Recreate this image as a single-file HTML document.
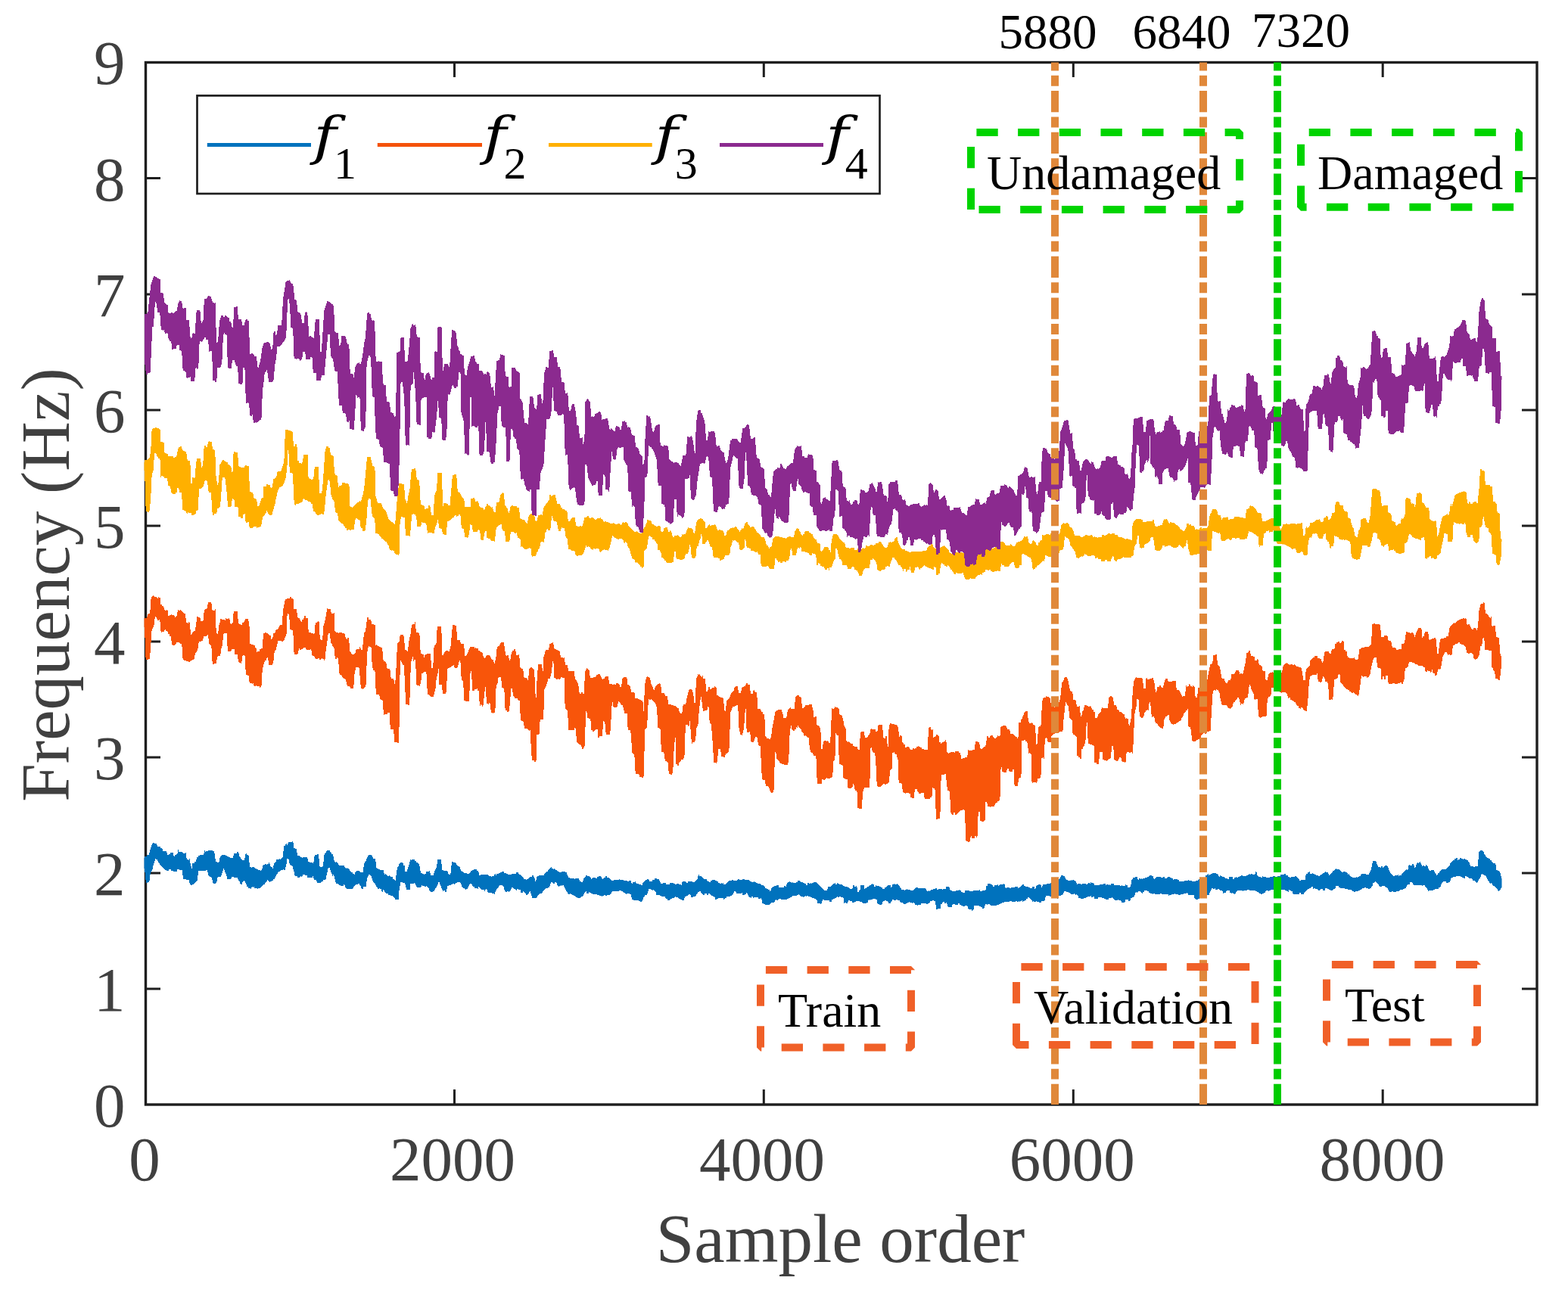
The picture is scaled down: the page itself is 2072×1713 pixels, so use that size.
<!DOCTYPE html>
<html><head><meta charset="utf-8"><title>Frequency vs sample order</title>
<style>
html,body{margin:0;padding:0;background:#fff;}
body{width:2072px;height:1713px;overflow:hidden;}
svg{display:block;}
.tk{font-family:"Liberation Serif","Times New Roman",serif;font-size:83px;fill:#404040;}
.lb{font-family:"Liberation Serif","Times New Roman",serif;font-size:91px;fill:#404040;}
.an{font-family:"Liberation Serif","Times New Roman",serif;font-size:64px;fill:#000;}
.lg{font-family:"Liberation Serif","Times New Roman",serif;fill:#000;}
</style></head>
<body>
<svg width="2072" height="1713" viewBox="0 0 2072 1713">
<rect width="2072" height="1713" fill="#fff"/>
<!-- DATA -->
<!-- axes box -->
<g stroke="#1e1e1e" fill="none">
<rect x="192.5" y="82.5" width="1838.5" height="1377.5" stroke-width="3.4"/>
<path stroke-width="3" d="
M192.5 1307H212 M192.5 1154H212 M192.5 1001H212 M192.5 848H212 M192.5 695H212 M192.5 542H212 M192.5 389H212 M192.5 235.5H212
M2031 1307H2011 M2031 1154H2011 M2031 1001H2011 M2031 848H2011 M2031 695H2011 M2031 542H2011 M2031 389H2011 M2031 235.5H2011
M600.5 1460V1440 M1009.3 1460V1440 M1418.3 1460V1440 M1827.2 1460V1440
M600.5 82.5V102 M1009.3 82.5V102 M1418.3 82.5V102 M1827.2 82.5V102"/>
</g>
<g id="curves">
<polygon fill="#0072BD" points="190.5,1134 191,1134 191,1132 194,1132 194,1130 197,1130 197,1127 198,1127 198,1123 199,1123 199,1120 200,1120 200,1117 201,1117 201,1115 202,1115 202,1114 204,1114 204,1115 207,1115 207,1117 208,1117 208,1119 212,1119 212,1121 214,1121 214,1122 215,1122 215,1125 220,1125 220,1127 221,1127 221,1130 223,1130 223,1129 225,1129 225,1127 229,1127 229,1131 230,1131 230,1132 231,1132 231,1130 233,1130 233,1129 234,1129 234,1128 235,1128 235,1123 236,1123 236,1126 241,1126 241,1127 242,1127 242,1128 245,1128 245,1127 246,1127 246,1134 247,1134 247,1136 249,1136 249,1137 250,1137 250,1135 251,1135 251,1141 252,1141 252,1145 253,1145 253,1148 254,1148 254,1141 257,1141 257,1139 259,1139 259,1136 260,1136 260,1133 262,1133 262,1131 264,1131 264,1130 269,1130 269,1128 270,1128 270,1124 271,1124 271,1126 272,1126 272,1125 275,1125 275,1124 281,1124 281,1125 283,1125 283,1128 284,1128 284,1135 285,1135 285,1139 287,1139 287,1140 289,1140 289,1139 290,1139 290,1134 291,1134 291,1132 292,1132 292,1131 293,1131 293,1130 298,1130 298,1131 300,1131 300,1132 302,1132 302,1133 304,1133 304,1134 308,1134 308,1131 309,1131 309,1128 313,1128 313,1126 315,1126 315,1128 316,1128 316,1132 317,1132 317,1133 318,1133 318,1135 319,1135 319,1136 320,1136 320,1137 323,1137 323,1134 324,1134 324,1129 325,1129 325,1128 326,1128 326,1130 328,1130 328,1131 329,1131 329,1140 330,1140 330,1146 332,1146 332,1147 333,1147 333,1146 336,1146 336,1147 337,1147 337,1148 339,1148 339,1149 341,1149 341,1150 344,1150 344,1151 345,1151 345,1150 346,1150 346,1148 347,1148 347,1144 348,1144 348,1143 350,1143 350,1142 352,1142 352,1143 353,1143 353,1142 355,1142 355,1140 356,1140 356,1142 357,1142 357,1145 358,1145 358,1146 360,1146 360,1148 361,1148 361,1144 362,1144 362,1141 363,1141 363,1140 364,1140 364,1139 365,1139 365,1136 369,1136 369,1135 370,1135 370,1136 371,1136 371,1135 372,1135 372,1134 373,1134 373,1133 374,1133 374,1125 375,1125 375,1118 377,1118 377,1116 378,1116 378,1115 379,1115 379,1117 380,1117 380,1115 381,1115 381,1113 386,1113 386,1112 387,1112 387,1114 388,1114 388,1121 390,1121 390,1122 392,1122 392,1127 393,1127 393,1131 396,1131 396,1132 397,1132 397,1133 399,1133 399,1134 400,1134 400,1133 406,1133 406,1135 407,1135 407,1139 409,1139 409,1140 413,1140 413,1141 414,1141 414,1139 415,1139 415,1132 416,1132 416,1130 419,1130 419,1129 421,1129 421,1135 422,1135 422,1145 423,1145 423,1146 426,1146 426,1145 427,1145 427,1139 428,1139 428,1130 429,1130 429,1128 430,1128 430,1127 431,1127 431,1125 432,1125 432,1124 436,1124 436,1126 437,1126 437,1127 438,1127 438,1129 440,1129 440,1132 441,1132 441,1137 442,1137 442,1139 443,1139 443,1140 444,1140 444,1139 445,1139 445,1140 446,1140 446,1141 447,1141 447,1143 448,1143 448,1144 455,1144 455,1146 456,1146 456,1147 457,1147 457,1148 458,1148 458,1147 459,1147 459,1148 461,1148 461,1149 462,1149 462,1151 463,1151 463,1152 464,1152 464,1153 466,1153 466,1155 468,1155 468,1156 469,1156 469,1153 470,1153 470,1152 471,1152 471,1151 475,1151 475,1152 476,1152 476,1153 480,1153 480,1146 481,1146 481,1141 482,1141 482,1139 483,1139 483,1138 484,1138 484,1135 485,1135 485,1133 486,1133 486,1131 487,1131 487,1130 491,1130 491,1131 492,1131 492,1133 493,1133 493,1135 496,1135 496,1139 497,1139 497,1147 498,1147 498,1148 500,1148 500,1149 502,1149 502,1150 507,1150 507,1154 508,1154 508,1156 509,1156 509,1155 510,1155 510,1156 511,1156 511,1157 512,1157 512,1158 514,1158 514,1157 515,1157 515,1158 516,1158 516,1159 519,1159 519,1162 521,1162 521,1163 522,1163 522,1164 523,1164 523,1157 524,1157 524,1150 525,1150 525,1146 526,1146 526,1145 527,1145 527,1142 528,1142 528,1141 529,1141 529,1140 532,1140 532,1141 533,1141 533,1144 535,1144 535,1152 538,1152 538,1149 539,1149 539,1146 540,1146 540,1143 541,1143 541,1139 542,1139 542,1136 543,1136 543,1137 544,1137 544,1136 548,1136 548,1138 550,1138 550,1140 552,1140 552,1141 553,1141 553,1142 554,1142 554,1145 555,1145 555,1151 556,1151 556,1154 558,1154 558,1155 560,1155 560,1156 561,1156 561,1155 563,1155 563,1152 567,1152 567,1151 568,1151 568,1154 569,1154 569,1157 573,1157 573,1154 574,1154 574,1151 575,1151 575,1149 576,1149 576,1147 577,1147 577,1142 578,1142 578,1136 583,1136 583,1142 584,1142 584,1150 586,1150 586,1151 591,1151 591,1152 592,1152 592,1155 593,1155 593,1156 595,1156 595,1154 596,1154 596,1144 597,1144 597,1139 599,1139 599,1140 602,1140 602,1141 603,1141 603,1143 604,1143 604,1144 605,1144 605,1145 607,1145 607,1146 608,1146 608,1149 609,1149 609,1151 610,1151 610,1152 612,1152 612,1153 613,1153 613,1154 617,1154 617,1155 620,1155 620,1154 621,1154 621,1153 622,1153 622,1151 624,1151 624,1150 626,1150 626,1149 630,1149 630,1151 632,1151 632,1153 633,1153 633,1157 635,1157 635,1156 645,1156 645,1157 646,1157 646,1158 649,1158 649,1159 650,1159 650,1158 653,1158 653,1156 654,1156 654,1155 655,1155 655,1157 656,1157 656,1155 659,1155 659,1154 661,1154 661,1153 663,1153 663,1152 666,1152 666,1154 669,1154 669,1155 671,1155 671,1156 676,1156 676,1155 682,1155 682,1153 685,1153 685,1155 686,1155 686,1156 688,1156 688,1157 689,1157 689,1158 690,1158 690,1159 691,1159 691,1160 692,1160 692,1162 695,1162 695,1163 696,1163 696,1162 698,1162 698,1161 699,1161 699,1160 700,1160 700,1159 703,1159 703,1157 705,1157 705,1159 706,1159 706,1161 707,1161 707,1165 708,1165 708,1163 709,1163 709,1159 710,1159 710,1158 712,1158 712,1157 719,1157 719,1155 720,1155 720,1154 721,1154 721,1153 722,1153 722,1152 724,1152 724,1150 725,1150 725,1149 726,1149 726,1148 727,1148 727,1147 728,1147 728,1146 729,1146 729,1148 731,1148 731,1149 732,1149 732,1148 733,1148 733,1149 734,1149 734,1150 736,1150 736,1151 737,1151 737,1152 739,1152 739,1153 742,1153 742,1152 747,1152 747,1153 749,1153 749,1156 750,1156 750,1158 751,1158 751,1160 753,1160 753,1161 759,1161 759,1162 760,1162 760,1161 765,1161 765,1163 766,1163 766,1165 768,1165 768,1166 770,1166 770,1164 771,1164 771,1161 772,1161 772,1160 773,1160 773,1159 774,1159 774,1157 776,1157 776,1158 779,1158 779,1159 780,1159 780,1160 781,1160 781,1162 782,1162 782,1161 783,1161 783,1160 787,1160 787,1161 789,1161 789,1159 791,1159 791,1158 794,1158 794,1159 795,1159 795,1161 796,1161 796,1162 797,1162 797,1161 798,1161 798,1160 800,1160 800,1158 802,1158 802,1160 805,1160 805,1161 806,1161 806,1162 807,1162 807,1163 808,1163 808,1164 811,1164 811,1163 818,1163 818,1162 819,1162 819,1163 824,1163 824,1164 829,1164 829,1165 831,1165 831,1164 834,1164 834,1167 835,1167 835,1168 836,1168 836,1166 839,1166 839,1165 840,1165 840,1167 841,1167 841,1168 844,1168 844,1169 847,1169 847,1170 849,1170 849,1167 850,1167 850,1166 851,1166 851,1165 852,1165 852,1164 853,1164 853,1163 855,1163 855,1162 857,1162 857,1163 858,1163 858,1165 862,1165 862,1163 865,1163 865,1161 868,1161 868,1162 871,1162 871,1164 872,1164 872,1166 873,1166 873,1168 876,1168 876,1167 880,1167 880,1169 885,1169 885,1167 890,1167 890,1168 892,1168 892,1169 894,1169 894,1168 897,1168 897,1169 900,1169 900,1170 901,1170 901,1166 902,1166 902,1165 906,1165 906,1166 907,1166 907,1167 909,1167 909,1165 915,1165 915,1166 918,1166 918,1165 919,1165 919,1164 920,1164 920,1163 921,1163 921,1162 922,1162 922,1158 923,1158 923,1156 924,1156 924,1158 927,1158 927,1159 928,1159 928,1160 929,1160 929,1161 930,1161 930,1162 934,1162 934,1164 935,1164 935,1165 937,1165 937,1166 939,1166 939,1164 941,1164 941,1163 945,1163 945,1164 947,1164 947,1165 949,1165 949,1167 951,1167 951,1168 953,1168 953,1167 954,1167 954,1168 955,1168 955,1167 956,1167 956,1169 959,1169 959,1168 960,1168 960,1167 961,1167 961,1166 962,1166 962,1165 963,1165 963,1164 967,1164 967,1163 969,1163 969,1164 974,1164 974,1163 975,1163 975,1162 977,1162 977,1163 981,1163 981,1162 984,1162 984,1163 990,1163 990,1164 991,1164 991,1165 993,1165 993,1166 996,1166 996,1165 997,1165 997,1166 999,1166 999,1167 1001,1167 1001,1168 1005,1168 1005,1169 1006,1169 1006,1170 1009,1170 1009,1171 1010,1171 1010,1172 1011,1172 1011,1174 1013,1174 1013,1175 1015,1175 1015,1176 1017,1176 1017,1178 1018,1178 1018,1177 1019,1177 1019,1174 1020,1174 1020,1173 1021,1173 1021,1172 1023,1172 1023,1171 1026,1171 1026,1170 1029,1170 1029,1173 1036,1173 1036,1171 1038,1171 1038,1172 1039,1172 1039,1169 1040,1169 1040,1167 1041,1167 1041,1166 1043,1166 1043,1165 1044,1165 1044,1166 1046,1166 1046,1167 1047,1167 1047,1166 1048,1166 1048,1167 1052,1167 1052,1166 1054,1166 1054,1164 1057,1164 1057,1165 1058,1165 1058,1166 1061,1166 1061,1167 1063,1167 1063,1168 1065,1168 1065,1170 1067,1170 1067,1167 1069,1167 1069,1168 1071,1168 1071,1167 1072,1167 1072,1168 1073,1168 1073,1167 1075,1167 1075,1166 1079,1166 1079,1167 1080,1167 1080,1168 1081,1168 1081,1169 1082,1169 1082,1170 1083,1170 1083,1171 1084,1171 1084,1172 1085,1172 1085,1173 1086,1173 1086,1174 1087,1174 1087,1175 1088,1175 1088,1176 1089,1176 1089,1177 1093,1177 1093,1175 1094,1175 1094,1172 1098,1172 1098,1171 1099,1171 1099,1170 1100,1170 1100,1169 1101,1169 1101,1168 1103,1168 1103,1167 1104,1167 1104,1169 1106,1169 1106,1167 1107,1167 1107,1168 1109,1168 1109,1169 1113,1169 1113,1170 1114,1170 1114,1171 1116,1171 1116,1172 1120,1172 1120,1173 1122,1173 1122,1174 1123,1174 1123,1175 1126,1175 1126,1174 1127,1174 1127,1170 1129,1170 1129,1172 1131,1172 1131,1171 1132,1171 1132,1173 1133,1173 1133,1179 1135,1179 1135,1177 1136,1177 1136,1176 1137,1176 1137,1170 1142,1170 1142,1175 1143,1175 1143,1174 1145,1174 1145,1173 1146,1173 1146,1172 1148,1172 1148,1171 1149,1171 1149,1170 1151,1170 1151,1169 1152,1169 1152,1168 1153,1168 1153,1169 1155,1169 1155,1172 1157,1172 1157,1170 1158,1170 1158,1171 1162,1171 1162,1172 1164,1172 1164,1173 1166,1173 1166,1175 1169,1175 1169,1173 1171,1173 1171,1172 1172,1172 1172,1171 1173,1171 1173,1170 1177,1170 1177,1173 1178,1173 1178,1172 1179,1172 1179,1169 1181,1169 1181,1168 1182,1168 1182,1169 1185,1169 1185,1168 1186,1168 1186,1169 1187,1169 1187,1170 1188,1170 1188,1171 1189,1171 1189,1173 1190,1173 1190,1174 1191,1174 1191,1176 1195,1176 1195,1177 1196,1177 1196,1176 1198,1176 1198,1175 1199,1175 1199,1176 1203,1176 1203,1177 1207,1177 1207,1176 1208,1176 1208,1175 1209,1175 1209,1174 1210,1174 1210,1173 1213,1173 1213,1174 1223,1174 1223,1175 1224,1175 1224,1177 1225,1177 1225,1178 1227,1178 1227,1177 1228,1177 1228,1178 1229,1178 1229,1177 1230,1177 1230,1176 1233,1176 1233,1175 1236,1175 1236,1174 1238,1174 1238,1176 1240,1176 1240,1175 1245,1175 1245,1176 1246,1176 1246,1175 1250,1175 1250,1172 1254,1172 1254,1173 1255,1173 1255,1176 1256,1176 1256,1177 1258,1177 1258,1178 1263,1178 1263,1177 1267,1177 1267,1176 1268,1176 1268,1177 1270,1177 1270,1179 1272,1179 1272,1180 1275,1180 1275,1177 1281,1177 1281,1178 1286,1178 1286,1177 1294,1177 1294,1176 1295,1176 1295,1178 1298,1178 1298,1177 1302,1177 1302,1176 1303,1176 1303,1171 1305,1171 1305,1168 1309,1168 1309,1169 1311,1169 1311,1170 1312,1170 1312,1172 1314,1172 1314,1170 1318,1170 1318,1169 1319,1169 1319,1171 1320,1171 1320,1170 1321,1170 1321,1169 1326,1169 1326,1168 1327,1168 1327,1169 1328,1169 1328,1173 1329,1173 1329,1174 1330,1174 1330,1173 1334,1173 1334,1174 1336,1174 1336,1173 1341,1173 1341,1172 1345,1172 1345,1174 1346,1174 1346,1173 1348,1173 1348,1172 1349,1172 1349,1171 1350,1171 1350,1170 1351,1170 1351,1169 1353,1169 1353,1171 1355,1171 1355,1172 1359,1172 1359,1173 1361,1173 1361,1174 1364,1174 1364,1172 1367,1172 1367,1175 1368,1175 1368,1174 1369,1174 1369,1171 1370,1171 1370,1170 1372,1170 1372,1169 1375,1169 1375,1170 1376,1170 1376,1173 1377,1173 1377,1171 1378,1171 1378,1169 1383,1169 1383,1168 1388,1168 1388,1167 1392,1167 1392,1166 1395,1166 1395,1165 1397,1165 1397,1163 1399,1163 1399,1162 1400,1162 1400,1161 1401,1161 1401,1159 1402,1159 1402,1157 1405,1157 1405,1158 1407,1158 1407,1160 1408,1160 1408,1162 1409,1162 1409,1163 1411,1163 1411,1164 1415,1164 1415,1163 1416,1163 1416,1164 1417,1164 1417,1163 1419,1163 1419,1164 1421,1164 1421,1165 1422,1165 1422,1167 1423,1167 1423,1169 1424,1169 1424,1168 1428,1168 1428,1169 1430,1169 1430,1168 1435,1168 1435,1169 1437,1169 1437,1168 1438,1168 1438,1167 1440,1167 1440,1168 1441,1168 1441,1166 1442,1166 1442,1167 1445,1167 1445,1168 1446,1168 1446,1170 1453,1170 1453,1169 1458,1169 1458,1168 1461,1168 1461,1170 1462,1170 1462,1169 1465,1169 1465,1170 1466,1170 1466,1169 1467,1169 1467,1170 1468,1170 1468,1168 1472,1168 1472,1170 1480,1170 1480,1171 1482,1171 1482,1170 1483,1170 1483,1171 1487,1171 1487,1169 1488,1169 1488,1170 1490,1170 1490,1173 1493,1173 1493,1172 1494,1172 1494,1169 1495,1169 1495,1163 1496,1163 1496,1162 1497,1162 1497,1160 1500,1160 1500,1159 1503,1159 1503,1162 1504,1162 1504,1163 1505,1163 1505,1161 1507,1161 1507,1162 1508,1162 1508,1161 1509,1161 1509,1162 1510,1162 1510,1161 1513,1161 1513,1160 1516,1160 1516,1159 1518,1159 1518,1158 1519,1158 1519,1157 1522,1157 1522,1158 1524,1158 1524,1161 1525,1161 1525,1162 1526,1162 1526,1161 1527,1161 1527,1160 1528,1160 1528,1159 1534,1159 1534,1160 1537,1160 1537,1159 1539,1159 1539,1161 1542,1161 1542,1160 1543,1160 1543,1159 1546,1159 1546,1160 1548,1160 1548,1161 1550,1161 1550,1163 1551,1163 1551,1162 1556,1162 1556,1163 1558,1163 1558,1165 1565,1165 1565,1164 1570,1164 1570,1163 1571,1163 1571,1164 1575,1164 1575,1165 1580,1165 1580,1164 1583,1164 1583,1163 1584,1163 1584,1162 1586,1162 1586,1163 1588,1163 1588,1162 1589,1162 1589,1161 1591,1161 1591,1160 1593,1160 1593,1157 1595,1157 1595,1156 1596,1156 1596,1155 1597,1155 1597,1157 1598,1157 1598,1156 1600,1156 1600,1155 1602,1155 1602,1154 1607,1154 1607,1155 1609,1155 1609,1156 1610,1156 1610,1158 1611,1158 1611,1159 1612,1159 1612,1157 1613,1157 1613,1158 1615,1158 1615,1159 1618,1159 1618,1160 1619,1160 1619,1161 1622,1161 1622,1162 1624,1162 1624,1159 1629,1159 1629,1162 1631,1162 1631,1160 1633,1160 1633,1159 1634,1159 1634,1160 1636,1160 1636,1159 1638,1159 1638,1158 1640,1158 1640,1157 1642,1157 1642,1158 1647,1158 1647,1157 1649,1157 1649,1156 1651,1156 1651,1155 1652,1155 1652,1156 1653,1156 1653,1155 1655,1155 1655,1156 1658,1156 1658,1155 1659,1155 1659,1152 1660,1152 1660,1153 1661,1153 1661,1157 1662,1157 1662,1158 1663,1158 1663,1159 1666,1159 1666,1160 1668,1160 1668,1158 1669,1158 1669,1159 1673,1159 1673,1160 1678,1160 1678,1159 1682,1159 1682,1158 1685,1158 1685,1159 1688,1159 1688,1158 1692,1158 1692,1156 1697,1156 1697,1155 1699,1155 1699,1157 1702,1157 1702,1159 1704,1159 1704,1160 1706,1160 1706,1159 1711,1159 1711,1158 1713,1158 1713,1159 1714,1159 1714,1160 1715,1160 1715,1161 1716,1161 1716,1162 1717,1162 1717,1164 1719,1164 1719,1163 1725,1163 1725,1157 1726,1157 1726,1155 1728,1155 1728,1153 1730,1153 1730,1152 1731,1152 1731,1155 1734,1155 1734,1154 1735,1154 1735,1155 1737,1155 1737,1156 1739,1156 1739,1157 1742,1157 1742,1158 1744,1158 1744,1157 1745,1157 1745,1156 1747,1156 1747,1155 1748,1155 1748,1154 1750,1154 1750,1153 1751,1153 1751,1152 1752,1152 1752,1153 1755,1153 1755,1155 1756,1155 1756,1157 1757,1157 1757,1156 1758,1156 1758,1155 1759,1155 1759,1154 1760,1154 1760,1153 1761,1153 1761,1151 1763,1151 1763,1150 1764,1150 1764,1149 1765,1149 1765,1148 1766,1148 1766,1149 1770,1149 1770,1150 1771,1150 1771,1151 1772,1151 1772,1152 1773,1152 1773,1153 1775,1153 1775,1152 1778,1152 1778,1153 1780,1153 1780,1154 1781,1154 1781,1156 1782,1156 1782,1155 1783,1155 1783,1157 1784,1157 1784,1158 1785,1158 1785,1159 1787,1159 1787,1160 1792,1160 1792,1159 1793,1159 1793,1160 1794,1160 1794,1159 1796,1159 1796,1158 1798,1158 1798,1156 1799,1156 1799,1155 1805,1155 1805,1156 1809,1156 1809,1154 1810,1154 1810,1152 1811,1152 1811,1150 1812,1150 1812,1146 1813,1146 1813,1141 1814,1141 1814,1138 1818,1138 1818,1139 1819,1139 1819,1142 1820,1142 1820,1144 1821,1144 1821,1146 1824,1146 1824,1147 1825,1147 1825,1145 1827,1145 1827,1147 1828,1147 1828,1146 1829,1146 1829,1145 1830,1145 1830,1144 1833,1144 1833,1145 1834,1145 1834,1147 1835,1147 1835,1150 1836,1150 1836,1152 1837,1152 1837,1154 1838,1154 1838,1155 1839,1155 1839,1156 1840,1156 1840,1157 1841,1157 1841,1158 1843,1158 1843,1157 1847,1157 1847,1156 1848,1156 1848,1158 1849,1158 1849,1157 1852,1157 1852,1155 1853,1155 1853,1154 1854,1154 1854,1153 1855,1153 1855,1152 1856,1152 1856,1151 1857,1151 1857,1150 1858,1150 1858,1149 1859,1149 1859,1150 1860,1150 1860,1149 1861,1149 1861,1144 1862,1144 1862,1143 1863,1143 1863,1144 1866,1144 1866,1142 1868,1142 1868,1144 1869,1144 1869,1147 1870,1147 1870,1146 1871,1146 1871,1143 1872,1143 1872,1141 1873,1141 1873,1140 1874,1140 1874,1141 1875,1141 1875,1140 1876,1140 1876,1139 1877,1139 1877,1141 1878,1141 1878,1143 1879,1143 1879,1145 1880,1145 1880,1144 1882,1144 1882,1145 1884,1145 1884,1143 1885,1143 1885,1144 1886,1144 1886,1145 1887,1145 1887,1148 1888,1148 1888,1150 1889,1150 1889,1151 1891,1151 1891,1150 1895,1150 1895,1152 1896,1152 1896,1154 1897,1154 1897,1155 1898,1155 1898,1157 1899,1157 1899,1156 1900,1156 1900,1154 1902,1154 1902,1152 1903,1152 1903,1151 1904,1151 1904,1150 1905,1150 1905,1149 1911,1149 1911,1148 1912,1148 1912,1147 1913,1147 1913,1146 1914,1146 1914,1145 1915,1145 1915,1144 1916,1144 1916,1141 1917,1141 1917,1140 1918,1140 1918,1139 1919,1139 1919,1138 1920,1138 1920,1137 1922,1137 1922,1135 1924,1135 1924,1134 1926,1134 1926,1137 1927,1137 1927,1136 1929,1136 1929,1134 1931,1134 1931,1135 1933,1135 1933,1136 1934,1136 1934,1135 1936,1135 1936,1136 1938,1136 1938,1137 1940,1137 1940,1139 1941,1139 1941,1140 1942,1140 1942,1143 1943,1143 1943,1145 1947,1145 1947,1146 1949,1146 1949,1145 1953,1145 1953,1136 1954,1136 1954,1126 1955,1126 1955,1125 1956,1125 1956,1124 1959,1124 1959,1125 1960,1125 1960,1126 1961,1126 1961,1129 1962,1129 1962,1130 1963,1130 1963,1132 1964,1132 1964,1133 1965,1133 1965,1134 1967,1134 1967,1135 1969,1135 1969,1137 1971,1137 1971,1139 1972,1139 1972,1140 1973,1140 1973,1141 1976,1141 1976,1143 1977,1143 1977,1150 1979,1150 1979,1151 1981,1151 1981,1152 1982,1152 1982,1154 1983,1154 1983,1158 1984,1158 1984,1161 1984.5,1161 1984.5,1173 1984,1173 1984,1174 1983,1174 1983,1176 1982,1176 1982,1177 1981,1177 1981,1178 1980,1178 1980,1177 1979,1177 1979,1175 1978,1175 1978,1174 1977,1174 1977,1173 1976,1173 1976,1172 1975,1172 1975,1171 1973,1171 1973,1170 1972,1170 1972,1168 1971,1168 1971,1167 1970,1167 1970,1168 1969,1168 1969,1167 1968,1167 1968,1165 1967,1165 1967,1164 1966,1164 1966,1162 1965,1162 1965,1160 1964,1160 1964,1158 1963,1158 1963,1157 1961,1157 1961,1156 1959,1156 1959,1155 1958,1155 1958,1156 1957,1156 1957,1159 1956,1159 1956,1161 1955,1161 1955,1162 1954,1162 1954,1164 1953,1164 1953,1166 1952,1166 1952,1167 1951,1167 1951,1166 1950,1166 1950,1165 1949,1165 1949,1164 1946,1164 1946,1162 1945,1162 1945,1161 1941,1161 1941,1160 1940,1160 1940,1159 1938,1159 1938,1158 1936,1158 1936,1161 1934,1161 1934,1160 1932,1160 1932,1159 1930,1159 1930,1158 1924,1158 1924,1159 1920,1159 1920,1160 1918,1160 1918,1161 1917,1161 1917,1164 1916,1164 1916,1166 1914,1166 1914,1167 1911,1167 1911,1165 1907,1165 1907,1166 1906,1166 1906,1167 1905,1167 1905,1169 1904,1169 1904,1172 1903,1172 1903,1173 1901,1173 1901,1175 1896,1175 1896,1176 1894,1176 1894,1177 1888,1177 1888,1178 1887,1178 1887,1176 1886,1176 1886,1174 1885,1174 1885,1173 1884,1173 1884,1172 1883,1172 1883,1170 1880,1170 1880,1171 1879,1171 1879,1170 1868,1170 1868,1169 1867,1169 1867,1167 1866,1167 1866,1166 1863,1166 1863,1169 1860,1169 1860,1170 1859,1170 1859,1172 1858,1172 1858,1174 1856,1174 1856,1175 1854,1175 1854,1176 1850,1176 1850,1177 1849,1177 1849,1178 1845,1178 1845,1179 1841,1179 1841,1178 1839,1178 1839,1179 1836,1179 1836,1178 1835,1178 1835,1176 1834,1176 1834,1174 1833,1174 1833,1173 1831,1173 1831,1172 1830,1172 1830,1171 1826,1171 1826,1172 1823,1172 1823,1171 1822,1171 1822,1169 1821,1169 1821,1168 1820,1168 1820,1167 1819,1167 1819,1166 1818,1166 1818,1165 1817,1165 1817,1166 1816,1166 1816,1167 1814,1167 1814,1171 1813,1171 1813,1172 1812,1172 1812,1174 1810,1174 1810,1175 1808,1175 1808,1174 1805,1174 1805,1173 1803,1173 1803,1174 1800,1174 1800,1175 1799,1175 1799,1176 1797,1176 1797,1177 1795,1177 1795,1178 1791,1178 1791,1179 1789,1179 1789,1178 1787,1178 1787,1177 1786,1177 1786,1176 1781,1176 1781,1175 1777,1175 1777,1174 1771,1174 1771,1173 1769,1173 1769,1171 1765,1171 1765,1174 1764,1174 1764,1175 1762,1175 1762,1176 1761,1176 1761,1177 1758,1177 1758,1176 1756,1176 1756,1175 1754,1175 1754,1174 1751,1174 1751,1177 1748,1177 1748,1175 1745,1175 1745,1176 1744,1176 1744,1177 1742,1177 1742,1176 1741,1176 1741,1175 1738,1175 1738,1174 1736,1174 1736,1175 1735,1175 1735,1172 1733,1172 1733,1173 1732,1173 1732,1174 1730,1174 1730,1175 1728,1175 1728,1176 1727,1176 1727,1177 1726,1177 1726,1178 1725,1178 1725,1179 1724,1179 1724,1180 1723,1180 1723,1182 1719,1182 1719,1180 1717,1180 1717,1182 1709,1182 1709,1181 1708,1181 1708,1178 1706,1178 1706,1177 1704,1177 1704,1176 1703,1176 1703,1179 1702,1179 1702,1178 1700,1178 1700,1177 1698,1177 1698,1176 1693,1176 1693,1177 1687,1177 1687,1176 1685,1176 1685,1177 1684,1177 1684,1176 1679,1176 1679,1177 1677,1177 1677,1178 1676,1178 1676,1177 1673,1177 1673,1178 1672,1178 1672,1180 1670,1180 1670,1181 1668,1181 1668,1182 1666,1182 1666,1181 1664,1181 1664,1180 1663,1180 1663,1179 1661,1179 1661,1178 1659,1178 1659,1177 1651,1177 1651,1176 1648,1176 1648,1177 1643,1177 1643,1178 1642,1178 1642,1177 1635,1177 1635,1178 1634,1178 1634,1179 1633,1179 1633,1181 1632,1181 1632,1182 1631,1182 1631,1181 1629,1181 1629,1180 1628,1180 1628,1181 1627,1181 1627,1180 1625,1180 1625,1177 1621,1177 1621,1178 1620,1178 1620,1180 1617,1180 1617,1181 1616,1181 1616,1178 1615,1178 1615,1177 1612,1177 1612,1176 1611,1176 1611,1175 1609,1175 1609,1176 1606,1176 1606,1174 1605,1174 1605,1175 1603,1175 1603,1174 1601,1174 1601,1176 1600,1176 1600,1178 1599,1178 1599,1180 1598,1180 1598,1183 1592,1183 1592,1184 1590,1184 1590,1187 1585,1187 1585,1188 1583,1188 1583,1189 1580,1189 1580,1188 1579,1188 1579,1187 1578,1187 1578,1183 1570,1183 1570,1181 1569,1181 1569,1180 1568,1180 1568,1181 1564,1181 1564,1182 1560,1182 1560,1183 1557,1183 1557,1182 1553,1182 1553,1181 1552,1181 1552,1182 1548,1182 1548,1183 1545,1183 1545,1184 1544,1184 1544,1182 1535,1182 1535,1181 1533,1181 1533,1182 1526,1182 1526,1181 1524,1181 1524,1182 1523,1182 1523,1181 1520,1181 1520,1180 1518,1180 1518,1178 1516,1178 1516,1177 1512,1177 1512,1179 1510,1179 1510,1181 1509,1181 1509,1180 1508,1180 1508,1179 1507,1179 1507,1178 1504,1178 1504,1179 1503,1179 1503,1180 1502,1180 1502,1179 1501,1179 1501,1180 1500,1180 1500,1183 1499,1183 1499,1185 1498,1185 1498,1186 1496,1186 1496,1187 1494,1187 1494,1190 1493,1190 1493,1191 1491,1191 1491,1189 1487,1189 1487,1192 1486,1192 1486,1193 1482,1193 1482,1191 1481,1191 1481,1190 1478,1190 1478,1189 1477,1189 1477,1190 1473,1190 1473,1189 1472,1189 1472,1188 1471,1188 1471,1187 1470,1187 1470,1186 1469,1186 1469,1187 1465,1187 1465,1189 1461,1189 1461,1188 1459,1188 1459,1187 1456,1187 1456,1186 1451,1186 1451,1188 1446,1188 1446,1185 1444,1185 1444,1186 1442,1186 1442,1184 1441,1184 1441,1185 1437,1185 1437,1186 1435,1186 1435,1187 1432,1187 1432,1188 1428,1188 1428,1187 1425,1187 1425,1184 1424,1184 1424,1183 1423,1183 1423,1182 1422,1182 1422,1183 1421,1183 1421,1182 1420,1182 1420,1181 1419,1181 1419,1182 1415,1182 1415,1181 1414,1181 1414,1180 1412,1180 1412,1179 1409,1179 1409,1178 1406,1178 1406,1180 1405,1180 1405,1182 1404,1182 1404,1183 1402,1183 1402,1184 1399,1184 1399,1187 1398,1187 1398,1188 1397,1188 1397,1185 1395,1185 1395,1184 1391,1184 1391,1187 1389,1187 1389,1185 1387,1185 1387,1184 1382,1184 1382,1186 1381,1186 1381,1190 1380,1190 1380,1191 1376,1191 1376,1193 1373,1193 1373,1192 1370,1192 1370,1191 1369,1191 1369,1192 1366,1192 1366,1191 1365,1191 1365,1192 1364,1192 1364,1190 1363,1190 1363,1189 1362,1189 1362,1188 1361,1188 1361,1187 1360,1187 1360,1186 1358,1186 1358,1188 1356,1188 1356,1190 1354,1190 1354,1191 1352,1191 1352,1192 1351,1192 1351,1190 1350,1190 1350,1191 1348,1191 1348,1192 1347,1192 1347,1191 1346,1191 1346,1192 1344,1192 1344,1191 1342,1191 1342,1192 1337,1192 1337,1191 1334,1191 1334,1192 1327,1192 1327,1193 1324,1193 1324,1194 1322,1194 1322,1195 1320,1195 1320,1196 1317,1196 1317,1197 1309,1197 1309,1196 1308,1196 1308,1195 1305,1195 1305,1196 1304,1196 1304,1195 1302,1195 1302,1197 1301,1197 1301,1200 1300,1200 1300,1201 1298,1201 1298,1199 1296,1199 1296,1198 1294,1198 1294,1197 1287,1197 1287,1202 1286,1202 1286,1203 1285,1203 1285,1204 1284,1204 1284,1202 1280,1202 1280,1201 1279,1201 1279,1198 1278,1198 1278,1197 1275,1197 1275,1198 1272,1198 1272,1197 1270,1197 1270,1196 1268,1196 1268,1194 1266,1194 1266,1196 1262,1196 1262,1195 1259,1195 1259,1196 1258,1196 1258,1199 1253,1199 1253,1198 1252,1198 1252,1195 1251,1195 1251,1193 1250,1193 1250,1194 1248,1194 1248,1192 1246,1192 1246,1193 1245,1193 1245,1195 1243,1195 1243,1201 1239,1201 1239,1202 1237,1202 1237,1196 1236,1196 1236,1191 1234,1191 1234,1190 1232,1190 1232,1191 1229,1191 1229,1193 1228,1193 1228,1194 1226,1194 1226,1195 1224,1195 1224,1194 1217,1194 1217,1196 1213,1196 1213,1197 1212,1197 1212,1196 1209,1196 1209,1194 1208,1194 1208,1193 1206,1193 1206,1194 1205,1194 1205,1193 1202,1193 1202,1192 1201,1192 1201,1193 1199,1193 1199,1194 1197,1194 1197,1195 1194,1195 1194,1194 1193,1194 1193,1193 1190,1193 1190,1192 1189,1192 1189,1190 1186,1190 1186,1189 1184,1189 1184,1190 1181,1190 1181,1189 1179,1189 1179,1191 1178,1191 1178,1192 1177,1192 1177,1194 1174,1194 1174,1192 1173,1192 1173,1191 1171,1191 1171,1190 1169,1190 1169,1191 1167,1191 1167,1192 1166,1192 1166,1195 1165,1195 1165,1196 1162,1196 1162,1195 1160,1195 1160,1194 1159,1194 1159,1189 1157,1189 1157,1188 1153,1188 1153,1189 1150,1189 1150,1190 1149,1190 1149,1189 1148,1189 1148,1190 1147,1190 1147,1193 1145,1193 1145,1194 1140,1194 1140,1193 1139,1193 1139,1192 1136,1192 1136,1191 1131,1191 1131,1192 1129,1192 1129,1193 1126,1193 1126,1191 1123,1191 1123,1190 1121,1190 1121,1192 1120,1192 1120,1194 1118,1194 1118,1193 1116,1193 1116,1194 1115,1194 1115,1187 1114,1187 1114,1186 1111,1186 1111,1185 1109,1185 1109,1186 1107,1186 1107,1185 1106,1185 1106,1186 1105,1186 1105,1187 1103,1187 1103,1188 1101,1188 1101,1189 1099,1189 1099,1192 1096,1192 1096,1190 1089,1190 1089,1189 1087,1189 1087,1191 1086,1191 1086,1194 1085,1194 1085,1195 1084,1195 1084,1194 1080,1194 1080,1190 1079,1190 1079,1189 1078,1189 1078,1188 1076,1188 1076,1187 1073,1187 1073,1186 1071,1186 1071,1185 1068,1185 1068,1184 1066,1184 1066,1185 1065,1185 1065,1184 1064,1184 1064,1185 1062,1185 1062,1186 1061,1186 1061,1185 1058,1185 1058,1184 1057,1184 1057,1183 1056,1183 1056,1182 1055,1182 1055,1183 1053,1183 1053,1184 1047,1184 1047,1185 1046,1185 1046,1186 1044,1186 1044,1187 1042,1187 1042,1188 1040,1188 1040,1189 1032,1189 1032,1188 1029,1188 1029,1189 1028,1189 1028,1190 1026,1190 1026,1189 1025,1189 1025,1190 1024,1190 1024,1192 1023,1192 1023,1193 1019,1193 1019,1194 1018,1194 1018,1195 1017,1195 1017,1196 1011,1196 1011,1195 1009,1195 1009,1194 1007,1194 1007,1189 1006,1189 1006,1187 1005,1187 1005,1188 1002,1188 1002,1186 996,1186 996,1187 995,1187 995,1185 993,1185 993,1187 992,1187 992,1186 990,1186 990,1185 989,1185 989,1183 988,1183 988,1181 987,1181 987,1180 986,1180 986,1182 984,1182 984,1183 981,1183 981,1180 980,1180 980,1181 973,1181 973,1179 972,1179 972,1178 970,1178 970,1180 969,1180 969,1182 968,1182 968,1183 967,1183 967,1184 965,1184 965,1185 960,1185 960,1187 958,1187 958,1188 957,1188 957,1189 956,1189 956,1187 949,1187 949,1188 947,1188 947,1189 945,1189 945,1186 944,1186 944,1185 942,1185 942,1184 940,1184 940,1183 939,1183 939,1182 938,1182 938,1181 936,1181 936,1183 934,1183 934,1181 931,1181 931,1183 929,1183 929,1182 928,1182 928,1181 927,1181 927,1180 926,1180 926,1178 924,1178 924,1179 922,1179 922,1181 921,1181 921,1182 920,1182 920,1184 919,1184 919,1185 916,1185 916,1186 913,1186 913,1183 912,1183 912,1182 910,1182 910,1183 909,1183 909,1184 907,1184 907,1185 905,1185 905,1187 904,1187 904,1190 901,1190 901,1189 899,1189 899,1188 897,1188 897,1187 896,1187 896,1186 893,1186 893,1185 892,1185 892,1186 891,1186 891,1187 888,1187 888,1188 886,1188 886,1189 885,1189 885,1190 882,1190 882,1188 880,1188 880,1187 879,1187 879,1185 874,1185 874,1184 872,1184 872,1183 867,1183 867,1179 866,1179 866,1178 865,1178 865,1177 864,1177 864,1176 863,1176 863,1177 862,1177 862,1176 860,1176 860,1175 857,1175 857,1178 856,1178 856,1181 855,1181 855,1183 852,1183 852,1185 851,1185 851,1186 850,1186 850,1189 849,1189 849,1191 848,1191 848,1192 846,1192 846,1191 844,1191 844,1190 837,1190 837,1189 835,1189 835,1186 834,1186 834,1182 832,1182 832,1181 828,1181 828,1182 827,1182 827,1181 826,1181 826,1180 824,1180 824,1179 823,1179 823,1178 821,1178 821,1177 818,1177 818,1178 809,1178 809,1179 808,1179 808,1181 807,1181 807,1182 806,1182 806,1183 802,1183 802,1184 800,1184 800,1183 798,1183 798,1184 796,1184 796,1185 795,1185 795,1184 792,1184 792,1183 789,1183 789,1182 783,1182 783,1181 781,1181 781,1180 779,1180 779,1179 778,1179 778,1181 775,1181 775,1178 774,1178 774,1179 773,1179 773,1180 772,1180 772,1182 771,1182 771,1184 770,1184 770,1185 768,1185 768,1186 767,1186 767,1187 763,1187 763,1186 761,1186 761,1185 760,1185 760,1184 758,1184 758,1183 756,1183 756,1182 754,1182 754,1181 753,1181 753,1182 751,1182 751,1181 750,1181 750,1179 749,1179 749,1178 748,1178 748,1176 747,1176 747,1174 746,1174 746,1172 745,1172 745,1170 743,1170 743,1171 742,1171 742,1170 741,1170 741,1171 739,1171 739,1172 738,1172 738,1171 737,1171 737,1170 736,1170 736,1167 735,1167 735,1166 733,1166 733,1168 731,1168 731,1167 730,1167 730,1166 728,1166 728,1168 727,1168 727,1171 726,1171 726,1173 724,1173 724,1174 721,1174 721,1175 720,1175 720,1176 719,1176 719,1177 718,1177 718,1178 717,1178 717,1180 716,1180 716,1181 713,1181 713,1182 712,1182 712,1183 711,1183 711,1184 710,1184 710,1186 709,1186 709,1187 703,1187 703,1184 702,1184 702,1181 701,1181 701,1178 700,1178 700,1179 699,1179 699,1181 698,1181 698,1182 697,1182 697,1183 695,1183 695,1181 694,1181 694,1180 693,1180 693,1179 692,1179 692,1178 691,1178 691,1180 688,1180 688,1176 685,1176 685,1175 683,1175 683,1177 682,1177 682,1176 681,1176 681,1175 679,1175 679,1174 678,1174 678,1173 676,1173 676,1175 675,1175 675,1177 674,1177 674,1178 673,1178 673,1179 672,1179 672,1178 670,1178 670,1179 668,1179 668,1178 667,1178 667,1176 666,1176 666,1172 665,1172 665,1171 664,1171 664,1170 660,1170 660,1171 659,1171 659,1173 658,1173 658,1174 657,1174 657,1175 656,1175 656,1177 655,1177 655,1179 654,1179 654,1182 653,1182 653,1181 650,1181 650,1180 645,1180 645,1179 644,1179 644,1176 643,1176 643,1175 642,1175 642,1176 641,1176 641,1178 640,1178 640,1176 636,1176 636,1175 635,1175 635,1174 634,1174 634,1173 633,1173 633,1172 632,1172 632,1175 631,1175 631,1174 627,1174 627,1172 625,1172 625,1171 624,1171 624,1169 623,1169 623,1168 621,1168 621,1169 620,1169 620,1171 619,1171 619,1173 618,1173 618,1175 616,1175 616,1176 615,1176 615,1175 614,1175 614,1174 612,1174 612,1173 611,1173 611,1172 610,1172 610,1169 609,1169 609,1167 608,1167 608,1166 604,1166 604,1167 602,1167 602,1168 601,1168 601,1169 600,1169 600,1168 598,1168 598,1169 596,1169 596,1170 593,1170 593,1171 591,1171 591,1175 590,1175 590,1179 588,1179 588,1177 586,1177 586,1178 585,1178 585,1176 584,1176 584,1174 583,1174 583,1171 582,1171 582,1169 581,1169 581,1166 579,1166 579,1169 578,1169 578,1171 577,1171 577,1173 576,1173 576,1174 575,1174 575,1176 574,1176 574,1178 572,1178 572,1179 569,1179 569,1178 568,1178 568,1177 567,1177 567,1174 566,1174 566,1173 565,1173 565,1172 564,1172 564,1171 563,1171 563,1172 561,1172 561,1171 558,1171 558,1170 557,1170 557,1172 556,1172 556,1173 551,1173 551,1172 550,1172 550,1170 549,1170 549,1168 548,1168 548,1167 547,1167 547,1168 542,1168 542,1176 537,1176 537,1173 536,1173 536,1169 535,1169 535,1167 532,1167 532,1166 529,1166 529,1171 528,1171 528,1177 527,1177 527,1189 522,1189 522,1187 521,1187 521,1186 520,1186 520,1185 519,1185 519,1184 516,1184 516,1183 513,1183 513,1181 510,1181 510,1180 509,1180 509,1179 508,1179 508,1177 507,1177 507,1176 506,1176 506,1179 505,1179 505,1178 504,1178 504,1175 502,1175 502,1174 501,1174 501,1175 499,1175 499,1173 498,1173 498,1172 497,1172 497,1170 496,1170 496,1168 495,1168 495,1167 494,1167 494,1166 493,1166 493,1164 492,1164 492,1161 491,1161 491,1158 490,1158 490,1157 489,1157 489,1156 487,1156 487,1158 486,1158 486,1160 485,1160 485,1165 484,1165 484,1172 480,1172 480,1175 478,1175 478,1174 477,1174 477,1171 476,1171 476,1170 475,1170 475,1168 473,1168 473,1169 470,1169 470,1170 469,1170 469,1171 468,1171 468,1172 467,1172 467,1174 466,1174 466,1175 458,1175 458,1174 457,1174 457,1173 456,1173 456,1170 455,1170 455,1169 454,1169 454,1171 450,1171 450,1170 448,1170 448,1169 447,1169 447,1168 444,1168 444,1166 443,1166 443,1162 442,1162 442,1158 441,1158 441,1156 440,1156 440,1158 439,1158 439,1155 438,1155 438,1153 437,1153 437,1150 436,1150 436,1147 434,1147 434,1148 433,1148 433,1153 432,1153 432,1157 431,1157 431,1162 430,1162 430,1163 427,1163 427,1165 425,1165 425,1166 424,1166 424,1167 419,1167 419,1165 418,1165 418,1163 415,1163 415,1161 414,1161 414,1158 413,1158 413,1160 406,1160 406,1157 403,1157 403,1156 400,1156 400,1158 399,1158 399,1159 398,1159 398,1158 397,1158 397,1159 396,1159 396,1160 393,1160 393,1158 390,1158 390,1157 389,1157 389,1152 388,1152 388,1149 387,1149 387,1145 386,1145 386,1144 384,1144 384,1143 383,1143 383,1141 382,1141 382,1136 381,1136 381,1135 379,1135 379,1142 378,1142 378,1146 377,1146 377,1150 375,1150 375,1149 374,1149 374,1150 371,1150 371,1151 370,1151 370,1152 368,1152 368,1153 367,1153 367,1155 366,1155 366,1156 365,1156 365,1158 364,1158 364,1160 363,1160 363,1162 361,1162 361,1164 359,1164 359,1165 357,1165 357,1166 356,1166 356,1165 355,1165 355,1164 354,1164 354,1163 353,1163 353,1165 352,1165 352,1166 351,1166 351,1167 350,1167 350,1169 348,1169 348,1170 347,1170 347,1171 346,1171 346,1172 345,1172 345,1173 344,1173 344,1174 341,1174 341,1175 340,1175 340,1174 336,1174 336,1172 335,1172 335,1173 334,1173 334,1172 333,1172 333,1173 332,1173 332,1175 331,1175 331,1174 328,1174 328,1172 326,1172 326,1169 325,1169 325,1167 324,1167 324,1165 323,1165 323,1164 322,1164 322,1165 321,1165 321,1166 320,1166 320,1169 318,1169 318,1168 317,1168 317,1165 316,1165 316,1164 315,1164 315,1162 314,1162 314,1160 309,1160 309,1159 306,1159 306,1161 305,1161 305,1162 300,1162 300,1158 299,1158 299,1155 298,1155 298,1153 297,1153 297,1150 296,1150 296,1148 295,1148 295,1151 294,1151 294,1154 293,1154 293,1157 292,1157 292,1159 288,1159 288,1160 287,1160 287,1165 286,1165 286,1167 285,1167 285,1168 282,1168 282,1167 281,1167 281,1163 280,1163 280,1160 279,1160 279,1159 277,1159 277,1158 276,1158 276,1157 275,1157 275,1153 274,1153 274,1150 272,1150 272,1151 262,1151 262,1157 261,1157 261,1164 260,1164 260,1165 259,1165 259,1166 258,1166 258,1167 257,1167 257,1168 256,1168 256,1169 254,1169 254,1170 252,1170 252,1169 251,1169 251,1167 250,1167 250,1163 246,1163 246,1162 242,1162 242,1157 241,1157 241,1150 237,1150 237,1149 234,1149 234,1152 229,1152 229,1151 226,1151 226,1149 223,1149 223,1151 220,1151 220,1150 218,1150 218,1149 217,1149 217,1148 216,1148 216,1147 215,1147 215,1146 214,1146 214,1145 213,1145 213,1144 212,1144 212,1143 211,1143 211,1141 210,1141 210,1140 209,1140 209,1138 208,1138 208,1136 206,1136 206,1135 205,1135 205,1138 204,1138 204,1141 203,1141 203,1144 202,1144 202,1149 201,1149 201,1151 200,1151 200,1153 199,1153 199,1156 198,1156 198,1164 197,1164 197,1166 195,1166 195,1167 193,1167 193,1163 192,1163 192,1153 191,1153 191,1148 190.5,1148"/>
<polygon fill="#F8550A" points="190.5,817 194,817 194,815 195,815 195,812 196,812 196,811 198,811 198,806 199,806 199,792 200,792 200,789 201,789 201,788 202,788 202,787 203,787 203,788 204,788 204,789 207,789 207,790 208,790 208,791 209,791 209,789 210,789 210,790 212,790 212,799 214,799 214,801 216,801 216,803 217,803 217,806 218,806 218,807 220,807 220,806 221,806 221,807 222,807 222,814 224,814 224,813 226,813 226,812 227,812 227,813 230,813 230,814 231,814 231,816 232,816 232,815 233,815 233,814 234,814 234,809 235,809 235,806 236,806 236,807 238,807 238,806 239,806 239,807 240,807 240,808 241,808 241,809 242,809 242,810 243,810 243,811 245,811 245,817 246,817 246,823 248,823 248,824 249,824 249,822 250,822 250,823 251,823 251,832 252,832 252,839 253,839 253,838 254,838 254,836 255,836 255,835 256,835 256,834 258,834 258,829 259,829 259,822 260,822 260,815 262,815 262,816 264,816 264,817 265,817 265,821 268,821 268,820 269,820 269,810 270,810 270,806 271,806 271,805 273,805 273,804 274,804 274,799 275,799 275,796 279,796 279,798 280,798 280,806 281,806 281,807 284,807 284,805 285,805 285,830 286,830 286,837 287,837 287,838 288,838 288,834 289,834 289,826 290,826 290,823 291,823 291,818 293,818 293,819 297,819 297,820 298,820 298,817 299,817 299,818 302,818 302,817 303,817 303,819 304,819 304,824 305,824 305,825 306,825 306,824 307,824 307,823 308,823 308,811 309,811 309,808 314,808 314,818 315,818 315,824 316,824 316,825 318,825 318,826 320,826 320,823 322,823 322,822 323,822 323,820 324,820 324,818 328,818 328,821 329,821 329,828 330,828 330,851 332,851 332,852 335,852 335,853 337,853 337,856 338,856 338,857 339,857 339,862 340,862 340,861 343,861 343,858 345,858 345,857 347,857 347,845 348,845 348,837 350,837 350,836 352,836 352,837 354,837 354,838 355,838 355,839 356,839 356,840 358,840 358,845 359,845 359,844 360,844 360,842 361,842 361,837 363,837 363,836 364,836 364,833 365,833 365,832 367,832 367,831 368,831 368,829 369,829 369,827 370,827 370,826 373,826 373,814 374,814 374,804 375,804 375,799 376,799 376,794 377,794 377,792 379,792 379,791 383,791 383,789 385,789 385,791 387,791 387,792 388,792 388,805 392,805 392,810 393,810 393,816 394,816 394,817 396,817 396,819 397,819 397,821 398,821 398,822 399,822 399,819 401,819 401,817 402,817 402,814 404,814 404,817 407,817 407,832 408,832 408,836 411,836 411,837 414,837 414,838 415,838 415,837 416,837 416,826 417,826 417,823 419,823 419,822 420,822 420,821 421,821 421,822 422,822 422,839 423,839 423,845 424,845 424,846 426,846 426,840 427,840 427,827 428,827 428,824 429,824 429,820 430,820 430,815 431,815 431,809 432,809 432,804 433,804 433,805 437,805 437,809 438,809 438,811 441,811 441,810 442,810 442,834 443,834 443,835 444,835 444,836 447,836 447,837 448,837 448,836 452,836 452,837 455,837 455,838 456,838 456,842 457,842 457,844 458,844 458,845 459,845 459,843 461,843 461,850 462,850 462,861 463,861 463,862 464,862 464,864 465,864 465,865 468,865 468,864 469,864 469,863 470,863 470,859 471,859 471,858 475,858 475,855 476,855 476,857 477,857 477,859 479,859 479,852 480,852 480,842 481,842 481,836 482,836 482,835 483,835 483,830 484,830 484,822 485,822 485,816 487,816 487,819 490,819 490,821 491,821 491,825 494,825 494,826 496,826 496,853 497,853 497,852 498,852 498,853 499,853 499,854 501,854 501,855 503,855 503,856 505,856 505,861 506,861 506,872 507,872 507,874 509,874 509,875 510,875 510,877 511,877 511,883 512,883 512,884 515,884 515,886 516,886 516,895 517,895 517,897 520,897 520,899 521,899 521,904 522,904 522,899 523,899 523,883 524,883 524,862 525,862 525,850 526,850 526,849 527,849 527,848 528,848 528,841 529,841 529,839 533,839 533,841 534,841 534,850 535,850 535,859 537,859 537,860 538,860 538,861 539,861 539,855 540,855 540,847 541,847 541,842 542,842 542,838 543,838 543,830 544,830 544,826 545,826 545,825 548,825 548,822 549,822 549,831 550,831 550,836 553,836 553,837 554,837 554,840 555,840 555,859 556,859 556,864 558,864 558,865 560,865 560,869 561,869 561,866 562,866 562,865 564,865 564,864 569,864 569,873 570,873 570,883 572,883 572,876 573,876 573,856 574,856 574,853 575,853 575,852 576,852 576,850 577,850 577,833 578,833 578,828 583,828 583,837 584,837 584,866 586,866 586,864 587,864 587,862 588,862 588,861 589,861 589,860 592,860 592,861 594,861 594,858 595,858 595,854 596,854 596,843 597,843 597,832 598,832 598,826 601,826 601,827 603,827 603,835 604,835 604,846 608,846 608,849 609,849 609,851 613,851 613,857 614,857 614,867 616,867 616,866 617,866 617,864 618,864 618,862 619,862 619,859 620,859 620,857 621,857 621,855 627,855 627,857 628,857 628,856 629,856 629,857 632,857 632,860 634,860 634,861 635,861 635,862 637,862 637,863 638,863 638,867 639,867 639,869 640,869 640,870 641,870 641,869 642,869 642,867 643,867 643,866 647,866 647,867 648,867 648,869 649,869 649,871 650,871 650,872 652,872 652,875 653,875 653,877 654,877 654,873 655,873 655,868 656,868 656,858 657,858 657,855 658,855 658,854 660,854 660,852 661,852 661,850 662,850 662,849 666,849 666,854 667,854 667,861 668,861 668,866 669,866 669,867 670,867 670,866 672,866 672,870 673,870 673,873 674,873 674,871 675,871 675,865 676,865 676,862 677,862 677,860 679,860 679,858 681,858 681,861 682,861 682,866 685,866 685,865 686,865 686,870 687,870 687,882 688,882 688,883 689,883 689,884 691,884 691,887 692,887 692,895 693,895 693,896 696,896 696,897 697,897 697,899 698,899 698,893 699,893 699,884 700,884 700,883 701,883 701,882 703,882 703,883 704,883 704,884 705,884 705,885 706,885 706,895 707,895 707,917 708,917 708,922 709,922 709,900 710,900 710,886 711,886 711,878 716,878 716,883 717,883 717,887 718,887 718,868 719,868 719,865 720,865 720,861 721,861 721,859 725,859 725,856 726,856 726,851 728,851 728,850 730,850 730,849 731,849 731,852 732,852 732,857 733,857 733,858 735,858 735,859 737,859 737,860 739,860 739,861 740,861 740,866 741,866 741,869 744,869 744,870 745,870 745,869 746,869 746,875 747,875 747,879 750,879 750,883 751,883 751,887 759,887 759,894 760,894 760,898 761,898 761,899 762,899 762,901 763,901 763,903 764,903 764,907 765,907 765,915 766,915 766,917 768,917 768,915 770,915 770,917 772,917 772,900 773,900 773,887 774,887 774,885 775,885 775,883 776,883 776,884 777,884 777,885 778,885 778,886 779,886 779,893 780,893 780,896 784,896 784,895 787,895 787,894 788,894 788,892 790,892 790,891 793,891 793,893 794,893 794,895 795,895 795,897 796,897 796,898 797,898 797,897 799,897 799,895 800,895 800,894 804,894 804,899 805,899 805,904 809,904 809,905 811,905 811,904 812,904 812,905 814,905 814,903 817,903 817,904 818,904 818,905 819,905 819,908 821,908 821,904 822,904 822,897 823,897 823,896 824,896 824,895 828,895 828,897 829,897 829,905 831,905 831,906 832,906 832,907 833,907 833,911 834,911 834,915 838,915 838,916 839,916 839,923 843,923 843,924 845,924 845,925 847,925 847,926 849,926 849,928 850,928 850,940 851,940 851,919 852,919 852,903 853,903 853,898 854,898 854,895 855,895 855,894 856,894 856,895 858,895 858,896 859,896 859,899 860,899 860,904 861,904 861,906 862,906 862,908 863,908 863,911 864,911 864,912 865,912 865,909 866,909 866,907 867,907 867,906 868,906 868,905 869,905 869,904 871,904 871,903 872,903 872,904 873,904 873,908 874,908 874,916 878,916 878,918 879,918 879,920 882,920 882,925 883,925 883,931 887,931 887,932 890,932 890,933 893,933 893,934 894,934 894,935 895,935 895,936 897,936 897,940 898,940 898,942 899,942 899,943 901,943 901,941 902,941 902,933 903,933 903,931 906,931 906,929 907,929 907,923 908,923 908,919 909,919 909,915 910,915 910,912 911,912 911,911 914,911 914,912 915,912 915,915 916,915 916,920 917,920 917,929 919,929 919,909 920,909 920,896 921,896 921,894 922,894 922,891 923,891 923,892 924,892 924,891 925,891 925,893 926,893 926,894 927,894 927,895 928,895 928,893 929,893 929,897 932,897 932,904 933,904 933,914 935,914 935,912 936,912 936,908 938,908 938,911 940,911 940,910 941,910 941,909 944,909 944,907 945,907 945,908 946,908 946,909 947,909 947,919 949,919 949,920 950,920 950,921 952,921 952,922 955,922 955,923 956,923 956,930 957,930 957,939 958,939 958,940 959,940 959,933 960,933 960,926 961,926 961,925 962,925 962,924 963,924 963,923 964,923 964,921 965,921 965,918 966,918 966,916 967,916 967,915 968,915 968,914 969,914 969,913 970,913 970,909 971,909 971,908 972,908 972,907 975,907 975,912 976,912 976,916 979,916 979,913 980,913 980,909 981,909 981,908 983,908 983,907 985,907 985,905 986,905 986,903 988,903 988,905 991,905 991,913 992,913 992,917 995,917 995,913 996,913 996,912 997,912 997,914 998,914 998,915 1000,915 1000,922 1001,922 1001,937 1005,937 1005,939 1006,939 1006,941 1008,941 1008,944 1010,944 1010,951 1011,951 1011,973 1012,973 1012,974 1013,974 1013,976 1016,976 1016,977 1018,977 1018,975 1019,975 1019,970 1020,970 1020,962 1021,962 1021,957 1022,957 1022,952 1023,952 1023,946 1024,946 1024,941 1025,941 1025,940 1026,940 1026,939 1028,939 1028,938 1033,938 1033,941 1034,941 1034,944 1035,944 1035,949 1039,949 1039,947 1040,947 1040,941 1041,941 1041,938 1042,938 1042,937 1043,937 1043,936 1044,936 1044,935 1045,935 1045,937 1050,937 1050,928 1051,928 1051,921 1052,921 1052,920 1053,920 1053,919 1056,919 1056,921 1058,921 1058,922 1059,922 1059,930 1060,930 1060,936 1062,936 1062,935 1063,935 1063,934 1064,934 1064,932 1069,932 1069,931 1073,931 1073,935 1074,935 1074,939 1075,939 1075,948 1077,948 1077,947 1079,947 1079,958 1080,958 1080,959 1082,959 1082,960 1083,960 1083,962 1084,962 1084,968 1085,968 1085,990 1087,990 1087,984 1088,984 1088,980 1089,980 1089,979 1092,979 1092,980 1093,980 1093,979 1094,979 1094,980 1095,980 1095,982 1097,982 1097,974 1098,974 1098,952 1099,952 1099,936 1100,936 1100,937 1102,937 1102,936 1103,936 1103,934 1104,934 1104,935 1107,935 1107,936 1108,936 1108,937 1109,937 1109,944 1110,944 1110,945 1112,945 1112,946 1113,946 1113,949 1114,949 1114,953 1115,953 1115,959 1116,959 1116,961 1117,961 1117,963 1118,963 1118,979 1119,979 1119,980 1120,980 1120,981 1121,981 1121,980 1122,980 1122,981 1123,981 1123,982 1124,982 1124,983 1127,983 1127,986 1129,986 1129,987 1133,987 1133,990 1134,990 1134,991 1136,991 1136,976 1137,976 1137,968 1138,968 1138,967 1142,967 1142,972 1143,972 1143,975 1146,975 1146,974 1147,974 1147,972 1148,972 1148,971 1149,971 1149,969 1150,969 1150,964 1151,964 1151,963 1152,963 1152,964 1157,964 1157,967 1159,967 1159,966 1160,966 1160,959 1161,959 1161,958 1166,958 1166,965 1167,965 1167,975 1168,975 1168,976 1170,976 1170,973 1172,973 1172,983 1173,983 1173,987 1174,987 1174,964 1175,964 1175,958 1176,958 1176,956 1178,956 1178,957 1182,957 1182,958 1185,958 1185,959 1186,959 1186,961 1187,961 1187,967 1188,967 1188,974 1189,974 1189,972 1191,972 1191,973 1192,973 1192,981 1193,981 1193,982 1194,982 1194,984 1196,984 1196,988 1198,988 1198,987 1201,987 1201,988 1202,988 1202,990 1203,990 1203,991 1206,991 1206,989 1208,989 1208,990 1209,990 1209,989 1211,989 1211,987 1213,987 1213,986 1214,986 1214,987 1216,987 1216,988 1218,988 1218,990 1221,990 1221,991 1226,991 1226,974 1227,974 1227,962 1228,962 1228,961 1230,961 1230,964 1231,964 1231,965 1232,965 1232,964 1233,964 1233,975 1234,975 1234,974 1236,974 1236,973 1237,973 1237,971 1239,971 1239,972 1240,972 1240,973 1241,973 1241,981 1243,981 1243,983 1244,983 1244,982 1245,982 1245,981 1247,981 1247,980 1249,980 1249,978 1250,978 1250,981 1251,981 1251,994 1252,994 1252,995 1253,995 1253,996 1254,996 1254,995 1256,995 1256,994 1261,994 1261,995 1262,995 1262,993 1267,993 1267,995 1269,995 1269,998 1270,998 1270,1003 1272,1003 1272,1002 1275,1002 1275,1001 1278,1001 1278,998 1279,998 1279,991 1280,991 1280,992 1285,992 1285,991 1288,991 1288,984 1289,984 1289,980 1292,980 1292,981 1294,981 1294,984 1295,984 1295,989 1296,989 1296,990 1298,990 1298,989 1299,989 1299,988 1300,988 1300,987 1302,987 1302,985 1303,985 1303,979 1304,979 1304,973 1306,973 1306,975 1308,975 1308,973 1309,973 1309,972 1312,972 1312,974 1313,974 1313,975 1314,975 1314,976 1316,976 1316,975 1317,975 1317,974 1318,974 1318,972 1319,972 1319,973 1321,973 1321,972 1322,972 1322,961 1323,961 1323,960 1325,960 1325,959 1329,959 1329,960 1330,960 1330,962 1331,962 1331,964 1334,964 1334,966 1335,966 1335,970 1339,970 1339,971 1340,971 1340,972 1341,972 1341,973 1342,973 1342,974 1344,974 1344,976 1345,976 1345,974 1346,974 1346,955 1349,955 1349,951 1350,951 1350,950 1351,950 1351,947 1352,947 1352,945 1353,945 1353,942 1354,942 1354,941 1355,941 1355,940 1358,940 1358,949 1359,949 1359,954 1360,954 1360,956 1363,956 1363,955 1364,955 1364,956 1365,956 1365,958 1367,958 1367,959 1368,959 1368,969 1369,969 1369,984 1370,984 1370,983 1371,983 1371,970 1372,970 1372,961 1373,961 1373,960 1375,960 1375,958 1376,958 1376,939 1377,939 1377,926 1378,926 1378,923 1379,923 1379,922 1382,922 1382,920 1383,920 1383,921 1386,921 1386,922 1387,922 1387,923 1388,923 1388,929 1389,929 1389,931 1391,931 1391,933 1393,933 1393,935 1394,935 1394,933 1395,933 1395,932 1396,932 1396,931 1397,931 1397,932 1398,932 1398,931 1399,931 1399,928 1400,928 1400,925 1401,925 1401,919 1402,919 1402,909 1403,909 1403,902 1404,902 1404,901 1405,901 1405,899 1406,899 1406,896 1407,896 1407,895 1410,895 1410,897 1411,897 1411,900 1412,900 1412,905 1413,905 1413,910 1414,910 1414,913 1415,913 1415,914 1417,914 1417,917 1418,917 1418,925 1421,925 1421,926 1422,926 1422,931 1423,931 1423,934 1426,934 1426,933 1427,933 1427,942 1428,942 1428,947 1429,947 1429,945 1430,945 1430,940 1431,940 1431,939 1432,939 1432,935 1433,935 1433,932 1436,932 1436,933 1438,933 1438,934 1440,934 1440,933 1441,933 1441,934 1442,934 1442,936 1443,936 1443,938 1445,938 1445,941 1447,941 1447,949 1450,949 1450,947 1451,947 1451,944 1452,944 1452,943 1453,943 1453,942 1454,942 1454,941 1455,941 1455,937 1456,937 1456,935 1457,935 1457,936 1464,936 1464,930 1465,930 1465,922 1466,922 1466,921 1467,921 1467,920 1469,920 1469,921 1470,921 1470,922 1471,922 1471,927 1472,927 1472,932 1475,932 1475,934 1476,934 1476,938 1478,938 1478,939 1479,939 1479,941 1482,941 1482,942 1483,942 1483,943 1484,943 1484,944 1486,944 1486,948 1487,948 1487,950 1488,950 1488,949 1489,949 1489,950 1491,950 1491,957 1492,957 1492,959 1493,959 1493,955 1494,955 1494,950 1495,950 1495,937 1496,937 1496,919 1497,919 1497,907 1498,907 1498,900 1499,900 1499,898 1500,898 1500,896 1501,896 1501,895 1502,895 1502,896 1509,896 1509,897 1510,897 1510,903 1511,903 1511,910 1514,910 1514,897 1515,897 1515,896 1516,896 1516,898 1519,898 1519,897 1522,897 1522,896 1524,896 1524,899 1525,899 1525,903 1526,903 1526,911 1527,911 1527,915 1528,915 1528,913 1529,913 1529,908 1532,908 1532,906 1534,906 1534,908 1535,908 1535,909 1537,909 1537,906 1538,906 1538,902 1539,902 1539,899 1540,899 1540,897 1543,897 1543,900 1544,900 1544,901 1549,901 1549,900 1554,900 1554,909 1555,909 1555,912 1558,912 1558,913 1559,913 1559,915 1560,915 1560,917 1561,917 1561,919 1562,919 1562,921 1563,921 1563,920 1566,920 1566,914 1567,914 1567,906 1568,906 1568,908 1569,908 1569,907 1571,907 1571,904 1572,904 1572,905 1573,905 1573,907 1575,907 1575,908 1576,908 1576,906 1577,906 1577,907 1578,907 1578,908 1579,908 1579,920 1580,920 1580,922 1582,922 1582,917 1583,917 1583,909 1585,909 1585,908 1587,908 1587,907 1589,907 1589,908 1590,908 1590,907 1591,907 1591,905 1594,905 1594,903 1595,903 1595,898 1596,898 1596,892 1597,892 1597,887 1598,887 1598,882 1599,882 1599,878 1601,878 1601,877 1602,877 1602,874 1603,874 1603,866 1606,866 1606,865 1608,865 1608,873 1609,873 1609,879 1610,879 1610,880 1611,880 1611,881 1612,881 1612,885 1613,885 1613,891 1614,891 1614,896 1615,896 1615,897 1618,897 1618,900 1619,900 1619,902 1620,902 1620,903 1622,903 1622,901 1623,901 1623,899 1626,899 1626,897 1627,897 1627,891 1631,891 1631,890 1632,890 1632,888 1633,888 1633,886 1637,886 1637,888 1638,888 1638,891 1639,891 1639,890 1641,890 1641,891 1642,891 1642,890 1643,890 1643,886 1644,886 1644,881 1645,881 1645,877 1646,877 1646,870 1647,870 1647,863 1649,863 1649,862 1650,862 1650,860 1652,860 1652,864 1653,864 1653,867 1656,867 1656,868 1658,868 1658,873 1661,873 1661,871 1662,871 1662,872 1663,872 1663,877 1664,877 1664,879 1666,879 1666,880 1667,880 1667,881 1668,881 1668,886 1669,886 1669,887 1672,887 1672,898 1673,898 1673,899 1675,899 1675,895 1676,895 1676,891 1677,891 1677,890 1678,890 1678,889 1681,889 1681,888 1682,888 1682,889 1683,889 1683,888 1685,888 1685,887 1689,887 1689,889 1694,889 1694,886 1695,886 1695,881 1696,881 1696,879 1697,879 1697,878 1698,878 1698,877 1700,877 1700,876 1701,876 1701,877 1702,877 1702,878 1704,878 1704,879 1705,879 1705,878 1708,878 1708,879 1710,879 1710,878 1711,878 1711,879 1712,879 1712,880 1713,880 1713,881 1716,881 1716,882 1719,882 1719,883 1720,883 1720,887 1721,887 1721,893 1722,893 1722,899 1725,899 1725,888 1726,888 1726,884 1727,884 1727,883 1728,883 1728,882 1729,882 1729,881 1730,881 1730,880 1731,880 1731,873 1732,873 1732,872 1733,872 1733,871 1734,871 1734,870 1735,870 1735,869 1737,869 1737,867 1741,867 1741,870 1744,870 1744,871 1746,871 1746,874 1747,874 1747,876 1748,876 1748,874 1749,874 1749,867 1750,867 1750,862 1751,862 1751,861 1756,861 1756,863 1757,863 1757,864 1759,864 1759,860 1760,860 1760,858 1763,858 1763,857 1764,857 1764,851 1766,851 1766,849 1768,849 1768,848 1770,848 1770,850 1772,850 1772,849 1773,849 1773,847 1775,847 1775,848 1776,848 1776,859 1778,859 1778,861 1780,861 1780,867 1781,867 1781,869 1783,869 1783,870 1789,870 1789,869 1790,869 1790,871 1791,871 1791,872 1794,872 1794,871 1795,871 1795,865 1796,865 1796,858 1798,858 1798,857 1799,857 1799,856 1803,856 1803,855 1809,855 1809,854 1810,854 1810,853 1811,853 1811,852 1812,852 1812,841 1813,841 1813,825 1815,825 1815,824 1817,824 1817,825 1823,825 1823,826 1824,826 1824,833 1825,833 1825,842 1829,842 1829,840 1833,840 1833,841 1834,841 1834,846 1835,846 1835,847 1838,847 1838,849 1839,849 1839,854 1840,854 1840,856 1844,856 1844,857 1845,857 1845,859 1848,859 1848,858 1852,858 1852,851 1855,851 1855,850 1856,850 1856,846 1857,846 1857,839 1858,839 1858,835 1860,835 1860,836 1863,836 1863,837 1865,837 1865,836 1867,836 1867,837 1868,837 1868,839 1869,839 1869,842 1870,842 1870,839 1871,839 1871,836 1872,836 1872,834 1873,834 1873,832 1874,832 1874,830 1878,830 1878,832 1879,832 1879,843 1880,843 1880,841 1882,841 1882,837 1883,837 1883,835 1887,835 1887,838 1888,838 1888,845 1889,845 1889,846 1890,846 1890,845 1892,845 1892,844 1895,844 1895,843 1897,843 1897,845 1898,845 1898,855 1899,855 1899,864 1901,864 1901,857 1902,857 1902,849 1903,849 1903,845 1904,845 1904,844 1908,844 1908,843 1911,843 1911,841 1914,841 1914,836 1915,836 1915,830 1916,830 1916,828 1917,828 1917,827 1918,827 1918,826 1919,826 1919,825 1920,825 1920,824 1921,824 1921,823 1922,823 1922,824 1923,824 1923,823 1924,823 1924,822 1925,822 1925,821 1926,821 1926,820 1928,820 1928,819 1930,819 1930,818 1933,818 1933,817 1935,817 1935,818 1936,818 1936,817 1937,817 1937,818 1938,818 1938,825 1939,825 1939,826 1940,826 1940,825 1942,825 1942,827 1943,827 1943,829 1944,829 1944,831 1945,831 1945,832 1947,832 1947,830 1950,830 1950,831 1951,831 1951,833 1952,833 1952,830 1953,830 1953,821 1954,821 1954,807 1955,807 1955,803 1956,803 1956,799 1957,799 1957,798 1960,798 1960,796 1961,796 1961,797 1962,797 1962,806 1963,806 1963,811 1965,811 1965,812 1966,812 1966,813 1967,813 1967,815 1968,815 1968,816 1969,816 1969,817 1970,817 1970,815 1971,815 1971,827 1972,827 1972,828 1973,828 1973,827 1976,827 1976,835 1977,835 1977,842 1979,842 1979,843 1981,843 1981,852 1982,852 1982,864 1983,864 1983,867 1984,867 1984,884 1983,884 1983,893 1982,893 1982,899 1980,899 1980,898 1979,898 1979,897 1976,897 1976,891 1975,891 1975,887 1974,887 1974,886 1973,886 1973,883 1972,883 1972,882 1971,882 1971,860 1967,860 1967,859 1962,859 1962,847 1961,847 1961,843 1960,843 1960,844 1959,844 1959,851 1958,851 1958,854 1956,854 1956,860 1955,860 1955,866 1954,866 1954,868 1953,868 1953,870 1952,870 1952,871 1950,871 1950,872 1949,872 1949,871 1948,871 1948,870 1947,870 1947,865 1946,865 1946,864 1945,864 1945,863 1942,863 1942,864 1940,864 1940,863 1938,863 1938,859 1937,859 1937,855 1936,855 1936,854 1935,854 1935,853 1934,853 1934,852 1931,852 1931,851 1929,851 1929,849 1927,849 1927,850 1926,850 1926,851 1923,851 1923,852 1922,852 1922,853 1920,853 1920,857 1919,857 1919,865 1918,865 1918,866 1916,866 1916,865 1914,865 1914,866 1913,866 1913,864 1912,864 1912,862 1909,862 1909,864 1908,864 1908,866 1907,866 1907,868 1906,868 1906,874 1905,874 1905,880 1904,880 1904,884 1903,884 1903,885 1902,885 1902,884 1901,884 1901,885 1900,885 1900,888 1899,888 1899,892 1898,892 1898,893 1896,893 1896,890 1894,890 1894,889 1893,889 1893,885 1892,885 1892,888 1891,888 1891,889 1890,889 1890,887 1887,887 1887,886 1886,886 1886,888 1884,888 1884,887 1883,887 1883,882 1881,882 1881,881 1880,881 1880,880 1874,880 1874,879 1873,879 1873,878 1870,878 1870,877 1869,877 1869,876 1866,876 1866,875 1862,875 1862,877 1861,877 1861,881 1860,881 1860,882 1859,882 1859,883 1857,883 1857,887 1856,887 1856,898 1855,898 1855,901 1854,901 1854,904 1852,904 1852,902 1850,902 1850,903 1847,903 1847,904 1843,904 1843,903 1840,903 1840,904 1835,904 1835,902 1834,902 1834,893 1831,893 1831,898 1829,898 1829,894 1827,894 1827,898 1825,898 1825,884 1824,884 1824,883 1821,883 1821,882 1820,882 1820,876 1819,876 1819,869 1816,869 1816,870 1815,870 1815,872 1814,872 1814,876 1813,876 1813,880 1812,880 1812,885 1811,885 1811,891 1810,891 1810,893 1809,893 1809,895 1807,895 1807,896 1806,896 1806,894 1802,894 1802,895 1801,895 1801,894 1800,894 1800,893 1799,893 1799,897 1798,897 1798,905 1797,905 1797,912 1796,912 1796,918 1795,918 1795,920 1794,920 1794,919 1793,919 1793,918 1791,918 1791,917 1790,917 1790,916 1789,916 1789,915 1788,915 1788,916 1786,916 1786,915 1785,915 1785,914 1783,914 1783,912 1781,912 1781,911 1779,911 1779,910 1778,910 1778,909 1777,909 1777,908 1776,908 1776,907 1775,907 1775,905 1774,905 1774,904 1773,904 1773,903 1772,903 1772,902 1771,902 1771,892 1770,892 1770,891 1769,891 1769,892 1768,892 1768,896 1767,896 1767,897 1765,897 1765,898 1763,898 1763,908 1762,908 1762,921 1761,921 1761,925 1760,925 1760,924 1759,924 1759,925 1756,925 1756,911 1755,911 1755,903 1754,903 1754,901 1751,901 1751,897 1750,897 1750,895 1749,895 1749,894 1748,894 1748,897 1747,897 1747,901 1746,901 1746,902 1744,902 1744,901 1742,901 1742,898 1741,898 1741,890 1740,890 1740,892 1734,892 1734,893 1732,893 1732,894 1731,894 1731,898 1730,898 1730,907 1729,907 1729,923 1728,923 1728,933 1727,933 1727,940 1725,940 1725,939 1723,939 1723,938 1722,938 1722,936 1721,936 1721,935 1719,935 1719,937 1718,937 1718,936 1716,936 1716,933 1714,933 1714,932 1713,932 1713,930 1712,930 1712,928 1710,928 1710,927 1709,927 1709,926 1707,926 1707,925 1705,925 1705,922 1703,922 1703,923 1702,923 1702,920 1701,920 1701,917 1700,917 1700,916 1699,916 1699,915 1694,915 1694,916 1693,916 1693,915 1691,915 1691,913 1690,913 1690,912 1687,912 1687,911 1685,911 1685,910 1684,910 1684,909 1680,909 1680,918 1679,918 1679,920 1678,920 1678,921 1676,921 1676,923 1675,923 1675,929 1674,929 1674,946 1673,946 1673,947 1668,947 1668,948 1666,948 1666,949 1665,949 1665,948 1664,948 1664,947 1663,947 1663,938 1662,938 1662,924 1659,924 1659,925 1658,925 1658,924 1657,924 1657,917 1656,917 1656,915 1655,915 1655,913 1654,913 1654,911 1653,911 1653,907 1652,907 1652,905 1651,905 1651,908 1650,908 1650,917 1649,917 1649,922 1647,922 1647,923 1645,923 1645,925 1644,925 1644,929 1643,929 1643,931 1642,931 1642,930 1640,930 1640,932 1639,932 1639,928 1638,928 1638,924 1637,924 1637,922 1635,922 1635,924 1634,924 1634,925 1633,925 1633,926 1632,926 1632,928 1630,928 1630,930 1629,930 1629,934 1628,934 1628,935 1627,935 1627,936 1626,936 1626,937 1625,937 1625,936 1623,936 1623,935 1622,935 1622,933 1621,933 1621,932 1615,932 1615,931 1614,931 1614,927 1613,927 1613,923 1612,923 1612,916 1611,916 1611,914 1610,914 1610,912 1608,912 1608,911 1607,911 1607,913 1606,913 1606,912 1604,912 1604,913 1603,913 1603,917 1602,917 1602,932 1601,932 1601,949 1600,949 1600,966 1598,966 1598,967 1595,967 1595,969 1594,969 1594,970 1592,970 1592,968 1591,968 1591,969 1590,969 1590,970 1589,970 1589,971 1588,971 1588,972 1587,972 1587,975 1586,975 1586,976 1585,976 1585,977 1583,977 1583,978 1581,978 1581,979 1580,979 1580,980 1576,980 1576,979 1575,979 1575,972 1574,972 1574,964 1573,964 1573,961 1571,961 1571,960 1570,960 1570,937 1569,937 1569,939 1567,939 1567,941 1566,941 1566,942 1565,942 1565,943 1564,943 1564,946 1563,946 1563,948 1562,948 1562,949 1561,949 1561,952 1560,952 1560,953 1558,953 1558,954 1557,954 1557,955 1555,955 1555,956 1554,956 1554,957 1551,957 1551,958 1550,958 1550,957 1548,957 1548,956 1547,956 1547,954 1546,954 1546,952 1545,952 1545,945 1543,945 1543,946 1542,946 1542,947 1540,947 1540,949 1539,949 1539,951 1538,951 1538,960 1537,960 1537,963 1535,963 1535,962 1533,962 1533,961 1532,961 1532,960 1531,960 1531,959 1530,959 1530,957 1529,957 1529,956 1527,956 1527,954 1526,954 1526,949 1525,949 1525,947 1523,947 1523,948 1522,948 1522,944 1521,944 1521,933 1520,933 1520,928 1519,928 1519,930 1518,930 1518,939 1517,939 1517,938 1516,938 1516,939 1514,939 1514,941 1513,941 1513,942 1512,942 1512,946 1511,946 1511,948 1510,948 1510,949 1508,949 1508,948 1507,948 1507,947 1506,947 1506,941 1505,941 1505,925 1504,925 1504,924 1502,924 1502,934 1501,934 1501,938 1500,938 1500,943 1499,943 1499,962 1498,962 1498,984 1497,984 1497,996 1496,996 1496,994 1494,994 1494,995 1492,995 1492,994 1489,994 1489,996 1488,996 1488,1007 1487,1007 1487,1008 1486,1008 1486,1007 1483,1007 1483,1006 1482,1006 1482,1002 1481,1002 1481,1001 1479,1001 1479,1003 1478,1003 1478,1005 1477,1005 1477,1006 1475,1006 1475,1005 1473,1005 1473,1004 1472,1004 1472,991 1471,991 1471,986 1469,986 1469,994 1468,994 1468,1002 1467,1002 1467,1003 1465,1003 1465,1004 1464,1004 1464,1005 1463,1005 1463,1006 1462,1006 1462,1005 1459,1005 1459,1004 1457,1004 1457,994 1453,994 1453,1003 1452,1003 1452,1010 1449,1010 1449,1008 1446,1008 1446,986 1445,986 1445,985 1443,985 1443,984 1440,984 1440,983 1438,983 1438,976 1437,976 1437,955 1436,955 1436,960 1435,960 1435,978 1434,978 1434,983 1433,983 1433,986 1432,986 1432,987 1431,987 1431,990 1429,990 1429,1003 1427,1003 1427,1001 1425,1001 1425,999 1423,999 1423,974 1422,974 1422,973 1421,973 1421,972 1420,972 1420,971 1418,971 1418,969 1417,969 1417,952 1416,952 1416,951 1415,951 1415,950 1414,950 1414,949 1413,949 1413,940 1412,940 1412,933 1411,933 1411,932 1410,932 1410,930 1409,930 1409,928 1408,928 1408,933 1407,933 1407,942 1406,942 1406,951 1405,951 1405,965 1404,965 1404,967 1400,967 1400,968 1399,968 1399,969 1394,969 1394,970 1392,970 1392,971 1391,971 1391,972 1390,972 1390,973 1389,973 1389,981 1385,981 1385,980 1384,980 1384,976 1383,976 1383,975 1382,975 1382,976 1381,976 1381,984 1380,984 1380,1003 1379,1003 1379,1001 1378,1001 1378,1002 1376,1002 1376,1024 1375,1024 1375,1028 1374,1028 1374,1029 1371,1029 1371,1033 1370,1033 1370,1035 1369,1035 1369,1034 1365,1034 1365,1035 1364,1035 1364,1033 1363,1033 1363,997 1362,997 1362,996 1361,996 1361,995 1360,995 1360,996 1359,996 1359,989 1358,989 1358,982 1357,982 1357,980 1355,980 1355,978 1353,978 1353,979 1350,979 1350,1023 1349,1023 1349,1028 1347,1028 1347,1029 1346,1029 1346,1034 1345,1034 1345,1039 1341,1039 1341,1037 1340,1037 1340,1017 1338,1017 1338,1020 1334,1020 1334,1019 1333,1019 1333,1016 1331,1016 1331,1018 1330,1018 1330,1021 1326,1021 1326,1020 1324,1020 1324,1014 1323,1014 1323,1017 1322,1017 1322,1053 1321,1053 1321,1058 1320,1058 1320,1059 1318,1059 1318,1061 1316,1061 1316,1062 1315,1062 1315,1064 1314,1064 1314,1066 1309,1066 1309,1067 1308,1067 1308,1066 1305,1066 1305,1062 1304,1062 1304,1060 1302,1060 1302,1084 1301,1084 1301,1085 1300,1085 1300,1086 1297,1086 1297,1085 1295,1085 1295,1073 1293,1073 1293,1079 1292,1079 1292,1105 1291,1105 1291,1107 1290,1107 1290,1105 1288,1105 1288,1108 1284,1108 1284,1105 1283,1105 1283,1107 1282,1107 1282,1112 1281,1112 1281,1113 1279,1113 1279,1112 1277,1112 1277,1111 1276,1111 1276,1088 1275,1088 1275,1071 1274,1071 1274,1070 1272,1070 1272,1071 1269,1071 1269,1072 1268,1072 1268,1073 1267,1073 1267,1074 1266,1074 1266,1075 1265,1075 1265,1076 1264,1076 1264,1077 1262,1077 1262,1074 1260,1074 1260,1077 1258,1077 1258,1076 1257,1076 1257,1074 1256,1074 1256,1057 1255,1057 1255,1046 1254,1046 1254,1045 1252,1045 1252,1040 1251,1040 1251,1031 1250,1031 1250,1023 1248,1023 1248,1024 1244,1024 1244,1032 1243,1032 1243,1073 1242,1073 1242,1082 1239,1082 1239,1083 1237,1083 1237,1069 1236,1069 1236,1044 1235,1044 1235,1042 1233,1042 1233,1041 1232,1041 1232,1052 1231,1052 1231,1054 1229,1054 1229,1056 1222,1056 1222,1054 1221,1054 1221,1048 1217,1048 1217,1049 1214,1049 1214,1047 1213,1047 1213,1046 1212,1046 1212,1043 1209,1043 1209,1047 1208,1047 1208,1055 1205,1055 1205,1054 1203,1054 1203,1049 1201,1049 1201,1048 1197,1048 1197,1049 1196,1049 1196,1048 1194,1048 1194,1047 1193,1047 1193,1043 1192,1043 1192,1036 1191,1036 1191,1035 1188,1035 1188,1031 1187,1031 1187,1004 1186,1004 1186,1001 1185,1001 1185,997 1183,997 1183,996 1182,996 1182,994 1181,994 1181,995 1179,995 1179,1016 1178,1016 1178,1017 1177,1017 1177,1018 1176,1018 1176,1026 1175,1026 1175,1034 1174,1034 1174,1035 1173,1035 1173,1036 1171,1036 1171,1037 1169,1037 1169,1036 1167,1036 1167,1037 1166,1037 1166,1038 1165,1038 1165,1039 1164,1039 1164,1040 1160,1040 1160,1039 1159,1039 1159,1033 1158,1033 1158,1012 1157,1012 1157,999 1156,999 1156,995 1154,995 1154,994 1153,994 1153,992 1152,992 1152,988 1151,988 1151,989 1150,989 1150,1029 1149,1029 1149,1041 1142,1041 1142,1043 1141,1043 1141,1046 1140,1046 1140,1057 1139,1057 1139,1069 1135,1069 1135,1068 1133,1068 1133,1047 1132,1047 1132,1045 1130,1045 1130,1043 1129,1043 1129,1038 1128,1038 1128,1036 1127,1036 1127,1040 1126,1040 1126,1041 1125,1041 1125,1042 1121,1042 1121,1041 1120,1041 1120,1030 1117,1030 1117,1029 1115,1029 1115,1028 1114,1028 1114,1012 1113,1012 1113,1011 1111,1011 1111,1010 1109,1010 1109,998 1108,998 1108,972 1106,972 1106,971 1105,971 1105,969 1104,969 1104,999 1103,999 1103,1005 1102,1005 1102,1006 1101,1006 1101,1021 1100,1021 1100,1027 1099,1027 1099,1028 1097,1028 1097,1029 1093,1029 1093,1028 1092,1028 1092,1029 1091,1029 1091,1030 1090,1030 1090,1031 1088,1031 1088,1030 1086,1030 1086,1036 1080,1036 1080,1028 1079,1028 1079,1003 1078,1003 1078,999 1075,999 1075,997 1074,997 1074,995 1072,995 1072,994 1071,994 1071,991 1070,991 1070,985 1069,985 1069,975 1067,975 1067,974 1066,974 1066,973 1065,973 1065,972 1064,972 1064,973 1063,973 1063,972 1062,972 1062,969 1061,969 1061,968 1060,968 1060,967 1059,967 1059,964 1058,964 1058,963 1057,963 1057,962 1056,962 1056,961 1055,961 1055,959 1054,959 1054,962 1053,962 1053,961 1052,961 1052,964 1050,964 1050,966 1048,966 1048,965 1047,965 1047,964 1046,964 1046,959 1045,959 1045,963 1044,963 1044,972 1043,972 1043,997 1042,997 1042,1008 1041,1008 1041,1011 1036,1011 1036,1010 1033,1010 1033,1009 1031,1009 1031,1008 1030,1008 1030,1006 1029,1006 1029,1005 1028,1005 1028,1004 1027,1004 1027,1003 1026,1003 1026,996 1025,996 1025,994 1024,994 1024,1014 1023,1014 1023,1044 1022,1044 1022,1047 1021,1047 1021,1048 1019,1048 1019,1047 1018,1047 1018,1045 1017,1045 1017,1042 1016,1042 1016,1040 1015,1040 1015,1039 1012,1039 1012,1036 1011,1036 1011,1031 1008,1031 1008,1030 1007,1030 1007,1022 1006,1022 1006,1002 1005,1002 1005,986 1003,986 1003,985 1002,985 1002,981 1001,981 1001,975 1000,975 1000,974 998,974 998,976 997,976 997,979 996,979 996,981 993,981 993,980 992,980 992,971 991,971 991,967 990,967 990,968 987,968 987,963 986,963 986,937 985,937 985,942 984,942 984,956 983,956 983,965 982,965 982,969 981,969 981,972 980,972 980,971 978,971 978,967 977,967 977,962 976,962 976,940 975,940 975,932 973,932 973,933 971,933 971,934 968,934 968,936 967,936 967,939 966,939 966,941 965,941 965,964 964,964 964,989 963,989 963,994 962,994 962,995 961,995 961,996 959,996 959,998 958,998 958,1001 956,1001 956,1000 953,1000 953,994 952,994 952,990 949,990 949,999 948,999 948,1007 947,1007 947,1009 946,1009 946,1008 943,1008 943,995 942,995 942,979 941,979 941,966 940,966 940,957 939,957 939,956 938,956 938,952 937,952 937,935 936,935 936,934 935,934 935,938 934,938 934,939 931,939 931,940 929,940 929,936 928,936 928,928 927,928 927,921 926,921 926,925 925,925 925,933 924,933 924,943 923,943 923,957 922,957 922,960 921,960 921,962 920,962 920,973 919,973 919,979 918,979 918,981 915,981 915,983 914,983 914,977 913,977 913,964 912,964 912,953 911,953 911,959 910,959 910,960 909,960 909,958 906,958 906,969 905,969 905,998 904,998 904,1002 903,1002 903,1004 900,1004 900,1006 899,1006 899,1007 898,1007 898,1008 897,1008 897,1012 895,1012 895,1010 893,1010 893,975 892,975 892,981 891,981 891,993 890,993 890,1014 889,1014 889,1022 888,1022 888,1024 886,1024 886,1023 884,1023 884,1019 883,1019 883,1008 882,1008 882,1007 881,1007 881,1006 879,1006 879,1003 878,1003 878,996 877,996 877,994 874,994 874,984 873,984 873,964 872,964 872,963 871,963 871,962 869,962 869,945 868,945 868,934 867,934 867,931 866,931 866,929 865,929 865,928 864,928 864,927 863,927 863,926 862,926 862,925 861,925 861,924 860,924 860,925 858,925 858,924 857,924 857,932 856,932 856,952 855,952 855,962 854,962 854,963 853,963 853,964 852,964 852,993 851,993 851,1026 850,1026 850,1028 848,1028 848,1027 845,1027 845,1024 844,1024 844,1023 840,1023 840,1019 839,1019 839,1001 838,1001 838,997 837,997 837,996 836,996 836,995 835,995 835,982 834,982 834,969 833,969 833,965 830,965 830,961 829,961 829,943 825,943 825,939 824,939 824,935 823,935 823,932 821,932 821,931 820,931 820,929 819,929 819,928 818,928 818,927 817,927 817,930 816,930 816,934 815,934 815,935 811,935 811,934 810,934 810,928 809,928 809,933 808,933 808,951 807,951 807,966 806,966 806,971 801,971 801,968 800,968 800,957 799,957 799,954 798,954 798,953 797,953 797,964 796,964 796,973 792,973 792,975 790,975 790,964 787,964 787,965 786,965 786,966 785,966 785,967 783,967 783,965 781,965 781,953 780,953 780,950 778,950 778,949 776,949 776,942 775,942 775,940 774,940 774,961 773,961 773,986 772,986 772,988 771,988 771,990 769,990 769,987 768,987 768,985 767,985 767,984 765,984 765,983 764,983 764,982 763,982 763,981 762,981 762,973 761,973 761,963 760,963 760,962 759,962 759,965 751,965 751,949 750,949 750,939 749,939 749,938 748,938 748,937 747,937 747,930 746,930 746,896 743,896 743,895 741,895 741,897 740,897 740,898 738,898 738,897 737,897 737,898 735,898 735,897 734,897 734,896 732,896 732,877 731,877 731,874 730,874 730,882 729,882 729,890 728,890 728,894 727,894 727,897 724,897 724,901 723,901 723,904 722,904 722,907 721,907 721,909 720,909 720,911 719,911 719,938 718,938 718,951 714,951 714,954 713,954 713,970 712,970 712,971 709,971 709,1005 708,1005 708,1007 706,1007 706,1005 703,1005 703,999 702,999 702,983 701,983 701,965 700,965 700,966 699,966 699,965 698,965 698,964 697,964 697,963 693,963 693,959 692,959 692,954 691,954 691,953 689,953 689,952 688,952 688,943 687,943 687,926 685,926 685,925 684,925 684,923 680,923 680,921 679,921 679,920 678,920 678,915 677,915 677,910 675,910 675,921 674,921 674,933 673,933 673,940 672,940 672,941 670,941 670,939 668,939 668,936 667,936 667,915 666,915 666,910 665,910 665,909 663,909 663,900 662,900 662,895 659,895 659,896 658,896 658,903 657,903 657,905 656,905 656,910 655,910 655,936 654,936 654,942 652,942 652,943 651,943 651,942 649,942 649,938 648,938 648,930 647,930 647,929 646,929 646,931 645,931 645,930 643,930 643,921 642,921 642,908 641,908 641,914 640,914 640,923 639,923 639,932 638,932 638,934 637,934 637,932 636,932 636,931 635,931 635,933 634,933 634,927 633,927 633,913 631,913 631,910 630,910 630,911 627,911 627,913 624,913 624,898 623,898 623,887 622,887 622,890 621,890 621,913 620,913 620,927 615,927 615,926 613,926 613,909 612,909 612,900 611,900 611,899 610,899 610,894 609,894 609,876 608,876 608,873 607,873 607,875 606,875 606,879 605,879 605,882 604,882 604,883 601,883 601,882 600,882 600,879 599,879 599,880 597,880 597,881 596,881 596,882 594,882 594,883 592,883 592,884 591,884 591,900 590,900 590,915 589,915 589,917 585,917 585,912 584,912 584,905 580,905 580,884 579,884 579,890 578,890 578,894 577,894 577,899 576,899 576,910 575,910 575,914 574,914 574,918 573,918 573,921 569,921 569,920 568,920 568,919 567,919 567,918 565,918 565,910 564,910 564,891 563,891 563,888 560,888 560,889 559,889 559,890 557,890 557,899 556,899 556,904 555,904 555,907 554,907 554,906 551,906 551,905 550,905 550,884 549,884 549,872 547,872 547,874 546,874 546,868 545,868 545,871 544,871 544,874 543,874 543,889 542,889 542,922 541,922 541,932 539,932 539,931 536,931 536,915 535,915 535,893 534,893 534,879 532,879 532,877 531,877 531,875 530,875 530,873 529,873 529,892 528,892 528,961 527,961 527,982 525,982 525,981 521,981 521,970 520,970 520,964 516,964 516,958 515,958 515,942 512,942 512,944 508,944 508,945 507,945 507,938 506,938 506,926 505,926 505,925 503,925 503,924 502,924 502,920 501,920 501,918 497,918 497,910 496,910 496,888 495,888 495,886 493,886 493,883 492,883 492,875 491,875 491,856 490,856 490,855 488,855 488,854 487,854 487,856 486,856 486,861 485,861 485,880 484,880 484,905 483,905 483,908 482,908 482,909 481,909 481,910 480,910 480,911 479,911 479,910 477,910 477,905 476,905 476,893 475,893 475,883 474,883 474,882 470,882 470,886 469,886 469,891 468,891 468,905 467,905 467,910 463,910 463,908 462,908 462,907 459,907 459,905 458,905 458,901 457,901 457,898 456,898 456,897 454,897 454,896 453,896 453,895 452,895 452,893 451,893 451,892 449,892 449,890 448,890 448,878 447,878 447,870 446,870 446,869 445,869 445,871 443,871 443,867 442,867 442,857 441,857 441,855 440,855 440,854 439,854 439,851 438,851 438,850 437,850 437,844 436,844 436,837 434,837 434,839 433,839 433,847 432,847 432,854 431,854 431,861 430,861 430,871 429,871 429,873 428,873 428,871 426,871 426,870 425,870 425,871 424,871 424,872 422,872 422,870 420,870 420,871 417,871 417,870 416,870 416,868 415,868 415,867 413,867 413,866 412,866 412,860 411,860 411,858 410,858 410,859 405,859 405,858 404,858 404,856 401,856 401,857 400,857 400,858 398,858 398,859 396,859 396,857 395,857 395,860 394,860 394,864 393,864 393,865 389,865 389,862 388,862 388,840 387,840 387,833 385,833 385,832 383,832 383,819 382,819 382,812 381,812 381,811 380,811 380,814 379,814 379,838 378,838 378,841 377,841 377,843 376,843 376,846 375,846 375,847 374,847 374,848 372,848 372,847 367,847 367,851 366,851 366,855 365,855 365,859 364,859 364,860 363,860 363,863 362,863 362,873 361,873 361,877 360,877 360,879 355,879 355,873 354,873 354,869 353,869 353,870 352,870 352,873 350,873 350,875 349,875 349,878 348,878 348,882 347,882 347,889 346,889 346,906 345,906 345,908 344,908 344,909 343,909 343,907 339,907 339,906 338,906 338,907 336,907 336,906 335,906 335,903 334,903 334,904 333,904 333,903 330,903 330,901 329,901 329,893 327,893 327,892 325,892 325,885 324,885 324,867 323,867 323,866 321,866 321,867 320,867 320,874 319,874 319,877 318,877 318,876 316,876 316,875 315,875 315,871 314,871 314,865 310,865 310,858 306,858 306,860 305,860 305,861 301,861 301,854 300,854 300,837 296,837 296,838 295,838 295,846 294,846 294,854 293,854 293,857 292,857 292,864 291,864 291,867 288,867 288,868 287,868 287,872 286,872 286,877 283,877 283,878 281,878 281,874 280,874 280,857 279,857 279,853 278,853 278,852 277,852 277,851 276,851 276,844 275,844 275,839 274,839 274,840 273,840 273,841 269,841 269,844 268,844 268,847 266,847 266,848 263,848 263,850 262,850 262,857 261,857 261,860 260,860 260,862 259,862 259,863 258,863 258,866 257,866 257,871 256,871 256,872 254,872 254,873 252,873 252,874 251,874 251,875 249,875 249,874 246,874 246,873 243,873 243,872 242,872 242,870 241,870 241,855 240,855 240,851 238,851 238,850 237,850 237,849 233,849 233,851 232,851 232,852 231,852 231,853 228,853 228,852 227,852 227,847 226,847 226,841 224,841 224,838 222,838 222,835 221,835 221,834 219,834 219,832 218,832 218,833 217,833 217,835 214,835 214,836 213,836 213,834 212,834 212,822 211,822 211,819 210,819 210,820 208,820 208,818 207,818 207,816 206,816 206,815 205,815 205,818 204,818 204,826 203,826 203,829 202,829 202,831 201,831 201,834 200,834 200,849 199,849 199,863 198,863 198,871 196,871 196,872 193,872 193,869 192,869 192,843 191,843 191,829 190.5,829"/>
<polygon fill="#FFB000" points="190.5,611 191,611 191,608 195,608 195,607 196,607 196,606 197,606 197,605 198,605 198,600 199,600 199,590 200,590 200,570 201,570 201,567 202,567 202,566 205,566 205,565 207,565 207,566 210,566 210,567 211,567 211,568 212,568 212,584 215,584 215,585 217,585 217,598 218,598 218,599 220,599 220,600 222,600 222,603 229,603 229,605 231,605 231,604 233,604 233,602 234,602 234,597 235,597 235,593 236,593 236,591 238,591 238,590 240,590 240,593 241,593 241,595 242,595 242,596 244,596 244,597 246,597 246,600 247,600 247,607 248,607 248,609 251,609 251,615 252,615 252,639 254,639 254,631 256,631 256,632 257,632 257,631 258,631 258,619 259,619 259,610 260,610 260,606 265,606 265,611 266,611 266,618 267,618 267,616 268,616 268,609 269,609 269,593 270,593 270,589 272,589 272,591 274,591 274,587 275,587 275,584 276,584 276,583 277,583 277,584 280,584 280,590 281,590 281,594 283,594 283,595 284,595 284,604 285,604 285,629 286,629 286,636 287,636 287,641 288,641 288,638 289,638 289,628 290,628 290,614 291,614 291,613 292,613 292,611 293,611 293,609 294,609 294,608 296,608 296,609 297,609 297,610 299,610 299,611 301,611 301,614 303,614 303,615 304,615 304,616 305,616 305,618 306,618 306,624 307,624 307,623 308,623 308,600 309,600 309,597 311,597 311,598 314,598 314,605 315,605 315,616 316,616 316,617 318,617 318,618 323,618 323,616 324,616 324,615 326,615 326,616 329,616 329,636 330,636 330,650 332,650 332,651 334,651 334,653 335,653 335,658 336,658 336,659 338,659 338,660 339,660 339,663 340,663 340,669 342,669 342,668 343,668 343,665 344,665 344,662 345,662 345,659 346,659 346,658 348,658 348,643 352,643 352,640 354,640 354,641 357,641 357,644 358,644 358,645 359,645 359,644 360,644 360,639 361,639 361,633 363,633 363,632 364,632 364,631 365,631 365,629 366,629 366,624 367,624 367,623 371,623 371,622 372,622 372,619 373,619 373,616 374,616 374,613 375,613 375,606 376,606 376,580 377,580 377,568 381,568 381,569 384,569 384,570 386,570 386,571 387,571 387,583 388,583 388,590 390,590 390,587 392,587 392,591 393,591 393,609 395,609 395,612 398,612 398,613 399,613 399,611 400,611 400,606 401,606 401,601 407,601 407,630 408,630 408,632 409,632 409,633 411,633 411,634 413,634 413,633 414,633 414,630 415,630 415,620 416,620 416,617 421,617 421,634 422,634 422,652 425,652 425,649 426,649 426,640 427,640 427,626 428,626 428,611 429,611 429,597 430,597 430,593 431,593 431,590 434,590 434,592 436,592 436,598 437,598 437,601 438,601 438,602 440,602 440,603 441,603 441,617 442,617 442,626 443,626 443,628 445,628 445,629 446,629 446,638 447,638 447,644 448,644 448,642 451,642 451,641 452,641 452,638 456,638 456,639 460,639 460,640 461,640 461,643 462,643 462,669 463,669 463,670 465,670 465,671 466,671 466,670 467,670 467,669 468,669 468,668 469,668 469,667 470,667 470,666 471,666 471,665 472,665 472,664 474,664 474,663 475,663 475,662 476,662 476,663 477,663 477,661 478,661 478,657 479,657 479,654 480,654 480,649 481,649 481,642 482,642 482,632 483,632 483,621 484,621 484,610 485,610 485,604 490,604 490,608 491,608 491,612 492,612 492,616 494,616 494,617 495,617 495,622 496,622 496,656 497,656 497,659 498,659 498,663 499,663 499,665 504,665 504,667 505,667 505,670 506,670 506,672 507,672 507,673 508,673 508,674 509,674 509,675 510,675 510,677 511,677 511,680 512,680 512,683 513,683 513,686 514,686 514,687 515,687 515,688 516,688 516,689 517,689 517,690 519,690 519,691 520,691 520,692 521,692 521,693 522,693 522,688 523,688 523,676 524,676 524,663 525,663 525,653 526,653 526,645 527,645 527,639 531,639 531,640 534,640 534,648 535,648 535,660 536,660 536,662 537,662 537,665 538,665 538,662 539,662 539,655 540,655 540,651 541,651 541,646 542,646 542,634 543,634 543,624 544,624 544,620 547,620 547,619 549,619 549,622 550,622 550,631 551,631 551,634 553,634 553,635 554,635 554,642 555,642 555,661 556,661 556,667 558,667 558,668 560,668 560,669 561,669 561,673 563,673 563,672 566,672 566,668 568,668 568,670 569,670 569,677 570,677 570,681 573,681 573,666 574,666 574,654 575,654 575,651 576,651 576,649 577,649 577,639 578,639 578,625 584,625 584,647 585,647 585,669 586,669 586,665 590,665 590,666 592,666 592,668 595,668 595,656 596,656 596,645 597,645 597,633 598,633 598,628 600,628 600,627 603,627 603,632 604,632 604,646 605,646 605,650 606,650 606,651 608,651 608,653 609,653 609,655 610,655 610,657 611,657 611,658 612,658 612,659 613,659 613,662 614,662 614,670 622,670 622,659 625,659 625,658 627,658 627,660 628,660 628,663 630,663 630,662 631,662 631,663 632,663 632,665 633,665 633,669 634,669 634,670 635,670 635,671 638,671 638,672 639,672 639,674 640,674 640,673 641,673 641,670 642,670 642,669 643,669 643,666 645,666 645,668 647,668 647,669 648,669 648,670 649,670 649,671 650,671 650,670 651,670 651,673 652,673 652,676 653,676 653,677 655,677 655,669 656,669 656,664 659,664 659,663 660,663 660,658 661,658 661,654 662,654 662,653 663,653 663,652 664,652 664,651 665,651 665,652 666,652 666,660 667,660 667,668 668,668 668,669 669,669 669,671 670,671 670,672 671,672 671,676 672,676 672,678 673,678 673,675 674,675 674,670 675,670 675,669 676,669 676,668 678,668 678,669 683,669 683,671 686,671 686,677 687,677 687,685 688,685 688,686 690,686 690,687 693,687 693,688 694,688 694,690 695,690 695,691 696,691 696,692 697,692 697,688 698,688 698,683 699,683 699,681 700,681 700,680 701,680 701,679 703,679 703,680 705,680 705,681 706,681 706,683 707,683 707,688 708,688 708,689 709,689 709,688 710,688 710,684 711,684 711,681 714,681 714,680 716,680 716,681 717,681 717,676 718,676 718,671 719,671 719,669 720,669 720,668 721,668 721,666 722,666 722,665 723,665 723,664 724,664 724,662 725,662 725,661 726,661 726,654 728,654 728,656 729,656 729,655 731,655 731,654 734,654 734,658 735,658 735,662 736,662 736,666 740,666 740,668 741,668 741,671 743,671 743,673 746,673 746,674 747,674 747,675 749,675 749,677 750,677 750,686 751,686 751,689 753,689 753,688 754,688 754,686 755,686 755,685 756,685 756,684 760,684 760,690 761,690 761,695 763,695 763,696 766,696 766,695 768,695 768,696 769,696 769,695 770,695 770,692 771,692 771,688 772,688 772,684 775,684 775,683 776,683 776,682 778,682 778,684 779,684 779,685 781,685 781,684 784,684 784,685 785,685 785,686 786,686 786,687 788,687 788,686 789,686 789,685 793,685 793,684 794,684 794,686 796,686 796,687 797,687 797,689 798,689 798,690 799,690 799,689 801,689 801,690 804,690 804,691 806,691 806,692 810,692 810,691 811,691 811,692 813,692 813,693 816,693 816,692 819,692 819,693 820,693 820,694 821,694 821,693 822,693 822,691 823,691 823,690 824,690 824,691 826,691 826,690 828,690 828,691 829,691 829,692 830,692 830,695 831,695 831,696 832,696 832,697 833,697 833,698 834,698 834,699 835,699 835,700 836,700 836,701 837,701 837,702 838,702 838,703 841,703 841,702 842,702 842,703 843,703 843,704 845,704 845,705 848,705 848,704 849,704 849,702 850,702 850,699 851,699 851,697 852,697 852,696 853,696 853,693 854,693 854,691 855,691 855,687 857,687 857,688 860,688 860,689 861,689 861,692 862,692 862,693 864,693 864,694 865,694 865,695 867,695 867,696 869,696 869,695 872,695 872,696 873,696 873,702 874,702 874,703 876,703 876,702 877,702 877,698 879,698 879,697 882,697 882,700 883,700 883,703 885,703 885,701 886,701 886,702 887,702 887,704 888,704 888,708 889,708 889,710 891,710 891,708 895,708 895,707 896,707 896,708 897,708 897,709 898,709 898,710 900,710 900,709 901,709 901,706 902,706 902,707 903,707 903,706 906,706 906,704 907,704 907,701 908,701 908,699 909,699 909,697 910,697 910,698 914,698 914,699 915,699 915,700 916,700 916,704 917,704 917,705 918,705 918,702 919,702 919,695 920,695 920,690 921,690 921,688 922,688 922,687 923,687 923,686 925,686 925,685 927,685 927,686 929,686 929,688 930,688 930,689 931,689 931,690 932,690 932,698 934,698 934,697 935,697 935,695 936,695 936,694 937,694 937,693 938,693 938,695 940,695 940,694 944,694 944,693 945,693 945,694 946,694 946,696 947,696 947,699 948,699 948,701 950,701 950,700 952,700 952,701 955,701 955,702 956,702 956,704 957,704 957,708 959,708 959,707 960,707 960,703 961,703 961,701 963,701 963,700 964,700 964,699 965,699 965,698 968,698 968,697 969,697 969,698 970,698 970,697 971,697 971,696 973,696 973,697 974,697 974,699 975,699 975,700 976,700 976,701 977,701 977,703 978,703 978,701 979,701 979,700 980,700 980,698 981,698 981,699 982,699 982,698 983,698 983,695 984,695 984,692 985,692 985,691 986,691 986,690 988,690 988,693 989,693 989,694 990,694 990,695 991,695 991,697 993,697 993,696 996,696 996,697 997,697 997,699 998,699 998,700 999,700 999,702 1000,702 1000,704 1002,704 1002,705 1003,705 1003,706 1004,706 1004,707 1005,707 1005,709 1006,709 1006,710 1010,710 1010,712 1011,712 1011,715 1012,715 1012,719 1013,719 1013,721 1015,721 1015,723 1016,723 1016,725 1017,725 1017,723 1019,723 1019,722 1020,722 1020,717 1021,717 1021,712 1022,712 1022,711 1023,711 1023,710 1024,710 1024,709 1030,709 1030,710 1034,710 1034,711 1038,711 1038,712 1039,712 1039,711 1040,711 1040,710 1042,710 1042,709 1045,709 1045,710 1049,710 1049,707 1050,707 1050,702 1051,702 1051,701 1052,701 1052,699 1053,699 1053,698 1054,698 1054,699 1056,699 1056,702 1057,702 1057,703 1058,703 1058,706 1059,706 1059,707 1060,707 1060,708 1061,708 1061,706 1063,706 1063,703 1064,703 1064,702 1069,702 1069,704 1071,704 1071,705 1072,705 1072,706 1074,706 1074,709 1075,709 1075,711 1076,711 1076,712 1077,712 1077,713 1079,713 1079,716 1080,716 1080,718 1083,718 1083,719 1084,719 1084,728 1085,728 1085,729 1086,729 1086,728 1087,728 1087,727 1088,727 1088,725 1089,725 1089,723 1094,723 1094,724 1095,724 1095,727 1097,727 1097,730 1098,730 1098,718 1099,718 1099,712 1100,712 1100,708 1101,708 1101,706 1106,706 1106,707 1107,707 1107,708 1108,708 1108,710 1109,710 1109,712 1110,712 1110,713 1111,713 1111,714 1112,714 1112,715 1113,715 1113,716 1114,716 1114,717 1116,717 1116,719 1117,719 1117,723 1118,723 1118,724 1122,724 1122,725 1124,725 1124,724 1129,724 1129,727 1133,727 1133,725 1134,725 1134,726 1137,726 1137,725 1138,725 1138,726 1139,726 1139,725 1140,725 1140,724 1141,724 1141,725 1143,725 1143,724 1144,724 1144,721 1146,721 1146,722 1149,722 1149,721 1150,721 1150,720 1153,720 1153,721 1155,721 1155,720 1157,720 1157,718 1161,718 1161,716 1164,716 1164,717 1165,717 1165,719 1166,719 1166,720 1167,720 1167,722 1168,722 1168,723 1169,723 1169,724 1172,724 1172,723 1173,723 1173,720 1174,720 1174,717 1176,717 1176,716 1177,716 1177,717 1179,717 1179,716 1181,716 1181,715 1182,715 1182,712 1183,712 1183,711 1184,711 1184,710 1186,710 1186,715 1187,715 1187,718 1188,718 1188,720 1189,720 1189,722 1190,722 1190,724 1191,724 1191,725 1192,725 1192,726 1196,726 1196,728 1199,728 1199,729 1201,729 1201,730 1204,730 1204,729 1219,729 1219,728 1224,728 1224,727 1225,727 1225,724 1226,724 1226,723 1227,723 1227,722 1228,722 1228,721 1230,721 1230,719 1232,719 1232,720 1233,720 1233,723 1234,723 1234,724 1235,724 1235,725 1238,725 1238,726 1239,726 1239,725 1241,725 1241,724 1243,724 1243,723 1245,723 1245,722 1247,722 1247,721 1248,721 1248,722 1249,722 1249,723 1250,723 1250,724 1251,724 1251,725 1252,725 1252,726 1253,726 1253,727 1254,727 1254,730 1255,730 1255,731 1257,731 1257,732 1259,732 1259,729 1263,729 1263,730 1272,730 1272,731 1277,731 1277,732 1285,732 1285,731 1290,731 1290,730 1294,730 1294,729 1295,729 1295,731 1297,731 1297,730 1298,730 1298,729 1299,729 1299,727 1301,727 1301,726 1302,726 1302,725 1309,725 1309,724 1310,724 1310,725 1313,725 1313,724 1315,724 1315,723 1317,723 1317,719 1318,719 1318,718 1319,718 1319,717 1320,717 1320,716 1321,716 1321,717 1322,717 1322,716 1326,716 1326,717 1327,717 1327,718 1328,718 1328,720 1329,720 1329,721 1335,721 1335,719 1336,719 1336,720 1337,720 1337,721 1338,721 1338,722 1341,722 1341,721 1342,721 1342,719 1343,719 1343,717 1345,717 1345,716 1348,716 1348,715 1350,715 1350,714 1351,714 1351,713 1352,713 1352,711 1353,711 1353,709 1355,709 1355,710 1356,710 1356,709 1358,709 1358,712 1359,712 1359,717 1360,717 1360,718 1361,718 1361,719 1363,719 1363,718 1364,718 1364,715 1365,715 1365,714 1366,714 1366,715 1367,715 1367,716 1368,716 1368,717 1369,717 1369,720 1370,720 1370,721 1372,721 1372,717 1374,717 1374,715 1375,715 1375,714 1377,714 1377,707 1379,707 1379,708 1380,708 1380,707 1382,707 1382,706 1386,706 1386,707 1388,707 1388,705 1392,705 1392,706 1395,706 1395,705 1399,705 1399,706 1400,706 1400,704 1401,704 1401,699 1402,699 1402,694 1403,694 1403,693 1404,693 1404,692 1405,692 1405,691 1406,691 1406,692 1409,692 1409,691 1411,691 1411,692 1412,692 1412,693 1413,693 1413,696 1414,696 1414,697 1416,697 1416,698 1417,698 1417,700 1418,700 1418,702 1419,702 1419,706 1420,706 1420,708 1427,708 1427,709 1428,709 1428,710 1431,710 1431,709 1433,709 1433,708 1434,708 1434,707 1437,707 1437,708 1441,708 1441,707 1443,707 1443,708 1444,708 1444,710 1446,710 1446,709 1447,709 1447,710 1450,710 1450,711 1451,711 1451,710 1456,710 1456,707 1459,707 1459,708 1461,708 1461,707 1463,707 1463,706 1464,706 1464,705 1467,705 1467,706 1469,706 1469,705 1473,705 1473,707 1477,707 1477,709 1478,709 1478,710 1483,710 1483,711 1485,711 1485,712 1487,712 1487,713 1488,713 1488,712 1491,712 1491,713 1494,713 1494,714 1496,714 1496,695 1497,695 1497,691 1498,691 1498,689 1499,689 1499,688 1500,688 1500,687 1501,687 1501,686 1508,686 1508,687 1510,687 1510,690 1515,690 1515,689 1523,689 1523,687 1525,687 1525,692 1526,692 1526,695 1527,695 1527,696 1530,696 1530,695 1533,695 1533,694 1536,694 1536,691 1537,691 1537,688 1538,688 1538,686 1539,686 1539,687 1540,687 1540,686 1542,686 1542,687 1543,687 1543,689 1544,689 1544,691 1545,691 1545,692 1546,692 1546,690 1548,690 1548,691 1552,691 1552,692 1553,692 1553,693 1554,693 1554,694 1556,694 1556,695 1557,695 1557,696 1558,696 1558,697 1559,697 1559,699 1560,699 1560,700 1562,700 1562,701 1563,701 1563,702 1565,702 1565,701 1566,701 1566,699 1567,699 1567,697 1568,697 1568,692 1571,692 1571,694 1572,694 1572,693 1574,693 1574,695 1578,695 1578,697 1579,697 1579,700 1581,700 1581,699 1582,699 1582,700 1585,700 1585,698 1586,698 1586,697 1588,697 1588,699 1589,699 1589,698 1595,698 1595,697 1596,697 1596,695 1597,695 1597,688 1598,688 1598,682 1599,682 1599,679 1600,679 1600,678 1601,678 1601,675 1602,675 1602,673 1607,673 1607,674 1608,674 1608,676 1609,676 1609,680 1610,680 1610,681 1613,681 1613,684 1614,684 1614,687 1615,687 1615,685 1616,685 1616,684 1621,684 1621,683 1622,683 1622,684 1623,684 1623,687 1625,687 1625,686 1630,686 1630,685 1631,685 1631,683 1638,683 1638,684 1643,684 1643,685 1646,685 1646,678 1647,678 1647,673 1649,673 1649,672 1651,672 1651,669 1652,669 1652,668 1653,668 1653,669 1656,669 1656,670 1657,670 1657,671 1658,671 1658,672 1659,672 1659,673 1660,673 1660,675 1661,675 1661,677 1662,677 1662,678 1666,678 1666,679 1667,679 1667,685 1668,685 1668,689 1673,689 1673,688 1675,688 1675,687 1677,687 1677,686 1679,686 1679,685 1683,685 1683,687 1684,687 1684,688 1685,688 1685,689 1686,689 1686,690 1687,690 1687,691 1688,691 1688,690 1689,690 1689,692 1690,692 1690,694 1691,694 1691,698 1692,698 1692,700 1693,700 1693,698 1694,698 1694,696 1695,696 1695,693 1699,693 1699,692 1701,692 1701,693 1705,693 1705,692 1712,692 1712,693 1714,693 1714,692 1719,692 1719,691 1721,691 1721,699 1722,699 1722,708 1724,708 1724,706 1725,706 1725,698 1726,698 1726,696 1727,696 1727,698 1728,698 1728,697 1730,697 1730,695 1731,695 1731,691 1735,691 1735,690 1737,690 1737,689 1738,689 1738,688 1739,688 1739,687 1743,687 1743,686 1744,686 1744,688 1745,688 1745,690 1748,690 1748,689 1749,689 1749,685 1750,685 1750,684 1752,684 1752,682 1754,682 1754,683 1755,683 1755,687 1757,687 1757,686 1758,686 1758,685 1759,685 1759,682 1760,682 1760,678 1763,678 1763,677 1764,677 1764,667 1765,667 1765,664 1766,664 1766,663 1769,663 1769,664 1770,664 1770,667 1771,667 1771,668 1775,668 1775,673 1776,673 1776,675 1777,675 1777,676 1780,676 1780,677 1781,677 1781,684 1782,684 1782,685 1784,685 1784,686 1785,686 1785,691 1786,691 1786,694 1787,694 1787,697 1788,697 1788,698 1789,698 1789,703 1790,703 1790,708 1791,708 1791,709 1792,709 1792,710 1794,710 1794,706 1795,706 1795,701 1796,701 1796,700 1797,700 1797,697 1798,697 1798,687 1799,687 1799,686 1801,686 1801,685 1805,685 1805,687 1806,687 1806,690 1807,690 1807,691 1809,691 1809,687 1810,687 1810,682 1811,682 1811,670 1812,670 1812,657 1813,657 1813,647 1814,647 1814,646 1819,646 1819,647 1820,647 1820,648 1823,648 1823,650 1824,650 1824,656 1825,656 1825,665 1826,665 1826,669 1828,669 1828,668 1834,668 1834,677 1835,677 1835,678 1837,678 1837,679 1838,679 1838,681 1839,681 1839,688 1840,688 1840,689 1842,689 1842,690 1844,690 1844,694 1845,694 1845,695 1846,695 1846,694 1847,694 1847,693 1848,693 1848,692 1851,692 1851,687 1852,687 1852,685 1853,685 1853,686 1854,686 1854,685 1855,685 1855,683 1856,683 1856,680 1857,680 1857,660 1858,660 1858,658 1861,658 1861,659 1863,659 1863,660 1864,660 1864,664 1865,664 1865,666 1866,666 1866,665 1867,665 1867,666 1869,666 1869,670 1870,670 1870,667 1871,667 1871,657 1872,657 1872,652 1875,652 1875,651 1877,651 1877,652 1878,652 1878,653 1879,653 1879,664 1880,664 1880,665 1882,665 1882,667 1883,667 1883,669 1884,669 1884,671 1888,671 1888,675 1889,675 1889,686 1890,686 1890,687 1891,687 1891,688 1893,688 1893,689 1896,689 1896,688 1897,688 1897,689 1898,689 1898,697 1899,697 1899,709 1900,709 1900,707 1901,707 1901,704 1902,704 1902,698 1903,698 1903,693 1904,693 1904,689 1905,689 1905,685 1906,685 1906,683 1907,683 1907,682 1909,682 1909,681 1911,681 1911,680 1912,680 1912,679 1913,679 1913,681 1914,681 1914,680 1915,680 1915,676 1916,676 1916,669 1917,669 1917,666 1918,666 1918,669 1919,669 1919,666 1920,666 1920,663 1921,663 1921,659 1922,659 1922,655 1923,655 1923,654 1924,654 1924,653 1926,653 1926,652 1928,652 1928,651 1931,651 1931,650 1934,650 1934,649 1935,649 1935,650 1937,650 1937,651 1938,651 1938,660 1939,660 1939,665 1940,665 1940,666 1941,666 1941,663 1942,663 1942,664 1943,664 1943,666 1946,666 1946,664 1948,664 1948,663 1951,663 1951,665 1953,665 1953,655 1954,655 1954,646 1955,646 1955,629 1956,629 1956,620 1958,620 1958,622 1961,622 1961,623 1962,623 1962,636 1963,636 1963,641 1969,641 1969,643 1972,643 1972,654 1973,654 1973,663 1976,663 1976,665 1977,665 1977,666 1978,666 1978,676 1979,676 1979,678 1981,678 1981,679 1982,679 1982,702 1983,702 1983,712 1984,712 1984,713 1984.5,713 1984.5,716 1984,716 1984,736 1983,736 1983,741 1982,741 1982,746 1981,746 1981,747 1979,747 1979,746 1978,746 1978,744 1977,744 1977,734 1976,734 1976,733 1974,733 1974,732 1972,732 1972,723 1971,723 1971,707 1970,707 1970,705 1969,705 1969,704 1968,704 1968,703 1967,703 1967,698 1965,698 1965,697 1963,697 1963,694 1962,694 1962,689 1961,689 1961,683 1960,683 1960,686 1959,686 1959,694 1958,694 1958,696 1957,696 1957,697 1955,697 1955,712 1954,712 1954,716 1953,716 1953,717 1952,717 1952,718 1950,718 1950,717 1949,717 1949,716 1948,716 1948,715 1947,715 1947,711 1946,711 1946,707 1943,707 1943,710 1939,710 1939,707 1938,707 1938,704 1937,704 1937,693 1936,693 1936,691 1935,691 1935,693 1932,693 1932,692 1929,692 1929,693 1928,693 1928,692 1924,692 1924,691 1922,691 1922,690 1921,690 1921,694 1920,694 1920,713 1919,713 1919,716 1913,716 1913,706 1911,706 1911,705 1908,705 1908,711 1907,711 1907,716 1906,716 1906,720 1905,720 1905,725 1904,725 1904,731 1903,731 1903,732 1902,732 1902,733 1901,733 1901,734 1899,734 1899,738 1898,738 1898,739 1895,739 1895,738 1894,738 1894,737 1893,737 1893,738 1891,738 1891,735 1889,735 1889,736 1888,736 1888,737 1886,737 1886,739 1885,739 1885,738 1883,738 1883,714 1882,714 1882,710 1880,710 1880,711 1878,711 1878,714 1876,714 1876,713 1874,713 1874,712 1870,712 1870,711 1868,711 1868,710 1866,710 1866,708 1865,708 1865,707 1864,707 1864,706 1862,706 1862,708 1861,708 1861,713 1860,713 1860,716 1859,716 1859,717 1858,717 1858,718 1856,718 1856,730 1855,730 1855,731 1852,731 1852,732 1848,732 1848,731 1845,731 1845,730 1844,730 1844,728 1842,728 1842,726 1841,726 1841,727 1837,727 1837,728 1835,728 1835,722 1834,722 1834,719 1832,719 1832,720 1830,720 1830,721 1829,721 1829,723 1828,723 1828,722 1827,722 1827,721 1825,721 1825,717 1824,717 1824,714 1823,714 1823,713 1822,713 1822,712 1820,712 1820,705 1818,705 1818,704 1815,704 1815,705 1814,705 1814,710 1813,710 1813,715 1812,715 1812,718 1811,718 1811,722 1810,722 1810,723 1807,723 1807,721 1800,721 1800,726 1799,726 1799,731 1798,731 1798,736 1797,736 1797,739 1794,739 1794,740 1792,740 1792,739 1789,739 1789,738 1787,738 1787,736 1786,736 1786,732 1785,732 1785,719 1784,719 1784,716 1783,716 1783,715 1781,715 1781,714 1779,714 1779,713 1778,713 1778,714 1776,714 1776,713 1774,713 1774,714 1773,714 1773,713 1770,713 1770,712 1769,712 1769,710 1767,710 1767,709 1764,709 1764,708 1763,708 1763,718 1762,718 1762,722 1759,722 1759,725 1758,725 1758,724 1757,724 1757,719 1756,719 1756,716 1754,716 1754,714 1753,714 1753,713 1752,713 1752,705 1751,705 1751,706 1749,706 1749,709 1748,709 1748,712 1743,712 1743,711 1742,711 1742,709 1741,709 1741,706 1740,706 1740,705 1737,705 1737,706 1736,706 1736,705 1735,705 1735,706 1734,706 1734,709 1733,709 1733,711 1732,711 1732,710 1731,710 1731,711 1730,711 1730,714 1729,714 1729,720 1728,720 1728,733 1727,733 1727,734 1723,734 1723,733 1722,733 1722,730 1721,730 1721,729 1719,729 1719,730 1718,730 1718,731 1714,731 1714,730 1713,730 1713,727 1712,727 1712,725 1709,725 1709,726 1707,726 1707,725 1706,725 1706,724 1705,724 1705,723 1703,723 1703,722 1701,722 1701,721 1699,721 1699,720 1697,720 1697,719 1696,719 1696,720 1695,720 1695,719 1688,719 1688,718 1687,718 1687,716 1686,716 1686,712 1685,712 1685,709 1684,709 1684,705 1683,705 1683,701 1682,701 1682,703 1678,703 1678,704 1677,704 1677,701 1676,701 1676,702 1673,702 1673,704 1672,704 1672,705 1670,705 1670,711 1669,711 1669,721 1665,721 1665,723 1664,723 1664,720 1663,720 1663,709 1661,709 1661,708 1660,708 1660,707 1659,707 1659,706 1657,706 1657,705 1656,705 1656,704 1654,704 1654,703 1651,703 1651,702 1650,702 1650,705 1649,705 1649,709 1648,709 1648,712 1645,712 1645,713 1638,713 1638,711 1634,711 1634,712 1632,712 1632,711 1628,711 1628,713 1627,713 1627,714 1625,714 1625,713 1624,713 1624,712 1622,712 1622,713 1620,713 1620,714 1619,714 1619,715 1614,715 1614,713 1613,713 1613,706 1612,706 1612,704 1611,704 1611,705 1609,705 1609,704 1607,704 1607,703 1604,703 1604,702 1602,702 1602,712 1601,712 1601,728 1596,728 1596,727 1594,727 1594,728 1593,728 1593,730 1591,730 1591,732 1589,732 1589,733 1587,733 1587,731 1586,731 1586,732 1582,732 1582,733 1577,733 1577,734 1573,734 1573,733 1572,733 1572,729 1571,729 1571,726 1570,726 1570,719 1569,719 1569,714 1568,714 1568,718 1567,718 1567,722 1565,722 1565,723 1564,723 1564,725 1563,725 1563,724 1562,724 1562,723 1561,723 1561,722 1560,722 1560,721 1559,721 1559,720 1558,720 1558,721 1557,721 1557,723 1555,723 1555,724 1550,724 1550,723 1548,723 1548,722 1547,722 1547,721 1543,721 1543,722 1540,722 1540,723 1539,723 1539,721 1536,721 1536,724 1535,724 1535,726 1534,726 1534,727 1533,727 1533,728 1528,728 1528,727 1526,727 1526,721 1525,721 1525,714 1524,714 1524,710 1521,710 1521,711 1520,711 1520,715 1519,715 1519,716 1518,716 1518,717 1517,717 1517,718 1515,718 1515,719 1513,719 1513,720 1512,720 1512,724 1509,724 1509,725 1508,725 1508,724 1506,724 1506,719 1505,719 1505,708 1503,708 1503,713 1502,713 1502,719 1501,719 1501,720 1500,720 1500,722 1499,722 1499,727 1498,727 1498,734 1497,734 1497,735 1495,735 1495,737 1485,737 1485,736 1484,736 1484,737 1483,737 1483,738 1481,738 1481,739 1477,739 1477,740 1476,740 1476,742 1474,742 1474,741 1473,741 1473,740 1472,740 1472,736 1471,736 1471,735 1470,735 1470,737 1469,737 1469,739 1468,739 1468,742 1463,742 1463,740 1460,740 1460,742 1455,742 1455,739 1451,739 1451,737 1449,737 1449,738 1447,738 1447,735 1446,735 1446,734 1442,734 1442,735 1437,735 1437,734 1436,734 1436,733 1434,733 1434,732 1433,732 1433,734 1432,734 1432,735 1431,735 1431,736 1430,736 1430,735 1429,735 1429,736 1427,736 1427,737 1426,737 1426,738 1424,738 1424,737 1422,737 1422,733 1421,733 1421,729 1420,729 1420,728 1419,728 1419,726 1418,726 1418,725 1417,725 1417,723 1416,723 1416,722 1415,722 1415,721 1414,721 1414,716 1413,716 1413,713 1412,713 1412,712 1411,712 1411,711 1409,711 1409,710 1408,710 1408,709 1407,709 1407,714 1406,714 1406,723 1405,723 1405,726 1404,726 1404,727 1401,727 1401,728 1400,728 1400,731 1398,731 1398,732 1396,732 1396,733 1395,733 1395,731 1394,731 1394,732 1392,732 1392,733 1391,733 1391,735 1389,735 1389,736 1385,736 1385,735 1383,735 1383,734 1381,734 1381,739 1380,739 1380,742 1379,742 1379,741 1378,741 1378,742 1377,742 1377,743 1376,743 1376,744 1375,744 1375,745 1374,745 1374,746 1373,746 1373,747 1371,747 1371,748 1370,748 1370,750 1368,750 1368,752 1366,752 1366,753 1365,753 1365,751 1364,751 1364,743 1363,743 1363,739 1362,739 1362,737 1360,737 1360,736 1358,736 1358,735 1357,735 1357,734 1355,734 1355,733 1353,733 1353,732 1351,732 1351,733 1350,733 1350,747 1347,747 1347,750 1346,750 1346,751 1342,751 1342,750 1341,750 1341,747 1340,747 1340,743 1337,743 1337,744 1336,744 1336,745 1335,745 1335,746 1334,746 1334,748 1333,748 1333,749 1327,749 1327,747 1324,747 1324,745 1323,745 1323,749 1322,749 1322,755 1319,755 1319,754 1318,754 1318,755 1314,755 1314,756 1311,756 1311,755 1309,755 1309,753 1307,753 1307,754 1305,754 1305,753 1302,753 1302,756 1300,756 1300,757 1298,757 1298,760 1297,760 1297,759 1295,759 1295,760 1292,760 1292,761 1291,761 1291,762 1290,762 1290,763 1289,763 1289,765 1283,765 1283,764 1282,764 1282,765 1281,765 1281,766 1276,766 1276,765 1275,765 1275,763 1274,763 1274,760 1273,760 1273,757 1271,757 1271,758 1265,758 1265,757 1263,757 1263,759 1261,759 1261,758 1260,758 1260,756 1259,756 1259,755 1258,755 1258,753 1256,753 1256,751 1255,751 1255,749 1254,749 1254,748 1253,748 1253,747 1252,747 1252,749 1250,749 1250,748 1248,748 1248,746 1246,746 1246,745 1245,745 1245,744 1244,744 1244,746 1243,746 1243,751 1242,751 1242,758 1240,758 1240,760 1237,760 1237,750 1235,750 1235,749 1234,749 1234,753 1232,753 1232,752 1230,752 1230,751 1227,751 1227,750 1225,750 1225,749 1223,749 1223,748 1222,748 1222,747 1221,747 1221,748 1220,748 1220,749 1219,749 1219,750 1218,750 1218,751 1216,751 1216,753 1215,753 1215,752 1214,752 1214,750 1213,750 1213,749 1212,749 1212,750 1209,750 1209,754 1208,754 1208,757 1204,757 1204,754 1203,754 1203,749 1202,749 1202,753 1199,753 1199,755 1198,755 1198,756 1197,756 1197,752 1194,752 1194,755 1193,755 1193,752 1192,752 1192,750 1191,750 1191,749 1190,749 1190,747 1187,747 1187,745 1186,745 1186,743 1185,743 1185,741 1184,741 1184,740 1183,740 1183,739 1182,739 1182,737 1179,737 1179,740 1178,740 1178,742 1177,742 1177,745 1176,745 1176,749 1174,749 1174,748 1172,748 1172,749 1170,749 1170,752 1169,752 1169,753 1165,753 1165,754 1164,754 1164,755 1162,755 1162,754 1160,754 1160,753 1159,753 1159,746 1158,746 1158,743 1157,743 1157,741 1156,741 1156,740 1155,740 1155,739 1154,739 1154,738 1153,738 1153,740 1150,740 1150,746 1149,746 1149,751 1143,751 1143,752 1142,752 1142,753 1141,753 1141,755 1140,755 1140,759 1139,759 1139,761 1135,761 1135,758 1134,758 1134,756 1133,756 1133,754 1131,754 1131,753 1129,753 1129,750 1128,750 1128,749 1126,749 1126,750 1125,750 1125,752 1120,752 1120,749 1119,749 1119,747 1113,747 1113,742 1112,742 1112,740 1111,740 1111,739 1109,739 1109,736 1108,736 1108,732 1107,732 1107,727 1106,727 1106,725 1104,725 1104,739 1103,739 1103,740 1102,740 1102,742 1101,742 1101,745 1100,745 1100,748 1099,748 1099,750 1096,750 1096,754 1095,754 1095,751 1093,751 1093,753 1090,753 1090,751 1089,751 1089,749 1086,749 1086,748 1084,748 1084,745 1082,745 1082,744 1081,744 1081,747 1079,747 1079,737 1078,737 1078,733 1077,733 1077,732 1074,732 1074,731 1073,731 1073,734 1070,734 1070,733 1069,733 1069,731 1067,731 1067,730 1064,730 1064,729 1059,729 1059,724 1058,724 1058,723 1057,723 1057,725 1056,725 1056,724 1054,724 1054,726 1053,726 1053,731 1052,731 1052,734 1047,734 1047,728 1046,728 1046,725 1045,725 1045,727 1044,727 1044,735 1043,735 1043,739 1042,739 1042,741 1039,741 1039,743 1037,743 1037,742 1034,742 1034,744 1031,744 1031,742 1030,742 1030,743 1028,743 1028,741 1027,741 1027,740 1026,740 1026,738 1024,738 1024,747 1023,747 1023,752 1017,752 1017,751 1016,751 1016,749 1015,749 1015,748 1013,748 1013,749 1007,749 1007,748 1006,748 1006,745 1005,745 1005,733 1002,733 1002,731 1001,731 1001,729 1000,729 1000,730 998,730 998,729 996,729 996,728 992,728 992,725 990,725 990,724 987,724 987,722 986,722 986,715 985,715 985,713 984,713 984,724 983,724 983,725 982,725 982,726 981,726 981,727 978,727 978,726 977,726 977,720 976,720 976,717 974,717 974,716 973,716 973,715 972,715 972,714 970,714 970,715 969,715 969,714 968,714 968,717 967,717 967,721 966,721 966,723 965,723 965,731 964,731 964,733 963,733 963,734 958,734 958,736 957,736 957,739 955,739 955,740 953,740 953,741 951,741 951,738 949,738 949,737 943,737 943,735 942,735 942,727 941,727 941,723 939,723 939,722 938,722 938,719 937,719 937,716 936,716 936,714 934,714 934,716 933,716 933,717 932,717 932,719 928,719 928,709 927,709 927,706 926,706 926,712 925,712 925,714 924,714 924,718 923,718 923,722 921,722 921,725 920,725 920,735 919,735 919,737 918,737 918,738 915,738 915,737 914,737 914,733 913,733 913,723 912,723 912,720 911,720 911,726 910,726 910,730 909,730 909,732 906,732 906,734 905,734 905,738 904,738 904,739 902,739 902,740 898,740 898,739 894,739 894,737 893,737 893,729 891,729 891,736 890,736 890,743 888,743 888,744 881,744 881,743 880,743 880,741 878,741 878,739 877,739 877,738 876,738 876,737 874,737 874,731 873,731 873,729 872,729 872,727 869,727 869,719 868,719 868,718 867,718 867,716 866,716 866,715 865,715 865,713 862,713 862,710 860,710 860,709 859,709 859,708 858,708 858,709 857,709 857,713 856,713 856,720 855,720 855,725 854,725 854,726 853,726 853,727 852,727 852,728 851,728 851,749 850,749 850,750 849,750 849,751 848,751 848,749 846,749 846,747 845,747 845,746 844,746 844,745 843,745 843,744 842,744 842,743 841,743 841,744 840,744 840,743 839,743 839,740 838,740 838,739 836,739 836,738 835,738 835,735 834,735 834,732 833,732 833,728 832,728 832,725 831,725 831,724 830,724 830,722 829,722 829,718 828,718 828,717 827,717 827,716 826,716 826,718 825,718 825,717 824,717 824,714 823,714 823,713 822,713 822,712 818,712 818,713 816,713 816,712 814,712 814,711 812,711 812,710 811,710 811,709 810,709 810,708 809,708 809,711 808,711 808,716 807,716 807,720 806,720 806,724 805,724 805,726 804,726 804,728 803,728 803,727 799,727 799,726 798,726 798,727 796,727 796,728 795,728 795,729 794,729 794,730 793,730 793,729 792,729 792,726 791,726 791,725 787,725 787,726 786,726 786,725 784,725 784,727 783,727 783,726 781,726 781,725 780,725 780,723 778,723 778,722 777,722 777,723 775,723 775,721 774,721 774,724 773,724 773,727 772,727 772,730 771,730 771,732 770,732 770,733 769,733 769,734 764,734 764,735 762,735 762,734 761,734 761,733 760,733 760,729 759,729 759,728 755,728 755,727 754,727 754,726 751,726 751,720 750,720 750,712 749,712 749,711 748,711 748,709 747,709 747,702 746,702 746,698 743,698 743,697 742,697 742,699 741,699 741,702 738,702 738,699 737,699 737,694 736,694 736,690 735,690 735,689 732,689 732,688 731,688 731,685 730,685 730,682 729,682 729,688 728,688 728,698 727,698 727,701 724,701 724,699 723,699 723,700 722,700 722,703 721,703 721,704 720,704 720,712 719,712 719,717 718,717 718,716 715,716 715,717 714,717 714,722 713,722 713,725 712,725 712,726 711,726 711,729 710,729 710,730 709,730 709,733 708,733 708,735 704,735 704,736 703,736 703,734 702,734 702,725 700,725 700,724 699,724 699,725 697,725 697,726 693,726 693,725 692,725 692,724 691,724 691,723 690,723 690,722 689,722 689,723 688,723 688,713 687,713 687,712 686,712 686,711 684,711 684,708 683,708 683,704 682,704 682,705 680,705 680,704 679,704 679,703 675,703 675,706 674,706 674,714 673,714 673,716 668,716 668,708 667,708 667,702 665,702 665,701 664,701 664,699 663,699 663,693 661,693 661,694 659,694 659,695 658,695 658,696 657,696 657,697 656,697 656,700 655,700 655,709 654,709 654,716 653,716 653,715 649,715 649,714 648,714 648,712 645,712 645,711 643,711 643,702 641,702 641,704 640,704 640,709 639,709 639,714 636,714 636,713 635,713 635,705 634,705 634,701 633,701 633,700 632,700 632,701 631,701 631,703 625,703 625,700 624,700 624,694 622,694 622,693 621,693 621,701 620,701 620,707 619,707 619,710 618,710 618,711 617,711 617,710 614,710 614,704 613,704 613,699 611,699 611,698 610,698 610,694 609,694 609,682 608,682 608,680 606,680 606,682 604,682 604,683 603,683 603,681 601,681 601,682 600,682 600,684 598,684 598,685 597,685 597,686 596,686 596,687 595,687 595,688 593,688 593,689 591,689 591,697 590,697 590,707 587,707 587,706 585,706 585,703 584,703 584,699 582,699 582,698 580,698 580,692 579,692 579,687 578,687 578,691 577,691 577,694 576,694 576,696 575,696 575,700 574,700 574,705 571,705 571,704 566,704 566,705 565,705 565,701 564,701 564,694 563,694 563,692 562,692 562,691 558,691 558,690 557,690 557,694 556,694 556,696 551,696 551,687 550,687 550,682 549,682 549,680 547,680 547,679 546,679 546,680 544,680 544,689 543,689 543,701 542,701 542,709 541,709 541,708 536,708 536,699 535,699 535,684 532,684 532,683 530,683 530,686 529,686 529,693 528,693 528,732 527,732 527,734 526,734 526,733 523,733 523,732 522,732 522,731 521,731 521,728 519,728 519,727 518,727 518,728 517,728 517,727 515,727 515,725 514,725 514,721 513,721 513,720 512,720 512,718 511,718 511,716 509,716 509,715 508,715 508,714 507,714 507,713 506,713 506,712 504,712 504,710 503,710 503,709 502,709 502,708 501,708 501,706 499,706 499,705 496,705 496,691 495,691 495,685 494,685 494,684 493,684 493,683 492,683 492,679 491,679 491,670 490,670 490,660 489,660 489,659 487,659 487,661 486,661 486,670 485,670 485,685 484,685 484,694 483,694 483,701 482,701 482,702 479,702 479,698 477,698 477,696 476,696 476,688 475,688 475,687 473,687 473,686 472,686 472,685 470,685 470,687 469,687 469,693 468,693 468,700 464,700 464,701 462,701 462,700 460,700 460,701 458,701 458,698 456,698 456,696 455,696 455,695 454,695 454,693 453,693 453,692 451,692 451,691 450,691 450,690 449,690 449,689 448,689 448,688 447,688 447,682 446,682 446,678 444,678 444,677 443,677 443,671 442,671 442,663 441,663 441,661 440,661 440,660 439,660 439,657 438,657 438,654 437,654 437,644 436,644 436,636 435,636 435,634 434,634 434,635 433,635 433,641 432,641 432,648 431,648 431,656 430,656 430,667 429,667 429,676 428,676 428,680 426,680 426,679 424,679 424,680 422,680 422,681 419,681 419,680 418,680 418,679 417,679 417,677 416,677 416,676 414,676 414,672 413,672 413,666 411,666 411,664 410,664 410,663 407,663 407,662 406,662 406,661 403,661 403,660 402,660 402,659 401,659 401,660 400,660 400,663 399,663 399,664 397,664 397,665 395,665 395,666 391,666 391,668 390,668 390,667 389,667 389,661 388,661 388,640 387,640 387,626 386,626 386,625 383,625 383,617 382,617 382,600 381,600 381,595 380,595 380,615 379,615 379,625 378,625 378,632 377,632 377,635 376,635 376,638 375,638 375,640 374,640 374,642 373,642 373,643 371,643 371,644 369,644 369,646 368,646 368,648 367,648 367,651 366,651 366,656 365,656 365,660 364,660 364,666 363,666 363,669 362,669 362,673 361,673 361,676 360,676 360,680 359,680 359,681 356,681 356,680 355,680 355,679 354,679 354,677 353,677 353,675 352,675 352,678 351,678 351,679 350,679 350,681 349,681 349,682 348,682 348,683 347,683 347,687 346,687 346,693 345,693 345,696 343,696 343,697 340,697 340,698 339,698 339,696 335,696 335,697 334,697 334,698 330,698 330,696 329,696 329,690 327,690 327,691 325,691 325,689 324,689 324,679 323,679 323,680 321,680 321,685 318,685 318,683 315,683 315,671 314,671 314,670 310,670 310,661 309,661 309,660 308,660 308,659 307,659 307,662 306,662 306,669 305,669 305,670 301,670 301,662 300,662 300,650 299,650 299,641 298,641 298,633 297,633 297,631 294,631 294,635 293,635 293,650 292,650 292,663 291,663 291,670 290,670 290,671 289,671 289,672 287,672 287,677 286,677 286,679 283,679 283,681 281,681 281,677 280,677 280,661 279,661 279,651 276,651 276,649 275,649 275,641 274,641 274,636 273,636 273,635 271,635 271,636 270,636 270,640 269,640 269,643 268,643 268,644 267,644 267,645 266,645 266,646 263,646 263,657 262,657 262,674 261,674 261,675 259,675 259,679 258,679 258,680 256,680 256,681 253,681 253,678 249,678 249,677 248,677 248,679 247,679 247,678 246,678 246,676 245,676 245,675 243,675 243,674 241,674 241,660 240,660 240,651 237,651 237,647 236,647 236,645 234,645 234,651 232,651 232,653 228,653 228,652 227,652 227,651 226,651 226,646 225,646 225,643 224,643 224,642 222,642 222,636 221,636 221,632 217,632 217,630 215,630 215,629 213,629 213,631 212,631 212,608 211,608 211,606 209,606 209,604 208,604 208,603 207,603 207,600 206,600 206,599 204,599 204,608 203,608 203,622 202,622 202,625 201,625 201,631 200,631 200,652 199,652 199,666 198,666 198,675 197,675 197,677 195,677 195,676 193,676 193,669 192,669 192,636 191,636 191,622 190.5,622"/>
<polygon fill="#8B2A8F" points="191,415 194,415 194,414 195,414 195,412 196,412 196,402 197,402 197,393 198,393 198,384 199,384 199,376 200,376 200,373 201,373 201,370 202,370 202,367 203,367 203,365 205,365 205,366 207,366 207,367 208,367 208,368 210,368 210,369 212,369 212,387 215,387 215,388 216,388 216,394 217,394 217,400 218,400 218,401 219,401 219,402 220,402 220,403 222,403 222,413 223,413 223,414 226,414 226,413 228,413 228,414 230,414 230,413 231,413 231,412 232,412 232,411 234,411 234,406 235,406 235,401 236,401 236,399 237,399 237,397 238,397 238,398 240,398 240,401 241,401 241,407 242,407 242,408 243,408 243,407 246,407 246,423 250,423 250,432 251,432 251,445 252,445 252,447 253,447 253,446 254,446 254,441 255,441 255,440 256,440 256,441 258,441 258,427 259,427 259,413 260,413 260,410 264,410 264,412 265,412 265,424 266,424 266,427 267,427 267,425 268,425 268,423 269,423 269,403 270,403 270,395 273,395 273,394 274,394 274,392 275,392 275,391 277,391 277,392 279,392 279,395 280,395 280,398 281,398 281,400 283,400 283,401 284,401 284,400 285,400 285,433 286,433 286,453 287,453 287,452 288,452 288,445 289,445 289,432 290,432 290,423 291,423 291,420 292,420 292,417 295,417 295,419 297,419 297,417 299,417 299,418 300,418 300,419 301,419 301,420 303,420 303,425 305,425 305,427 306,427 306,432 307,432 307,433 308,433 308,422 309,422 309,406 312,406 312,405 314,405 314,416 315,416 315,422 319,422 319,425 320,425 320,430 323,430 323,426 324,426 324,423 325,423 325,422 327,422 327,424 329,424 329,446 330,446 330,468 332,468 332,467 334,467 334,468 335,468 335,469 336,469 336,471 339,471 339,477 340,477 340,485 341,485 341,486 342,486 342,482 343,482 343,479 344,479 344,474 345,474 345,467 346,467 346,460 347,460 347,457 348,457 348,454 349,454 349,453 352,453 352,452 355,452 355,453 356,453 356,454 357,454 357,458 358,458 358,462 359,462 359,461 360,461 360,456 361,456 361,440 362,440 362,438 364,438 364,443 365,443 365,442 366,442 366,437 367,437 367,430 372,430 372,423 373,423 373,405 374,405 374,392 375,392 375,386 376,386 376,380 377,380 377,373 378,373 378,372 379,372 379,371 382,371 382,370 383,370 383,372 384,372 384,374 385,374 385,375 387,375 387,378 388,378 388,387 389,387 389,396 391,396 391,397 392,397 392,403 393,403 393,412 394,412 394,413 396,413 396,414 397,414 397,416 398,416 398,422 399,422 399,427 402,427 402,417 403,417 403,413 404,413 404,412 405,412 405,413 406,413 406,417 407,417 407,431 408,431 408,445 409,445 409,444 411,444 411,445 412,445 412,446 414,446 414,447 415,447 415,438 416,438 416,426 417,426 417,422 422,422 422,443 423,443 423,465 425,465 425,454 426,454 426,439 427,439 427,423 428,423 428,410 429,410 429,407 430,407 430,404 431,404 431,401 432,401 432,398 434,398 434,399 436,399 436,400 437,400 437,401 438,401 438,402 440,402 440,404 441,404 441,416 442,416 442,438 443,438 443,439 444,439 444,440 447,440 447,448 448,448 448,457 449,457 449,456 450,456 450,453 451,453 451,444 456,444 456,445 457,445 457,448 458,448 458,453 459,453 459,455 461,455 461,461 462,461 462,488 463,488 463,494 466,494 466,495 467,495 467,499 468,499 468,492 469,492 469,485 470,485 470,483 471,483 471,481 472,481 472,480 474,480 474,479 475,479 475,481 477,481 477,478 478,478 478,473 479,473 479,467 480,467 480,459 481,459 481,452 482,452 482,448 483,448 483,437 484,437 484,423 485,423 485,414 486,414 486,413 488,413 488,415 490,415 490,420 491,420 491,423 492,423 492,424 493,424 493,423 494,423 494,424 495,424 495,438 496,438 496,471 497,471 497,478 500,478 500,477 501,477 501,478 505,478 505,495 506,495 506,507 507,507 507,509 510,509 510,524 511,524 511,531 514,531 514,532 515,532 515,538 516,538 516,545 518,545 518,546 520,546 520,549 521,549 521,551 522,551 522,550 523,550 523,519 524,519 524,466 526,466 526,465 528,465 528,464 529,464 529,447 530,447 530,446 534,446 534,463 535,463 535,478 538,478 538,477 539,477 539,469 540,469 540,459 541,459 541,447 542,447 542,434 543,434 543,432 544,432 544,429 545,429 545,428 546,428 546,430 548,430 548,429 549,429 549,432 550,432 550,442 551,442 551,445 552,445 552,446 555,446 555,480 556,480 556,492 557,492 557,493 560,493 560,500 561,500 561,502 562,502 562,496 563,496 563,494 564,494 564,493 566,493 566,492 567,492 567,494 568,494 568,497 569,497 569,501 570,501 570,502 571,502 571,499 574,499 574,465 575,465 575,464 576,464 576,465 578,465 578,433 579,433 579,432 583,432 583,433 584,433 584,473 585,473 585,490 586,490 586,485 587,485 587,481 592,481 592,483 593,483 593,485 594,485 594,479 595,479 595,461 596,461 596,446 597,446 597,436 599,436 599,437 601,437 601,438 602,438 602,440 603,440 603,448 604,448 604,457 605,457 605,459 606,459 606,463 607,463 607,464 608,464 608,468 610,468 610,469 611,469 611,470 613,470 613,487 614,487 614,495 615,495 615,496 617,496 617,489 618,489 618,484 619,484 619,481 620,481 620,478 621,478 621,474 622,474 622,471 625,471 625,470 627,470 627,474 628,474 628,478 629,478 629,479 630,479 630,481 633,481 633,490 637,490 637,491 638,491 638,493 639,493 639,495 640,495 640,494 642,494 642,495 643,495 643,492 644,492 644,491 645,491 645,492 646,492 646,493 647,493 647,497 648,497 648,507 649,507 649,512 651,512 651,511 652,511 652,516 653,516 653,523 654,523 654,506 655,506 655,489 656,489 656,477 658,477 658,476 660,476 660,473 661,473 661,468 662,468 662,469 665,469 665,470 667,470 667,491 668,491 668,497 669,497 669,498 672,498 672,511 673,511 673,512 674,512 674,511 676,511 676,486 681,486 681,488 682,488 682,490 683,490 683,491 685,491 685,492 686,492 686,493 687,493 687,527 688,527 688,528 689,528 689,530 690,530 690,532 691,532 691,542 692,542 692,553 693,553 693,559 696,559 696,560 697,560 697,561 698,561 698,552 699,552 699,534 700,534 700,524 704,524 704,526 705,526 705,534 706,534 706,539 707,539 707,540 708,540 708,541 709,541 709,536 710,536 710,522 712,522 712,521 715,521 715,527 716,527 716,533 717,533 717,529 718,529 718,506 719,506 719,492 720,492 720,489 721,489 721,485 723,485 723,486 725,486 725,475 726,475 726,464 729,464 729,463 731,463 731,467 732,467 732,472 736,472 736,479 737,479 737,485 740,485 740,488 741,488 741,499 742,499 742,505 745,505 745,506 746,506 746,516 747,516 747,520 749,520 749,519 750,519 750,523 751,523 751,538 752,538 752,543 754,543 754,541 755,541 755,536 756,536 756,534 759,534 759,538 760,538 760,543 761,543 761,551 762,551 762,562 764,562 764,563 765,563 765,573 766,573 766,579 769,579 769,578 770,578 770,587 771,587 771,584 772,584 772,574 773,574 773,531 774,531 774,530 775,530 775,528 776,528 776,527 777,527 777,528 778,528 778,530 779,530 779,531 780,531 780,540 781,540 781,551 782,551 782,550 783,550 783,551 785,551 785,550 786,550 786,547 788,547 788,546 790,546 790,545 791,545 791,544 793,544 793,545 794,545 794,548 795,548 795,555 796,555 796,554 800,554 800,553 803,553 803,556 804,556 804,562 805,562 805,567 806,567 806,568 807,568 807,566 808,566 808,567 809,567 809,568 810,568 810,569 811,569 811,570 813,570 813,565 814,565 814,563 816,563 816,564 818,564 818,565 819,565 819,568 821,568 821,563 822,563 822,557 825,557 825,556 826,556 826,558 828,558 828,562 829,562 829,565 830,565 830,564 831,564 831,565 833,565 833,568 834,568 834,573 835,573 835,575 837,575 837,576 839,576 839,585 840,585 840,591 842,591 842,592 843,592 843,593 844,593 844,596 845,596 845,600 846,600 846,601 847,601 847,602 848,602 848,603 849,603 849,614 850,614 850,613 851,613 851,608 852,608 852,580 853,580 853,563 854,563 854,549 856,549 856,550 857,550 857,551 858,551 858,550 859,550 859,553 860,553 860,559 861,559 861,566 862,566 862,570 863,570 863,571 864,571 864,569 865,569 865,565 866,565 866,563 867,563 867,562 869,562 869,561 872,561 872,585 873,585 873,589 875,589 875,590 877,590 877,588 878,588 878,589 882,589 882,590 883,590 883,595 884,595 884,607 885,607 885,608 886,608 886,609 887,609 887,610 889,610 889,611 890,611 890,612 891,612 891,611 895,611 895,612 897,612 897,614 898,614 898,615 899,615 899,616 900,616 900,612 901,612 901,607 902,607 902,602 906,602 906,600 907,600 907,587 908,587 908,577 910,577 910,578 912,578 912,577 913,577 913,576 914,576 914,578 915,578 915,582 916,582 916,588 917,588 917,596 918,596 918,599 919,599 919,571 920,571 920,555 921,555 921,548 922,548 922,543 923,543 923,542 926,542 926,546 928,546 928,549 929,549 929,552 930,552 930,555 931,555 931,560 932,560 932,573 933,573 933,582 935,582 935,577 936,577 936,570 937,570 937,571 939,571 939,570 944,570 944,572 945,572 945,578 946,578 946,588 947,588 947,590 949,590 949,589 951,589 951,592 952,592 952,595 953,595 953,596 954,596 954,597 955,597 955,598 957,598 957,604 958,604 958,609 959,609 959,612 960,612 960,611 961,611 961,608 962,608 962,603 963,603 963,595 964,595 964,587 965,587 965,582 967,582 967,580 974,580 974,581 975,581 975,583 976,583 976,584 977,584 977,585 979,585 979,579 980,579 980,572 981,572 981,566 984,566 984,565 985,565 985,564 986,564 986,562 987,562 987,561 989,561 989,562 990,562 990,567 991,567 991,576 992,576 992,580 995,580 995,579 996,579 996,578 998,578 998,588 999,588 999,601 1000,601 1000,605 1001,605 1001,606 1003,606 1003,607 1004,607 1004,612 1005,612 1005,617 1006,617 1006,618 1008,618 1008,619 1009,619 1009,620 1010,620 1010,633 1011,633 1011,645 1012,645 1012,646 1013,646 1013,647 1014,647 1014,651 1015,651 1015,654 1017,654 1017,656 1018,656 1018,657 1019,657 1019,651 1020,651 1020,639 1021,639 1021,629 1022,629 1022,623 1023,623 1023,622 1024,622 1024,621 1025,621 1025,620 1027,620 1027,618 1029,618 1029,619 1030,619 1030,618 1031,618 1031,613 1033,613 1033,615 1034,615 1034,617 1035,617 1035,619 1037,619 1037,620 1039,620 1039,618 1040,618 1040,616 1042,616 1042,615 1043,615 1043,614 1044,614 1044,613 1045,613 1045,612 1048,612 1048,607 1049,607 1049,599 1050,599 1050,594 1051,594 1051,592 1052,592 1052,591 1053,591 1053,589 1054,589 1054,590 1058,590 1058,589 1059,589 1059,595 1060,595 1060,603 1063,603 1063,605 1067,605 1067,602 1068,602 1068,600 1069,600 1069,601 1073,601 1073,602 1074,602 1074,606 1075,606 1075,621 1077,621 1077,622 1079,622 1079,637 1081,637 1081,638 1082,638 1082,640 1083,640 1083,641 1084,641 1084,664 1085,664 1085,666 1086,666 1086,663 1087,663 1087,659 1088,659 1088,658 1090,658 1090,657 1091,657 1091,659 1092,659 1092,660 1094,660 1094,661 1095,661 1095,662 1097,662 1097,649 1098,649 1098,630 1099,630 1099,612 1100,612 1100,609 1105,609 1105,608 1107,608 1107,610 1108,610 1108,616 1109,616 1109,621 1110,621 1110,622 1112,622 1112,624 1113,624 1113,639 1114,639 1114,643 1115,643 1115,644 1117,644 1117,646 1118,646 1118,658 1119,658 1119,662 1121,662 1121,663 1122,663 1122,661 1123,661 1123,665 1124,665 1124,667 1126,667 1126,666 1127,666 1127,663 1129,663 1129,661 1132,661 1132,662 1133,662 1133,666 1134,666 1134,667 1135,667 1135,665 1136,665 1136,652 1137,652 1137,647 1139,647 1139,648 1142,648 1142,649 1143,649 1143,651 1146,651 1146,650 1147,650 1147,649 1148,649 1148,645 1149,645 1149,640 1151,640 1151,639 1152,639 1152,638 1153,638 1153,640 1154,640 1154,642 1155,642 1155,644 1156,644 1156,646 1157,646 1157,650 1159,650 1159,643 1160,643 1160,637 1161,637 1161,638 1162,638 1162,637 1165,637 1165,640 1166,640 1166,646 1167,646 1167,653 1168,653 1168,655 1171,655 1171,656 1172,656 1172,663 1173,663 1173,658 1174,658 1174,640 1175,640 1175,639 1176,639 1176,637 1183,637 1183,635 1186,635 1186,640 1187,640 1187,650 1188,650 1188,654 1191,654 1191,656 1192,656 1192,660 1193,660 1193,661 1195,661 1195,660 1196,660 1196,662 1197,662 1197,667 1198,667 1198,668 1200,668 1200,669 1202,669 1202,668 1203,668 1203,667 1206,667 1206,666 1213,666 1213,665 1215,665 1215,668 1216,668 1216,669 1217,669 1217,670 1218,670 1218,669 1220,669 1220,668 1221,668 1221,667 1222,667 1222,668 1224,668 1224,667 1225,667 1225,668 1226,668 1226,657 1227,657 1227,640 1228,640 1228,639 1229,639 1229,638 1230,638 1230,639 1231,639 1231,640 1232,640 1232,641 1233,641 1233,648 1234,648 1234,651 1235,651 1235,649 1236,649 1236,647 1238,647 1238,648 1239,648 1239,649 1240,649 1240,656 1241,656 1241,660 1243,660 1243,659 1244,659 1244,658 1245,658 1245,657 1246,657 1246,656 1247,656 1247,655 1249,655 1249,658 1250,658 1250,661 1251,661 1251,668 1252,668 1252,669 1253,669 1253,668 1254,668 1254,669 1255,669 1255,674 1256,674 1256,675 1257,675 1257,674 1260,674 1260,671 1268,671 1268,670 1269,670 1269,673 1270,673 1270,676 1271,676 1271,678 1274,678 1274,679 1275,679 1275,680 1276,680 1276,681 1278,681 1278,675 1279,675 1279,670 1282,670 1282,669 1283,669 1283,668 1285,668 1285,667 1288,667 1288,663 1289,663 1289,659 1290,659 1290,660 1294,660 1294,664 1295,664 1295,667 1298,667 1298,666 1299,666 1299,665 1301,665 1301,664 1302,664 1302,666 1303,666 1303,662 1304,662 1304,658 1305,658 1305,657 1307,657 1307,656 1308,656 1308,652 1309,652 1309,649 1310,649 1310,648 1314,648 1314,653 1315,653 1315,654 1316,654 1316,653 1317,653 1317,652 1320,652 1320,651 1321,651 1321,646 1322,646 1322,642 1327,642 1327,640 1328,640 1328,641 1330,641 1330,642 1331,642 1331,644 1332,644 1332,645 1333,645 1333,643 1335,643 1335,644 1336,644 1336,645 1337,645 1337,646 1338,646 1338,647 1339,647 1339,648 1340,648 1340,651 1341,651 1341,653 1342,653 1342,655 1344,655 1344,647 1345,647 1345,629 1347,629 1347,628 1348,628 1348,627 1350,627 1350,626 1351,626 1351,625 1352,625 1352,623 1353,623 1353,619 1354,619 1354,617 1355,617 1355,618 1357,618 1357,619 1358,619 1358,624 1359,624 1359,629 1360,629 1360,631 1362,631 1362,630 1364,630 1364,631 1367,631 1367,630 1368,630 1368,640 1369,640 1369,650 1370,650 1370,653 1371,653 1371,649 1372,649 1372,640 1373,640 1373,637 1376,637 1376,610 1377,610 1377,596 1378,596 1378,592 1381,592 1381,593 1383,593 1383,595 1384,595 1384,598 1385,598 1385,599 1386,599 1386,600 1388,600 1388,604 1389,604 1389,605 1393,605 1393,607 1394,607 1394,606 1395,606 1395,604 1396,604 1396,602 1397,602 1397,601 1398,601 1398,599 1399,599 1399,596 1400,596 1400,583 1401,583 1401,570 1402,570 1402,568 1403,568 1403,565 1404,565 1404,562 1405,562 1405,558 1406,558 1406,556 1409,556 1409,555 1411,555 1411,556 1412,556 1412,562 1413,562 1413,568 1414,568 1414,573 1416,573 1416,572 1417,572 1417,583 1418,583 1418,593 1419,593 1419,594 1420,594 1420,599 1421,599 1421,607 1423,607 1423,609 1426,609 1426,615 1427,615 1427,622 1429,622 1429,618 1430,618 1430,613 1431,613 1431,610 1432,610 1432,609 1433,609 1433,608 1434,608 1434,607 1437,607 1437,608 1438,608 1438,609 1439,609 1439,611 1440,611 1440,612 1441,612 1441,613 1442,613 1442,610 1443,610 1443,611 1445,611 1445,614 1446,614 1446,617 1447,617 1447,619 1448,619 1448,620 1450,620 1450,619 1451,619 1451,620 1452,620 1452,619 1453,619 1453,618 1454,618 1454,615 1455,615 1455,610 1456,610 1456,609 1461,609 1461,604 1462,604 1462,603 1466,603 1466,604 1468,604 1468,605 1470,605 1470,604 1471,604 1471,603 1476,603 1476,609 1477,609 1477,614 1479,614 1479,615 1481,615 1481,617 1484,617 1484,618 1485,618 1485,619 1486,619 1486,626 1487,626 1487,627 1489,627 1489,626 1490,626 1490,628 1491,628 1491,632 1492,632 1492,633 1493,633 1493,631 1494,631 1494,619 1495,619 1495,598 1496,598 1496,588 1497,588 1497,562 1498,562 1498,554 1499,554 1499,553 1504,553 1504,552 1506,552 1506,551 1510,551 1510,561 1511,561 1511,571 1514,571 1514,564 1515,564 1515,556 1517,556 1517,555 1519,555 1519,554 1524,554 1524,556 1525,556 1525,565 1526,565 1526,571 1527,571 1527,574 1528,574 1528,572 1529,572 1529,571 1532,571 1532,570 1533,570 1533,572 1534,572 1534,571 1536,571 1536,569 1538,569 1538,563 1539,563 1539,558 1540,558 1540,556 1544,556 1544,552 1545,552 1545,549 1547,549 1547,550 1550,550 1550,557 1551,557 1551,561 1553,561 1553,562 1554,562 1554,564 1555,564 1555,568 1559,568 1559,575 1560,575 1560,587 1561,587 1561,588 1562,588 1562,589 1563,589 1563,590 1564,590 1564,589 1565,589 1565,587 1566,587 1566,583 1567,583 1567,578 1568,578 1568,572 1569,572 1569,571 1571,571 1571,570 1574,570 1574,571 1576,571 1576,572 1579,572 1579,584 1580,584 1580,589 1582,589 1582,588 1583,588 1583,577 1584,577 1584,570 1586,570 1586,569 1588,569 1588,568 1592,568 1592,569 1594,569 1594,567 1595,567 1595,563 1596,563 1596,557 1597,557 1597,536 1598,536 1598,523 1600,523 1600,522 1601,522 1601,511 1602,511 1602,500 1603,500 1603,495 1604,495 1604,494 1605,494 1605,495 1608,495 1608,519 1609,519 1609,530 1610,530 1610,531 1611,531 1611,530 1613,530 1613,540 1614,540 1614,547 1616,547 1616,551 1617,551 1617,555 1618,555 1618,559 1620,559 1620,557 1621,557 1621,551 1622,551 1622,541 1623,541 1623,543 1624,543 1624,542 1625,542 1625,539 1626,539 1626,538 1627,538 1627,535 1629,535 1629,536 1632,536 1632,538 1633,538 1633,539 1635,539 1635,538 1637,538 1637,537 1640,537 1640,535 1641,535 1641,536 1643,536 1643,541 1644,541 1644,544 1645,544 1645,541 1646,541 1646,511 1647,511 1647,494 1649,494 1649,493 1651,493 1651,494 1652,494 1652,496 1653,496 1653,497 1654,497 1654,496 1656,496 1656,497 1657,497 1657,504 1659,504 1659,505 1661,505 1661,506 1662,506 1662,523 1664,523 1664,522 1667,522 1667,529 1668,529 1668,537 1669,537 1669,539 1671,539 1671,540 1672,540 1672,552 1673,552 1673,554 1674,554 1674,551 1675,551 1675,547 1676,547 1676,546 1677,546 1677,545 1678,545 1678,544 1679,544 1679,543 1680,543 1680,541 1681,541 1681,538 1682,538 1682,537 1685,537 1685,541 1686,541 1686,546 1687,546 1687,551 1689,551 1689,550 1691,550 1691,549 1692,549 1692,548 1694,548 1694,539 1695,539 1695,532 1696,532 1696,531 1697,531 1697,532 1699,532 1699,530 1700,530 1700,529 1701,529 1701,528 1702,528 1702,527 1704,527 1704,528 1709,528 1709,527 1711,527 1711,528 1712,528 1712,531 1713,531 1713,536 1715,536 1715,535 1717,535 1717,538 1718,538 1718,540 1719,540 1719,541 1722,541 1722,556 1723,556 1723,570 1724,570 1724,569 1725,569 1725,540 1726,540 1726,534 1727,534 1727,533 1728,533 1728,531 1729,531 1729,528 1730,528 1730,523 1731,523 1731,521 1733,521 1733,520 1734,520 1734,515 1735,515 1735,510 1738,510 1738,511 1740,511 1740,510 1742,510 1742,511 1743,511 1743,512 1745,512 1745,513 1746,513 1746,515 1747,515 1747,512 1748,512 1748,510 1749,510 1749,501 1750,501 1750,496 1754,496 1754,494 1755,494 1755,495 1756,495 1756,499 1757,499 1757,505 1758,505 1758,507 1759,507 1759,499 1760,499 1760,492 1761,492 1761,490 1762,490 1762,488 1763,488 1763,487 1764,487 1764,486 1765,486 1765,473 1767,473 1767,470 1770,470 1770,472 1771,472 1771,476 1773,476 1773,477 1774,477 1774,479 1775,479 1775,484 1776,484 1776,485 1778,485 1778,486 1779,486 1779,484 1780,484 1780,502 1781,502 1781,507 1782,507 1782,508 1783,508 1783,509 1788,509 1788,510 1789,510 1789,513 1790,513 1790,522 1791,522 1791,525 1792,525 1792,526 1793,526 1793,523 1794,523 1794,513 1795,513 1795,506 1796,506 1796,503 1797,503 1797,499 1798,499 1798,486 1799,486 1799,487 1800,487 1800,486 1801,486 1801,485 1803,485 1803,486 1804,486 1804,487 1805,487 1805,488 1806,488 1806,487 1808,487 1808,485 1809,485 1809,483 1810,483 1810,482 1811,482 1811,469 1812,469 1812,452 1813,452 1813,438 1815,438 1815,437 1817,437 1817,438 1818,438 1818,441 1819,441 1819,444 1821,444 1821,447 1823,447 1823,448 1824,448 1824,469 1825,469 1825,473 1826,473 1826,472 1827,472 1827,465 1828,465 1828,461 1830,461 1830,460 1833,460 1833,466 1834,466 1834,472 1838,472 1838,481 1839,481 1839,493 1841,493 1841,494 1843,494 1843,496 1844,496 1844,498 1847,498 1847,497 1849,497 1849,496 1851,496 1851,495 1852,495 1852,482 1853,482 1853,483 1855,483 1855,482 1857,482 1857,469 1858,469 1858,454 1860,454 1860,453 1862,453 1862,452 1863,452 1863,459 1864,459 1864,464 1865,464 1865,465 1866,465 1866,467 1867,467 1867,468 1868,468 1868,469 1869,469 1869,471 1870,471 1870,468 1871,468 1871,465 1872,465 1872,456 1873,456 1873,446 1878,446 1878,457 1879,457 1879,460 1881,460 1881,458 1882,458 1882,455 1883,455 1883,454 1884,454 1884,453 1886,453 1886,452 1887,452 1887,456 1888,456 1888,470 1889,470 1889,474 1894,474 1894,473 1896,473 1896,471 1897,471 1897,476 1898,476 1898,495 1899,495 1899,504 1901,504 1901,494 1902,494 1902,485 1903,485 1903,476 1904,476 1904,472 1905,472 1905,471 1908,471 1908,472 1909,472 1909,471 1910,471 1910,470 1911,470 1911,469 1912,469 1912,466 1913,466 1913,463 1914,463 1914,460 1915,460 1915,454 1916,454 1916,444 1918,444 1918,445 1919,445 1919,444 1921,444 1921,438 1922,438 1922,435 1924,435 1924,434 1925,434 1925,433 1927,433 1927,432 1928,432 1928,431 1929,431 1929,430 1930,430 1930,428 1931,428 1931,426 1932,426 1932,423 1936,423 1936,424 1937,424 1937,429 1938,429 1938,438 1939,438 1939,440 1940,440 1940,441 1941,441 1941,442 1942,442 1942,447 1943,447 1943,449 1945,449 1945,448 1947,448 1947,447 1950,447 1950,451 1951,451 1951,452 1952,452 1952,446 1953,446 1953,431 1954,431 1954,412 1955,412 1955,405 1956,405 1956,399 1957,399 1957,396 1958,396 1958,394 1960,394 1960,396 1961,396 1961,397 1962,397 1962,411 1963,411 1963,421 1964,421 1964,422 1966,422 1966,423 1967,423 1967,427 1968,427 1968,429 1969,429 1969,430 1970,430 1970,431 1971,431 1971,432 1972,432 1972,447 1977,447 1977,465 1979,465 1979,464 1982,464 1982,479 1983,479 1983,497 1984.5,497 1984.5,502 1984,502 1984,543 1983,543 1983,554 1982,554 1982,560 1979,560 1979,559 1976,559 1976,538 1974,538 1974,537 1972,537 1972,516 1971,516 1971,492 1968,492 1968,494 1966,494 1966,493 1963,493 1963,483 1962,483 1962,465 1961,465 1961,461 1959,461 1959,472 1958,472 1958,483 1957,483 1957,484 1955,484 1955,487 1954,487 1954,498 1953,498 1953,504 1948,504 1948,501 1947,501 1947,499 1946,499 1946,496 1945,496 1945,497 1944,497 1944,496 1940,496 1940,497 1938,497 1938,490 1937,490 1937,484 1933,484 1933,474 1931,474 1931,476 1930,476 1930,479 1925,479 1925,480 1922,480 1922,479 1921,479 1921,478 1920,478 1920,487 1919,487 1919,502 1918,502 1918,504 1917,504 1917,502 1913,502 1913,501 1912,501 1912,500 1911,500 1911,498 1910,498 1910,496 1909,496 1909,494 1907,494 1907,500 1906,500 1906,517 1905,517 1905,530 1904,530 1904,534 1902,534 1902,537 1900,537 1900,542 1899,542 1899,552 1898,552 1898,550 1896,550 1896,551 1895,551 1895,550 1894,550 1894,541 1893,541 1893,535 1891,535 1891,539 1890,539 1890,543 1889,543 1889,546 1886,546 1886,545 1884,545 1884,540 1883,540 1883,507 1882,507 1882,510 1881,510 1881,516 1880,516 1880,517 1879,517 1879,516 1877,516 1877,517 1870,517 1870,515 1869,515 1869,511 1868,511 1868,510 1866,510 1866,509 1863,509 1863,510 1862,510 1862,518 1861,518 1861,532 1860,532 1860,533 1857,533 1857,546 1856,546 1856,564 1855,564 1855,572 1851,572 1851,571 1850,571 1850,569 1849,569 1849,570 1845,570 1845,571 1844,571 1844,572 1843,572 1843,573 1842,573 1842,574 1837,574 1837,573 1835,573 1835,569 1834,569 1834,543 1831,543 1831,551 1830,551 1830,552 1828,552 1828,550 1825,550 1825,529 1824,529 1824,528 1823,528 1823,526 1822,526 1822,525 1821,525 1821,522 1820,522 1820,504 1819,504 1819,501 1817,501 1817,503 1816,503 1816,506 1815,506 1815,505 1814,505 1814,527 1813,527 1813,544 1812,544 1812,549 1811,549 1811,551 1810,551 1810,553 1809,553 1809,554 1807,554 1807,553 1806,553 1806,552 1805,552 1805,550 1802,550 1802,547 1801,547 1801,536 1800,536 1800,554 1799,554 1799,567 1798,567 1798,576 1797,576 1797,586 1796,586 1796,592 1792,592 1792,593 1791,593 1791,589 1790,589 1790,587 1788,587 1788,586 1787,586 1787,585 1786,585 1786,584 1784,584 1784,582 1781,582 1781,578 1780,578 1780,574 1778,574 1778,573 1776,573 1776,572 1775,572 1775,554 1774,554 1774,556 1773,556 1773,555 1772,555 1772,553 1771,553 1771,550 1768,550 1768,556 1767,556 1767,558 1764,558 1764,561 1763,561 1763,578 1762,578 1762,595 1761,595 1761,598 1760,598 1760,597 1758,597 1758,595 1756,595 1756,575 1755,575 1755,564 1754,564 1754,563 1752,563 1752,561 1751,561 1751,552 1750,552 1750,547 1749,547 1749,548 1748,548 1748,560 1747,560 1747,567 1742,567 1742,564 1741,564 1741,549 1740,549 1740,543 1734,543 1734,544 1732,544 1732,545 1731,545 1731,546 1730,546 1730,565 1729,565 1729,596 1728,596 1728,622 1727,622 1727,623 1722,623 1722,621 1721,621 1721,620 1720,620 1720,619 1718,619 1718,618 1715,618 1715,619 1714,619 1714,618 1712,618 1712,609 1711,609 1711,605 1710,605 1710,604 1708,604 1708,602 1707,602 1707,599 1706,599 1706,597 1705,597 1705,596 1704,596 1704,594 1703,594 1703,592 1702,592 1702,586 1701,586 1701,583 1699,583 1699,587 1698,587 1698,589 1697,589 1697,590 1695,590 1695,589 1693,589 1693,585 1692,585 1692,584 1685,584 1685,583 1684,583 1684,582 1683,582 1683,570 1682,570 1682,559 1680,559 1680,569 1679,569 1679,581 1677,581 1677,582 1675,582 1675,610 1674,610 1674,619 1672,619 1672,621 1671,621 1671,622 1670,622 1670,625 1669,625 1669,627 1668,627 1668,626 1665,626 1665,624 1664,624 1664,621 1663,621 1663,610 1662,610 1662,594 1661,594 1661,592 1659,592 1659,591 1658,591 1658,575 1657,575 1657,569 1654,569 1654,566 1653,566 1653,564 1652,564 1652,563 1651,563 1651,564 1650,564 1650,575 1649,575 1649,583 1646,583 1646,585 1645,585 1645,596 1644,596 1644,604 1642,604 1642,603 1639,603 1639,596 1638,596 1638,590 1636,590 1636,589 1633,589 1633,590 1630,590 1630,594 1629,594 1629,605 1626,605 1626,604 1624,604 1624,603 1623,603 1623,600 1622,600 1622,598 1621,598 1621,600 1620,600 1620,601 1618,601 1618,600 1615,600 1615,596 1614,596 1614,591 1613,591 1613,582 1612,582 1612,569 1611,569 1611,570 1610,570 1610,569 1608,569 1608,567 1607,567 1607,565 1606,565 1606,564 1605,564 1605,565 1604,565 1604,572 1603,572 1603,578 1602,578 1602,607 1601,607 1601,626 1600,626 1600,641 1598,641 1598,640 1595,640 1595,641 1594,641 1594,642 1593,642 1593,644 1592,644 1592,645 1591,645 1591,644 1586,644 1586,648 1585,648 1585,649 1584,649 1584,651 1583,651 1583,653 1582,653 1582,655 1581,655 1581,657 1580,657 1580,661 1576,661 1576,660 1575,660 1575,651 1574,651 1574,641 1573,641 1573,638 1570,638 1570,606 1569,606 1569,609 1568,609 1568,612 1567,612 1567,615 1566,615 1566,617 1565,617 1565,618 1564,618 1564,620 1563,620 1563,621 1562,621 1562,622 1560,622 1560,623 1559,623 1559,620 1558,620 1558,621 1557,621 1557,624 1556,624 1556,634 1555,634 1555,635 1552,635 1552,637 1551,637 1551,634 1550,634 1550,632 1549,632 1549,631 1546,631 1546,629 1545,629 1545,624 1544,624 1544,619 1541,619 1541,620 1539,620 1539,621 1538,621 1538,623 1537,623 1537,625 1536,625 1536,640 1531,640 1531,633 1530,633 1530,631 1529,631 1529,629 1528,629 1528,631 1527,631 1527,630 1526,630 1526,620 1525,620 1525,618 1523,618 1523,616 1522,616 1522,614 1521,614 1521,613 1520,613 1520,576 1519,576 1519,606 1518,606 1518,609 1517,609 1517,611 1516,611 1516,608 1515,608 1515,609 1514,609 1514,612 1513,612 1513,614 1512,614 1512,621 1511,621 1511,623 1509,623 1509,625 1507,625 1507,624 1506,624 1506,603 1505,603 1505,589 1504,589 1504,588 1502,588 1502,599 1501,599 1501,619 1500,619 1500,645 1499,645 1499,652 1498,652 1498,662 1497,662 1497,673 1495,673 1495,675 1493,675 1493,674 1492,674 1492,672 1491,672 1491,671 1490,671 1490,670 1489,670 1489,676 1488,676 1488,678 1485,678 1485,680 1480,680 1480,679 1479,679 1479,680 1478,680 1478,681 1477,681 1477,683 1476,683 1476,685 1474,685 1474,684 1473,684 1473,683 1472,683 1472,674 1471,674 1471,664 1470,664 1470,666 1468,666 1468,686 1467,686 1467,687 1462,687 1462,686 1461,686 1461,685 1460,685 1460,682 1458,682 1458,681 1457,681 1457,680 1456,680 1456,676 1455,676 1455,679 1454,679 1454,680 1453,680 1453,681 1449,681 1449,679 1446,679 1446,661 1445,661 1445,662 1444,662 1444,661 1441,661 1441,660 1440,660 1440,657 1439,657 1439,656 1438,656 1438,649 1437,649 1437,628 1436,628 1436,635 1435,635 1435,657 1434,657 1434,662 1433,662 1433,664 1432,664 1432,665 1430,665 1430,666 1429,666 1429,679 1428,679 1428,678 1425,678 1425,679 1423,679 1423,673 1422,673 1422,645 1420,645 1420,643 1418,643 1418,642 1417,642 1417,629 1415,629 1415,630 1414,630 1414,629 1413,629 1413,613 1412,613 1412,596 1411,596 1411,592 1410,592 1410,590 1409,590 1409,588 1408,588 1408,586 1407,586 1407,603 1406,603 1406,622 1405,622 1405,635 1404,635 1404,645 1402,645 1402,646 1400,646 1400,662 1398,662 1398,663 1396,663 1396,662 1395,662 1395,661 1394,661 1394,659 1393,659 1393,657 1389,657 1389,658 1387,658 1387,657 1385,657 1385,654 1384,654 1384,649 1381,649 1381,664 1380,664 1380,676 1379,676 1379,677 1377,677 1377,678 1376,678 1376,683 1375,683 1375,691 1374,691 1374,699 1373,699 1373,702 1372,702 1372,703 1371,703 1371,704 1370,704 1370,705 1369,705 1369,703 1367,703 1367,702 1365,702 1365,696 1364,696 1364,678 1363,678 1363,676 1362,676 1362,677 1361,677 1361,676 1360,676 1360,673 1359,673 1359,659 1358,659 1358,658 1356,658 1356,647 1355,647 1355,643 1354,643 1354,652 1353,652 1353,654 1351,654 1351,653 1350,653 1350,696 1349,696 1349,697 1348,697 1348,699 1346,699 1346,701 1345,701 1345,703 1344,703 1344,705 1343,705 1343,707 1342,707 1342,708 1340,708 1340,701 1339,701 1339,697 1336,697 1336,696 1335,696 1335,694 1334,694 1334,691 1332,691 1332,692 1331,692 1331,694 1330,694 1330,695 1329,695 1329,696 1327,696 1327,695 1326,695 1326,694 1324,694 1324,690 1323,690 1323,701 1322,701 1322,726 1318,726 1318,725 1317,725 1317,723 1313,723 1313,724 1311,724 1311,725 1310,725 1310,727 1309,727 1309,728 1307,728 1307,727 1305,727 1305,726 1303,726 1303,727 1302,727 1302,734 1301,734 1301,736 1297,736 1297,732 1296,732 1296,733 1292,733 1292,735 1291,735 1291,740 1290,740 1290,746 1288,746 1288,747 1286,747 1286,745 1285,745 1285,746 1282,746 1282,748 1281,748 1281,749 1277,749 1277,748 1276,748 1276,747 1275,747 1275,738 1274,738 1274,731 1273,731 1273,730 1272,730 1272,729 1269,729 1269,731 1267,731 1267,730 1266,730 1266,729 1265,729 1265,727 1263,727 1263,731 1262,731 1262,734 1260,734 1260,733 1259,733 1259,732 1258,732 1258,730 1257,730 1257,729 1256,729 1256,722 1255,722 1255,716 1254,716 1254,714 1253,714 1253,713 1251,713 1251,705 1250,705 1250,700 1245,700 1245,701 1244,701 1244,700 1243,700 1243,717 1242,717 1242,731 1240,731 1240,733 1237,733 1237,724 1236,724 1236,710 1235,710 1235,707 1233,707 1233,709 1232,709 1232,719 1230,719 1230,720 1227,720 1227,719 1226,719 1226,718 1225,718 1225,719 1224,719 1224,718 1223,718 1223,717 1222,717 1222,716 1220,716 1220,714 1217,714 1217,712 1213,712 1213,713 1211,713 1211,714 1210,714 1210,713 1208,713 1208,717 1207,717 1207,721 1203,721 1203,714 1202,714 1202,710 1200,710 1200,714 1198,714 1198,718 1197,718 1197,720 1196,720 1196,721 1194,721 1194,720 1193,720 1193,711 1192,711 1192,706 1191,706 1191,704 1188,704 1188,699 1187,699 1187,677 1186,677 1186,675 1184,675 1184,674 1183,674 1183,672 1182,672 1182,673 1180,673 1180,681 1179,681 1179,689 1178,689 1178,693 1177,693 1177,694 1176,694 1176,696 1175,696 1175,699 1174,699 1174,704 1173,704 1173,707 1172,707 1172,706 1170,706 1170,708 1169,708 1169,710 1163,710 1163,709 1159,709 1159,706 1158,706 1158,692 1157,692 1157,681 1154,681 1154,679 1153,679 1153,671 1152,671 1152,670 1151,670 1151,674 1150,674 1150,692 1149,692 1149,709 1148,709 1148,707 1147,707 1147,708 1146,708 1146,710 1143,710 1143,709 1141,709 1141,713 1140,713 1140,717 1139,717 1139,724 1138,724 1138,728 1137,728 1137,730 1134,730 1134,721 1133,721 1133,712 1131,712 1131,713 1130,713 1130,712 1129,712 1129,711 1127,711 1127,710 1123,710 1123,708 1120,708 1120,710 1119,710 1119,704 1118,704 1118,702 1117,702 1117,701 1116,701 1116,699 1114,699 1114,698 1113,698 1113,682 1111,682 1111,683 1109,683 1109,667 1108,667 1108,649 1107,649 1107,648 1106,648 1106,647 1104,647 1104,675 1103,675 1103,683 1102,683 1102,685 1101,685 1101,695 1100,695 1100,702 1096,702 1096,700 1095,700 1095,701 1093,701 1093,702 1090,702 1090,701 1086,701 1086,702 1083,702 1083,701 1082,701 1082,699 1081,699 1081,698 1080,698 1080,696 1079,696 1079,681 1075,681 1075,677 1074,677 1074,670 1072,670 1072,669 1071,669 1071,668 1070,668 1070,652 1067,652 1067,651 1065,651 1065,650 1063,650 1063,651 1061,651 1061,649 1060,649 1060,647 1059,647 1059,643 1058,643 1058,642 1057,642 1057,641 1056,641 1056,640 1055,640 1055,633 1054,633 1054,636 1053,636 1053,643 1052,643 1052,649 1048,649 1048,647 1047,647 1047,644 1046,644 1046,639 1045,639 1045,640 1044,640 1044,657 1043,657 1043,681 1042,681 1042,690 1041,690 1041,691 1036,691 1036,690 1035,690 1035,689 1033,689 1033,688 1032,688 1032,686 1031,686 1031,684 1030,684 1030,683 1029,683 1029,686 1028,686 1028,685 1026,685 1026,682 1025,682 1025,673 1024,673 1024,679 1023,679 1023,691 1022,691 1022,702 1021,702 1021,708 1020,708 1020,710 1018,710 1018,711 1017,711 1017,710 1016,710 1016,709 1015,709 1015,708 1014,708 1014,705 1013,705 1013,704 1012,704 1012,705 1011,705 1011,704 1010,704 1010,702 1009,702 1009,700 1008,700 1008,699 1007,699 1007,683 1006,683 1006,668 1005,668 1005,667 1003,667 1003,666 1002,666 1002,660 1001,660 1001,657 1000,657 1000,656 999,656 999,655 995,655 995,654 993,654 993,651 992,651 992,645 991,645 991,643 990,643 990,642 988,642 988,628 987,628 987,609 986,609 986,598 985,598 985,609 984,609 984,633 983,633 983,640 982,640 982,646 978,646 978,645 977,645 977,642 976,642 976,622 975,622 975,606 973,606 973,605 972,605 972,604 971,604 971,603 970,603 970,602 969,602 969,604 968,604 968,609 967,609 967,613 966,613 966,617 965,617 965,634 964,634 964,658 963,658 963,666 961,666 961,667 959,667 959,670 958,670 958,673 957,673 957,672 956,672 956,673 954,673 954,672 953,672 953,670 951,670 951,669 950,669 950,670 949,670 949,674 948,674 948,677 945,677 945,676 943,676 943,666 942,666 942,643 941,643 941,631 939,631 939,630 938,630 938,622 937,622 937,609 936,609 936,604 935,604 935,603 934,603 934,604 933,604 933,608 932,608 932,612 931,612 931,613 930,613 930,612 927,612 927,613 925,613 925,616 924,616 924,623 923,623 923,629 922,629 922,636 921,636 921,647 920,647 920,655 919,655 919,657 918,657 918,660 917,660 917,661 915,661 915,660 914,660 914,659 913,659 913,648 912,648 912,628 911,628 911,632 909,632 909,633 905,633 905,678 904,678 904,683 903,683 903,684 902,684 902,685 901,685 901,683 900,683 900,682 899,682 899,681 897,681 897,680 896,680 896,683 895,683 895,677 894,677 894,660 891,660 891,672 890,672 890,690 889,690 889,691 888,691 888,692 886,692 886,693 885,693 885,691 883,691 883,690 882,690 882,689 880,689 880,688 879,688 879,670 878,670 878,667 876,667 876,666 874,666 874,642 870,642 870,638 869,638 869,620 868,620 868,607 867,607 867,604 866,604 866,601 865,601 865,598 864,598 864,596 863,596 863,594 862,594 862,593 861,593 861,591 859,591 859,590 858,590 858,589 857,589 857,603 856,603 856,626 855,626 855,630 854,630 854,631 852,631 852,663 851,663 851,685 850,685 850,704 846,704 846,703 845,703 845,700 844,700 844,697 843,697 843,696 841,696 841,694 840,694 840,686 839,686 839,670 838,670 838,669 837,669 837,668 836,668 836,670 835,670 835,660 834,660 834,650 831,650 831,649 830,649 830,625 829,625 829,615 828,615 828,614 827,614 827,612 826,612 826,610 825,610 825,608 824,608 824,591 821,591 821,592 818,592 818,591 817,591 817,592 816,592 816,594 815,594 815,602 814,602 814,607 813,607 813,608 812,608 812,607 810,607 810,603 809,603 809,597 808,597 808,610 807,610 807,625 806,625 806,644 805,644 805,650 804,650 804,648 803,648 803,647 800,647 800,630 799,630 799,628 798,628 798,627 797,627 797,641 796,641 796,655 791,655 791,651 790,651 790,636 788,636 788,639 787,639 787,641 784,641 784,642 782,642 782,640 781,640 781,638 780,638 780,636 779,636 779,634 778,634 778,632 777,632 777,625 776,625 776,616 775,616 775,614 773,614 773,663 772,663 772,667 771,667 771,668 765,668 765,667 763,667 763,664 762,664 762,658 761,658 761,650 760,650 760,645 759,645 759,644 758,644 758,645 756,645 756,646 755,646 755,647 754,647 754,648 753,648 753,646 752,646 752,641 751,641 751,614 750,614 750,601 748,601 748,602 747,602 747,593 746,593 746,560 745,560 745,548 744,548 744,547 743,547 743,548 742,548 742,549 737,549 737,547 736,547 736,544 734,544 734,543 732,543 732,530 731,530 731,512 730,512 730,526 729,526 729,544 728,544 728,550 727,550 727,553 726,553 726,554 722,554 722,567 721,567 721,581 720,581 720,597 719,597 719,613 718,613 718,617 717,617 717,620 716,620 716,622 715,622 715,625 714,625 714,636 713,636 713,647 709,647 709,682 707,682 707,681 703,681 703,675 702,675 702,647 700,647 700,650 699,650 699,649 697,649 697,648 696,648 696,647 695,647 695,643 694,643 694,641 693,641 693,636 692,636 692,633 690,633 690,634 689,634 689,633 688,633 688,623 687,623 687,601 686,601 686,595 685,595 685,594 684,594 684,593 683,593 683,586 682,586 682,580 680,580 680,578 679,578 679,577 678,577 678,569 677,569 677,567 675,567 675,581 674,581 674,608 673,608 673,610 669,610 669,577 668,577 668,565 665,565 665,564 664,564 664,563 663,563 663,557 662,557 662,537 659,537 659,542 658,542 658,546 657,546 657,566 656,566 656,586 655,586 655,601 654,601 654,611 652,611 652,613 649,613 649,611 648,611 648,604 647,604 647,598 646,598 646,597 643,597 643,573 642,573 642,558 641,558 641,582 640,582 640,597 639,597 639,600 638,600 638,602 634,602 634,600 633,600 633,570 632,570 632,563 631,563 631,565 628,565 628,564 627,564 627,563 624,563 624,564 623,564 623,525 621,525 621,567 620,567 620,601 619,601 619,602 618,602 618,601 617,601 617,600 616,600 616,599 615,599 615,600 614,600 614,575 613,575 613,556 612,556 612,552 611,552 611,549 610,549 610,545 609,545 609,494 608,494 608,492 606,492 606,502 605,502 605,511 603,511 603,513 600,513 600,511 599,511 599,509 598,509 598,510 597,510 597,514 596,514 596,518 595,518 595,521 594,521 594,522 593,522 593,521 592,521 592,530 591,530 591,567 590,567 590,578 589,578 589,582 585,582 585,581 584,581 584,560 583,560 583,553 582,553 582,552 580,552 580,539 579,539 579,530 578,530 578,544 577,544 577,555 576,555 576,563 575,563 575,571 574,571 574,572 573,572 573,571 571,571 571,578 570,578 570,580 566,580 566,578 564,578 564,525 560,525 560,526 558,526 558,527 557,527 557,529 556,529 556,562 554,562 554,561 551,561 551,558 550,558 550,531 549,531 549,513 548,513 548,501 547,501 547,492 546,492 546,507 545,507 545,508 544,508 544,509 543,509 543,516 542,516 542,565 541,565 541,589 540,589 540,588 538,588 538,589 537,589 537,588 536,588 536,576 535,576 535,537 534,537 534,520 533,520 533,511 532,511 532,505 530,505 530,507 529,507 529,567 528,567 528,615 527,615 527,642 526,642 526,655 525,655 525,656 521,656 521,653 520,653 520,649 517,649 517,648 516,648 516,631 515,631 515,613 513,613 513,612 511,612 511,611 507,611 507,602 506,602 506,592 505,592 505,591 503,591 503,590 502,590 502,587 501,587 501,581 499,581 499,580 497,580 497,572 496,572 496,550 495,550 495,525 493,525 493,524 492,524 492,513 491,513 491,485 490,485 490,472 489,472 489,470 487,470 487,473 486,473 486,477 485,477 485,485 484,485 484,544 483,544 483,565 482,565 482,567 481,567 481,570 479,570 479,569 477,569 477,557 476,557 476,527 475,527 475,525 473,525 473,526 472,526 472,523 471,523 471,522 470,522 470,540 469,540 469,556 468,556 468,568 465,568 465,567 462,567 462,556 461,556 461,558 459,558 459,557 458,557 458,551 457,551 457,547 456,547 456,546 453,546 453,543 452,543 452,536 448,536 448,527 447,527 447,507 446,507 446,491 443,491 443,490 442,490 442,485 441,485 441,478 440,478 440,474 439,474 439,473 438,473 438,471 437,471 437,460 436,460 436,442 433,442 433,452 432,452 432,463 431,463 431,474 430,474 430,485 429,485 429,496 425,496 425,499 424,499 424,503 418,503 418,493 414,493 414,488 413,488 413,473 412,473 412,472 410,472 410,475 404,475 404,468 403,468 403,465 400,465 400,472 399,472 399,475 398,475 398,476 397,476 397,477 396,477 396,475 395,475 395,474 392,474 392,475 391,475 391,474 389,474 389,471 388,471 388,444 387,444 387,434 386,434 386,433 384,433 384,415 383,415 383,401 382,401 382,395 381,395 381,396 380,396 380,413 379,413 379,437 378,437 378,447 377,447 377,449 376,449 376,451 375,451 375,452 374,452 374,453 373,453 373,455 372,455 372,456 371,456 371,457 370,457 370,458 366,458 366,468 365,468 365,476 364,476 364,481 363,481 363,491 362,491 362,502 361,502 361,504 360,504 360,505 355,505 355,500 354,500 354,493 353,493 353,489 352,489 352,491 351,491 351,492 350,492 350,495 349,495 349,505 348,505 348,512 347,512 347,527 346,527 346,552 345,552 345,555 343,555 343,556 342,556 342,557 341,557 341,558 339,558 339,559 338,559 338,558 337,558 337,559 335,559 335,555 334,555 334,548 333,548 333,550 331,550 331,549 330,549 330,539 329,539 329,533 328,533 328,532 327,532 327,533 325,533 325,520 324,520 324,489 323,489 323,486 321,486 321,506 320,506 320,508 317,508 317,507 315,507 315,492 314,492 314,484 312,484 312,482 311,482 311,479 310,479 310,476 307,476 307,480 306,480 306,487 302,487 302,486 301,486 301,472 300,472 300,443 299,443 299,442 297,442 297,440 296,440 296,442 295,442 295,453 294,453 294,475 293,475 293,482 292,482 292,485 291,485 291,486 287,486 287,500 286,500 286,505 284,505 284,503 281,503 281,478 280,478 280,464 277,464 277,465 276,465 276,455 275,455 275,449 272,449 272,446 270,446 270,448 269,448 269,449 268,449 268,451 267,451 267,452 266,452 266,451 264,451 264,455 263,455 263,480 262,480 262,487 261,487 261,488 260,488 260,486 259,486 259,487 258,487 258,499 257,499 257,504 252,504 252,498 251,498 251,499 248,499 248,500 247,500 247,499 246,499 246,492 245,492 245,491 244,491 244,490 242,490 242,487 241,487 241,470 240,470 240,464 239,464 239,463 237,463 237,456 234,456 234,457 233,457 233,461 229,461 229,462 227,462 227,454 226,454 226,451 224,451 224,449 223,449 223,447 222,447 222,441 221,441 221,440 220,440 220,441 218,441 218,439 217,439 217,436 216,436 216,437 215,437 215,436 213,436 213,431 212,431 212,417 211,417 211,413 208,413 208,407 207,407 207,401 206,401 206,399 205,399 205,406 204,406 204,421 203,421 203,432 201,432 201,451 200,451 200,473 199,473 199,492 198,492 198,493 195,493 195,495 193,495 193,490 192,490 192,482 191,482"/>
</g>
<!-- vertical markers -->
<g fill="none" stroke-width="10" stroke-dasharray="28.3 6.25 13.9 6.25" stroke-dashoffset="17.2">
<path d="M1394 82.5V1460" stroke="#E0883A"/>
<path d="M1590 82.5V1460" stroke="#E0883A"/>
<path d="M1688 82.5V1460" stroke="#00CC00"/>
</g>
<!-- y tick labels -->
<g class="tk" text-anchor="end">
<text x="165.5" y="1489">0</text>
<text x="165.5" y="1336">1</text>
<text x="165.5" y="1183">2</text>
<text x="165.5" y="1030">3</text>
<text x="165.5" y="877">4</text>
<text x="165.5" y="724">5</text>
<text x="165.5" y="571">6</text>
<text x="165.5" y="418">7</text>
<text x="165.5" y="265">8</text>
<text x="165.5" y="111">9</text>
</g>
<!-- x tick labels -->
<g class="tk" text-anchor="middle">
<text x="191" y="1560">0</text>
<text x="598" y="1560">2000</text>
<text x="1007" y="1560">4000</text>
<text x="1416.7" y="1560">6000</text>
<text x="1826.4" y="1560">8000</text>
</g>
<text class="lb" x="1110.5" y="1668" text-anchor="middle">Sample order</text>
<text class="lb" x="0" y="0" text-anchor="middle" transform="translate(91 773) rotate(-90)">Frequency (Hz)</text>
<!-- top labels -->
<g class="an" style="font-size:65px">
<text x="1319.5" y="64">5880</text>
<text x="1496.5" y="64">6840</text>
<text x="1654" y="62">7320</text>
</g>
<!-- boxes -->
<g fill="none" stroke-width="10" stroke-linejoin="bevel" stroke-dasharray="28.3 26.4">
<path d="M1283 277V175H1638V277Z" stroke="#00D400"/>
<path d="M1719 273.7V175H2007V273.7Z" stroke="#00D400"/>
<path d="M1005 1384.5V1282H1204V1384.5Z" stroke="#F06028"/>
<path d="M1343 1381V1278H1658.5V1381Z" stroke="#F06028"/>
<path d="M1753 1377.5V1275H1952V1377.5Z" stroke="#F06028"/>
</g>
<g class="an">
<text x="1304" y="250">Undamaged</text>
<text x="1741" y="250">Damaged</text>
<text x="1028" y="1357">Train</text>
<text x="1366" y="1353">Validation</text>
<text x="1777" y="1350">Test</text>
</g>
<!-- legend -->
<rect x="260.5" y="126.4" width="902" height="129.6" fill="#fff" stroke="#1e1e1e" stroke-width="2.7"/>
<g stroke-width="5">
<path d="M273.8 191.5H411" stroke="#0072BD"/>
<path d="M498.8 191.5H637" stroke="#F5520A"/>
<path d="M725 191.5H861.7" stroke="#FFB000"/>
<path d="M951 191.5H1088" stroke="#8B2A8F"/>
</g>
<g class="lg">
<text transform="translate(414.2 203.7) scale(1.18 1)" style="font-family:'DejaVu Serif',serif;font-style:italic;font-size:70px">f</text><text x="456.1" y="235.5" text-anchor="middle" font-size="60">1</text>
<text transform="translate(638.7 203.7) scale(1.18 1)" style="font-family:'DejaVu Serif',serif;font-style:italic;font-size:70px">f</text><text x="680.5" y="235.5" text-anchor="middle" font-size="60">2</text>
<text transform="translate(865.3 203.7) scale(1.18 1)" style="font-family:'DejaVu Serif',serif;font-style:italic;font-size:70px">f</text><text x="906.8" y="235.5" text-anchor="middle" font-size="60">3</text>
<text transform="translate(1091 203.7) scale(1.18 1)" style="font-family:'DejaVu Serif',serif;font-style:italic;font-size:70px">f</text><text x="1131.8" y="235.5" text-anchor="middle" font-size="60">4</text>
</g>
</svg>
</body></html>
